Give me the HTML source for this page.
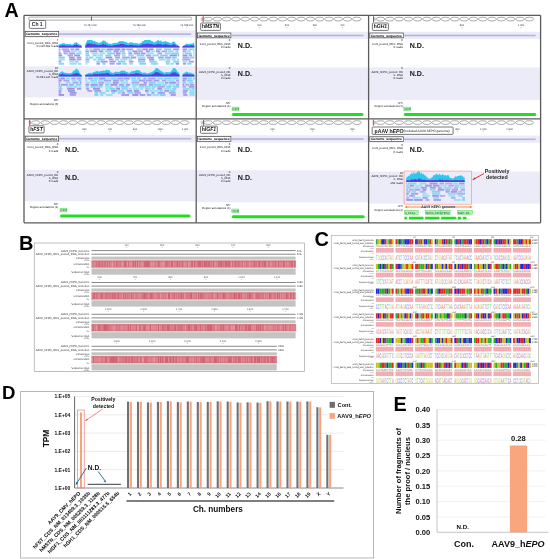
<!DOCTYPE html>
<html><head><meta charset="utf-8"><style>
html,body{margin:0;padding:0;background:#fff;}
body{width:550px;height:559px;overflow:hidden;}
svg{display:block;font-family:"Liberation Sans", Arial, sans-serif;}
.g text{text-rendering:geometricPrecision;}
</style></head><body>
<svg width="550" height="559" viewBox="0 0 550 559">
<rect width="550" height="559" fill="#fff"/>
<rect x="28.50" y="17.10" width="163.20" height="3" rx="1.5" fill="#fff" stroke="#888" stroke-width="0.7"/>
<rect x="91.00" y="16.50" width="1.00" height="4.00" fill="#e8303a" />
<rect x="29.30" y="20.50" width="16.40" height="7.90" fill="#fff" stroke="#555" stroke-width="0.8" rx="0.8"/>
<text x="37.2" y="26.0" font-size="5.0" font-weight="bold" text-anchor="middle" fill="#222">Ch 1</text>
<text x="90.30" y="26.00" font-size="2.6" fill="#333"   text-anchor="middle" text-rendering="geometricPrecision" >76,784,000</text>
<line x1="90.30" y1="27.20" x2="90.30" y2="28.30" stroke="#666" stroke-width="0.4" />
<text x="139.30" y="26.00" font-size="2.6" fill="#333"   text-anchor="middle" text-rendering="geometricPrecision" >76,786,000</text>
<line x1="139.30" y1="27.20" x2="139.30" y2="28.30" stroke="#666" stroke-width="0.4" />
<text x="186.70" y="26.00" font-size="2.6" fill="#333"   text-anchor="middle" text-rendering="geometricPrecision" >76,788,000</text>
<line x1="186.70" y1="27.20" x2="186.70" y2="28.30" stroke="#666" stroke-width="0.4" />
<rect x="24.50" y="30.40" width="171.20" height="7.20" fill="#ececf8" />
<rect x="25.20" y="31.60" width="33.5" height="4.8" fill="#fff" stroke="#444" stroke-width="0.7"/>
<text x="26.30" y="35.20" font-size="3.4" fill="#000" font-weight="bold"  text-anchor="start" text-rendering="geometricPrecision" >Genome_sequence</text>
<rect x="59.00" y="33.30" width="132.20" height="1.60" fill="#b4b4dc" />
<rect x="24.50" y="66.30" width="171.20" height="31.20" fill="#ececf8" />
<text x="58.20" y="40.90" font-size="2.8" fill="#111"   text-anchor="end" text-rendering="geometricPrecision" >4</text>
<text x="58.20" y="44.10" font-size="2.8" fill="#111"   text-anchor="end" text-rendering="geometricPrecision" >Cont_pooled_DBS_DNA</text>
<text x="58.20" y="46.60" font-size="2.8" fill="#111"   text-anchor="end" text-rendering="geometricPrecision" >54,135,082 reads</text>
<text x="58.20" y="68.90" font-size="2.8" fill="#111"   text-anchor="end" text-rendering="geometricPrecision" >10</text>
<text x="58.20" y="71.70" font-size="2.8" fill="#111"   text-anchor="end" text-rendering="geometricPrecision" >AAV9_hEPO_pooled_DB</text>
<text x="58.20" y="74.50" font-size="2.8" fill="#111"   text-anchor="end" text-rendering="geometricPrecision" >S_DNA</text>
<text x="58.20" y="77.70" font-size="2.8" fill="#111"   text-anchor="end" text-rendering="geometricPrecision" >51,691,334 reads</text>
<text x="58.20" y="101.10" font-size="2.8" fill="#111"   text-anchor="end" text-rendering="geometricPrecision" >NT/</text>
<text x="58.20" y="105.10" font-size="2.8" fill="#111"   text-anchor="end" text-rendering="geometricPrecision" >Region annotations (0)</text>
<path d="M58.6,47.6 L58.6,44.4 L59.2,44.4 L59.8,44.3 L60.4,43.8 L61.0,43.8 L61.6,43.9 L62.2,43.1 L62.8,43.4 L63.4,43.0 L64.0,43.5 L64.6,43.1 L65.2,43.7 L65.8,44.1 L66.4,44.1 L67.0,44.1 L67.6,43.9 L68.2,44.1 L68.8,44.2 L69.4,43.9 L70.0,43.9 L70.6,43.8 L71.2,44.6 L71.8,44.4 L72.4,44.6 L73.0,44.2 L73.6,43.9 L74.2,42.9 L74.8,42.4 L75.4,42.5 L76.0,42.5 L76.6,42.0 L77.2,43.0 L77.8,43.1 L78.4,43.9 L79.0,44.4 L79.6,44.3 L80.2,44.6 L80.8,44.9 L81.4,45.4 L82.0,47.6 L82.6,47.6 L83.2,47.6 L83.8,47.6 L84.4,47.6 L85.0,47.6 L85.6,43.4 L86.2,42.2 L86.8,41.6 L87.4,40.1 L88.0,40.1 L88.6,40.1 L89.2,40.1 L89.8,40.1 L90.4,40.1 L91.0,40.1 L91.6,40.1 L92.2,40.1 L92.8,40.8 L93.4,41.0 L94.0,41.3 L94.6,40.7 L95.2,41.5 L95.8,41.9 L96.4,42.3 L97.0,42.0 L97.6,42.3 L98.2,42.8 L98.8,43.3 L99.4,42.7 L100.0,42.6 L100.6,42.6 L101.2,42.0 L101.8,41.8 L102.4,40.8 L103.0,40.9 L103.6,40.1 L104.2,41.2 L104.8,40.5 L105.4,41.1 L106.0,41.9 L106.6,42.6 L107.2,42.6 L107.8,42.7 L108.4,43.7 L109.0,43.6 L109.6,43.8 L110.2,43.8 L110.8,43.8 L111.4,43.8 L112.0,43.9 L112.6,43.2 L113.2,43.3 L113.8,42.8 L114.4,42.9 L115.0,43.0 L115.6,42.6 L116.2,42.6 L116.8,43.2 L117.4,42.5 L118.0,42.4 L118.6,41.6 L119.2,41.1 L119.8,41.2 L120.4,40.9 L121.0,41.0 L121.6,41.5 L122.2,40.7 L122.8,41.2 L123.4,41.6 L124.0,41.1 L124.6,42.1 L125.2,41.8 L125.8,42.1 L126.4,42.1 L127.0,42.4 L127.6,43.1 L128.2,43.4 L128.8,43.1 L129.4,42.7 L130.0,42.3 L130.6,42.1 L131.2,42.6 L131.8,42.5 L132.4,42.4 L133.0,42.5 L133.6,43.3 L134.2,43.1 L134.8,43.6 L135.4,42.9 L136.0,43.1 L136.6,43.2 L137.2,43.3 L137.8,43.3 L138.4,43.8 L139.0,43.7 L139.6,43.4 L140.2,43.2 L140.8,42.4 L141.4,42.6 L142.0,42.3 L142.6,41.0 L143.2,41.0 L143.8,40.9 L144.4,40.1 L145.0,40.1 L145.6,40.1 L146.2,40.1 L146.8,40.1 L147.4,40.1 L148.0,40.1 L148.6,40.1 L149.2,40.1 L149.8,40.1 L150.4,40.1 L151.0,40.9 L151.6,40.9 L152.2,41.1 L152.8,41.6 L153.4,42.0 L154.0,42.0 L154.6,42.5 L155.2,42.3 L155.8,41.2 L156.4,41.5 L157.0,41.0 L157.6,40.1 L158.2,40.1 L158.8,40.5 L159.4,41.2 L160.0,40.6 L160.6,40.5 L161.2,41.3 L161.8,41.4 L162.4,41.8 L163.0,42.0 L163.6,41.4 L164.2,41.3 L164.8,41.7 L165.4,40.9 L166.0,40.8 L166.6,41.9 L167.2,41.7 L167.8,42.1 L168.4,42.2 L169.0,42.5 L169.6,42.7 L170.2,43.3 L170.8,42.9 L171.4,43.2 L172.0,42.6 L172.6,41.8 L173.2,41.6 L173.8,41.6 L174.4,41.8 L175.0,42.0 L175.6,43.4 L176.2,44.0 L176.8,44.6 L177.4,45.0 L178.0,45.4 L178.6,45.8 L179.2,46.2 L179.8,47.6 L180.4,47.6 L181.0,47.6 L181.6,47.6 L182.2,47.6 L182.8,46.3 L183.4,45.8 L184.0,45.5 L184.6,44.9 L185.2,44.6 L185.8,43.9 L186.4,43.5 L187.0,44.1 L187.6,43.6 L188.2,43.9 L188.8,44.0 L189.4,44.1 L190.0,43.5 L190.6,43.8 L191.2,43.7 L191.8,43.6 L192.4,43.8 L193.0,43.0 L193.6,42.5 L194.2,42.5 L194.5,47.6 Z" fill="#2ec8ee"/>
<path d="M58.6,47.6 L58.6,45.8 L59.2,45.8 L59.8,45.8 L60.4,45.6 L61.0,45.4 L61.6,45.8 L62.2,45.0 L62.8,45.6 L63.4,44.9 L64.0,45.2 L64.6,45.2 L65.2,45.8 L65.8,45.5 L66.4,45.7 L67.0,45.6 L67.6,45.8 L68.2,45.7 L68.8,45.8 L69.4,45.4 L70.0,45.8 L70.6,45.8 L71.2,45.8 L71.8,45.8 L72.4,45.8 L73.0,45.8 L73.6,45.5 L74.2,45.0 L74.8,44.8 L75.4,45.3 L76.0,44.6 L76.6,44.2 L77.2,45.1 L77.8,45.1 L78.4,45.4 L79.0,45.8 L79.6,45.7 L80.2,45.8 L80.8,45.8 L81.4,45.8 L82.0,47.6 L82.6,47.6 L83.2,47.6 L83.8,47.6 L84.4,47.6 L85.0,47.6 L85.6,45.4 L86.2,44.7 L86.8,44.3 L87.4,43.2 L88.0,43.8 L88.6,43.6 L89.2,43.3 L89.8,43.4 L90.4,43.5 L91.0,44.0 L91.6,43.7 L92.2,43.2 L92.8,44.5 L93.4,43.9 L94.0,44.6 L94.6,43.8 L95.2,44.0 L95.8,44.5 L96.4,44.9 L97.0,44.3 L97.6,44.9 L98.2,45.2 L98.8,45.3 L99.4,44.7 L100.0,44.6 L100.6,45.2 L101.2,44.9 L101.8,44.6 L102.4,44.1 L103.0,43.8 L103.6,43.7 L104.2,44.7 L104.8,44.4 L105.4,44.1 L106.0,44.4 L106.6,45.2 L107.2,45.3 L107.8,45.2 L108.4,45.8 L109.0,45.5 L109.6,45.5 L110.2,45.4 L110.8,45.8 L111.4,45.8 L112.0,45.7 L112.6,45.5 L113.2,45.4 L113.8,45.1 L114.4,44.9 L115.0,45.0 L115.6,45.3 L116.2,44.8 L116.8,45.3 L117.4,44.6 L118.0,44.8 L118.6,44.2 L119.2,44.2 L119.8,44.5 L120.4,43.8 L121.0,43.9 L121.6,44.0 L122.2,43.5 L122.8,44.0 L123.4,44.1 L124.0,44.3 L124.6,44.7 L125.2,44.3 L125.8,45.1 L126.4,45.1 L127.0,45.1 L127.6,45.0 L128.2,45.6 L128.8,45.1 L129.4,44.9 L130.0,44.8 L130.6,45.0 L131.2,45.0 L131.8,44.8 L132.4,44.8 L133.0,44.9 L133.6,45.4 L134.2,44.9 L134.8,45.3 L135.4,45.1 L136.0,45.5 L136.6,45.3 L137.2,45.7 L137.8,45.3 L138.4,45.5 L139.0,45.6 L139.6,45.7 L140.2,45.4 L140.8,44.6 L141.4,45.0 L142.0,44.8 L142.6,43.8 L143.2,44.3 L143.8,44.0 L144.4,44.1 L145.0,44.2 L145.6,44.0 L146.2,43.9 L146.8,43.5 L147.4,43.4 L148.0,43.7 L148.6,44.0 L149.2,43.7 L149.8,43.8 L150.4,44.0 L151.0,43.9 L151.6,44.0 L152.2,44.1 L152.8,44.7 L153.4,44.4 L154.0,44.8 L154.6,44.6 L155.2,44.4 L155.8,44.6 L156.4,44.2 L157.0,44.6 L157.6,43.8 L158.2,44.1 L158.8,43.7 L159.4,44.5 L160.0,43.5 L160.6,44.3 L161.2,44.0 L161.8,44.2 L162.4,45.0 L163.0,45.0 L163.6,44.3 L164.2,44.6 L164.8,44.8 L165.4,43.6 L166.0,44.5 L166.6,44.2 L167.2,44.3 L167.8,44.7 L168.4,44.8 L169.0,45.3 L169.6,44.8 L170.2,45.4 L170.8,45.2 L171.4,45.5 L172.0,45.3 L172.6,44.3 L173.2,44.1 L173.8,44.5 L174.4,44.6 L175.0,44.4 L175.6,45.1 L176.2,45.5 L176.8,45.8 L177.4,45.8 L178.0,45.8 L178.6,45.8 L179.2,46.2 L179.8,47.6 L180.4,47.6 L181.0,47.6 L181.6,47.6 L182.2,47.6 L182.8,46.3 L183.4,45.8 L184.0,45.8 L184.6,45.8 L185.2,45.8 L185.8,45.6 L186.4,45.2 L187.0,45.7 L187.6,45.6 L188.2,45.8 L188.8,45.8 L189.4,45.8 L190.0,45.4 L190.6,45.3 L191.2,45.2 L191.8,45.3 L192.4,45.6 L193.0,45.5 L193.6,45.2 L194.2,45.2 L194.5,47.6 Z" fill="#5840e0"/>
<rect x="58.6" y="48.4" width="1.8" height="1.9" fill="#aaa4f0"/><rect x="58.6" y="50.4" width="1.9" height="1.9" fill="#82d2ee"/><rect x="58.6" y="52.5" width="2.8" height="1.9" fill="#a29cec"/><rect x="58.6" y="54.5" width="3.6" height="1.9" fill="#9a94e8"/><rect x="58.6" y="56.6" width="6.2" height="1.9" fill="#82d2ee"/><rect x="58.6" y="58.6" width="6.3" height="1.9" fill="#9adef4"/><rect x="58.6" y="60.7" width="2.8" height="1.9" fill="#aaa4f0"/><rect x="58.6" y="62.8" width="5.4" height="1.9" fill="#8cd8f2"/><rect x="61.6" y="48.4" width="7.6" height="1.9" fill="#aaa4f0"/><rect x="63.1" y="50.4" width="7.0" height="1.9" fill="#a29cec"/><rect x="63.6" y="52.5" width="4.2" height="1.9" fill="#aaa4f0"/><rect x="67.5" y="54.5" width="5.5" height="1.9" fill="#aaa4f0"/><rect x="68.8" y="52.5" width="6.3" height="1.9" fill="#a29cec"/><rect x="69.0" y="56.6" width="5.6" height="1.9" fill="#9a94e8"/><rect x="69.3" y="58.6" width="6.4" height="1.9" fill="#9a94e8"/><rect x="69.4" y="60.7" width="4.5" height="1.9" fill="#9adef4"/><rect x="69.6" y="62.8" width="7.3" height="1.9" fill="#9adef4"/><rect x="70.4" y="48.4" width="4.1" height="1.9" fill="#aaa4f0"/><rect x="70.8" y="50.4" width="5.9" height="1.9" fill="#9adef4"/><rect x="74.2" y="54.5" width="5.8" height="1.9" fill="#9a94e8"/><rect x="74.7" y="60.7" width="4.0" height="1.9" fill="#8cd8f2"/><rect x="75.4" y="48.4" width="3.9" height="1.9" fill="#9a94e8"/><rect x="76.1" y="52.5" width="5.5" height="1.9" fill="#8cd8f2"/><rect x="76.6" y="56.6" width="4.7" height="1.9" fill="#a29cec"/><rect x="76.6" y="58.6" width="4.8" height="1.9" fill="#aaa4f0"/><rect x="77.8" y="50.4" width="3.5" height="1.9" fill="#9adef4"/><rect x="78.0" y="62.8" width="3.3" height="1.9" fill="#9adef4"/><rect x="85.5" y="48.4" width="2.3" height="1.9" fill="#8cd8f2"/><rect x="85.5" y="50.4" width="3.6" height="1.9" fill="#a29cec"/><rect x="85.5" y="52.5" width="3.5" height="1.9" fill="#82d2ee"/><rect x="85.5" y="54.5" width="4.0" height="1.9" fill="#82d2ee"/><rect x="85.5" y="56.6" width="2.7" height="1.9" fill="#8cd8f2"/><rect x="85.5" y="58.6" width="3.9" height="1.9" fill="#aaa4f0"/><rect x="85.5" y="60.7" width="3.9" height="1.9" fill="#8cd8f2"/><rect x="85.5" y="62.8" width="1.9" height="1.9" fill="#9adef4"/><rect x="88.8" y="48.4" width="3.9" height="1.9" fill="#9adef4"/><rect x="88.9" y="56.6" width="4.3" height="1.9" fill="#82d2ee"/><rect x="90.1" y="50.4" width="7.1" height="1.9" fill="#9a94e8"/><rect x="91.6" y="52.5" width="6.9" height="1.9" fill="#9adef4"/><rect x="92.7" y="54.5" width="4.1" height="1.9" fill="#8cd8f2"/><rect x="93.2" y="58.6" width="3.2" height="1.9" fill="#8cd8f2"/><rect x="93.3" y="48.4" width="6.6" height="1.9" fill="#a29cec"/><rect x="95.8" y="56.6" width="6.9" height="1.9" fill="#8cd8f2"/><rect x="96.3" y="60.7" width="3.5" height="1.9" fill="#82d2ee"/><rect x="96.5" y="62.8" width="3.5" height="1.9" fill="#a29cec"/><rect x="97.5" y="54.5" width="5.5" height="1.9" fill="#9adef4"/><rect x="97.7" y="58.6" width="7.2" height="1.9" fill="#82d2ee"/><rect x="98.6" y="50.4" width="4.8" height="1.9" fill="#9a94e8"/><rect x="99.6" y="52.5" width="5.7" height="1.9" fill="#9adef4"/><rect x="100.5" y="60.7" width="7.2" height="1.9" fill="#a29cec"/><rect x="100.6" y="48.4" width="5.1" height="1.9" fill="#8cd8f2"/><rect x="102.3" y="62.8" width="3.2" height="1.9" fill="#82d2ee"/><rect x="104.8" y="50.4" width="6.7" height="1.9" fill="#8cd8f2"/><rect x="105.4" y="54.5" width="5.9" height="1.9" fill="#82d2ee"/><rect x="105.5" y="56.6" width="6.8" height="1.9" fill="#9a94e8"/><rect x="106.6" y="48.4" width="7.0" height="1.9" fill="#9a94e8"/><rect x="107.2" y="52.5" width="7.8" height="1.9" fill="#82d2ee"/><rect x="108.8" y="58.6" width="4.8" height="1.9" fill="#aaa4f0"/><rect x="109.4" y="60.7" width="6.3" height="1.9" fill="#a29cec"/><rect x="109.5" y="62.8" width="5.2" height="1.9" fill="#aaa4f0"/><rect x="113.4" y="50.4" width="5.4" height="1.9" fill="#9a94e8"/><rect x="114.0" y="54.5" width="6.1" height="1.9" fill="#aaa4f0"/><rect x="114.3" y="48.4" width="6.1" height="1.9" fill="#9a94e8"/><rect x="115.0" y="56.6" width="5.2" height="1.9" fill="#aaa4f0"/><rect x="115.3" y="58.6" width="3.5" height="1.9" fill="#82d2ee"/><rect x="115.8" y="52.5" width="4.8" height="1.9" fill="#9a94e8"/><rect x="116.3" y="62.8" width="4.9" height="1.9" fill="#aaa4f0"/><rect x="117.7" y="60.7" width="7.6" height="1.9" fill="#82d2ee"/><rect x="119.8" y="50.4" width="5.0" height="1.9" fill="#82d2ee"/><rect x="120.3" y="58.6" width="7.2" height="1.9" fill="#9adef4"/><rect x="121.4" y="48.4" width="4.1" height="1.9" fill="#9a94e8"/><rect x="121.6" y="52.5" width="4.0" height="1.9" fill="#82d2ee"/><rect x="121.7" y="54.5" width="3.9" height="1.9" fill="#9adef4"/><rect x="122.1" y="56.6" width="7.7" height="1.9" fill="#aaa4f0"/><rect x="122.4" y="62.8" width="4.4" height="1.9" fill="#8cd8f2"/><rect x="126.3" y="48.4" width="6.9" height="1.9" fill="#aaa4f0"/><rect x="127.8" y="50.4" width="3.8" height="1.9" fill="#9adef4"/><rect x="128.3" y="52.5" width="3.9" height="1.9" fill="#a29cec"/><rect x="128.4" y="54.5" width="5.3" height="1.9" fill="#8cd8f2"/><rect x="128.5" y="58.6" width="3.6" height="1.9" fill="#9adef4"/><rect x="128.9" y="60.7" width="4.5" height="1.9" fill="#a29cec"/><rect x="129.0" y="62.8" width="4.1" height="1.9" fill="#9adef4"/><rect x="130.7" y="56.6" width="5.6" height="1.9" fill="#a29cec"/><rect x="132.5" y="50.4" width="5.2" height="1.9" fill="#9a94e8"/><rect x="133.8" y="52.5" width="6.2" height="1.9" fill="#a29cec"/><rect x="136.7" y="48.4" width="4.9" height="1.9" fill="#8cd8f2"/><rect x="136.7" y="54.5" width="7.6" height="1.9" fill="#82d2ee"/><rect x="137.7" y="56.6" width="7.9" height="1.9" fill="#9adef4"/><rect x="138.1" y="58.6" width="7.2" height="1.9" fill="#a29cec"/><rect x="138.1" y="60.7" width="7.0" height="1.9" fill="#82d2ee"/><rect x="138.3" y="50.4" width="4.6" height="1.9" fill="#aaa4f0"/><rect x="139.3" y="62.8" width="6.7" height="1.9" fill="#82d2ee"/><rect x="140.7" y="52.5" width="4.8" height="1.9" fill="#a29cec"/><rect x="142.4" y="48.4" width="5.5" height="1.9" fill="#9a94e8"/><rect x="145.8" y="50.4" width="4.1" height="1.9" fill="#9a94e8"/><rect x="145.9" y="54.5" width="5.3" height="1.9" fill="#aaa4f0"/><rect x="146.7" y="52.5" width="7.1" height="1.9" fill="#9adef4"/><rect x="147.1" y="56.6" width="6.8" height="1.9" fill="#a29cec"/><rect x="148.7" y="48.4" width="4.8" height="1.9" fill="#9a94e8"/><rect x="149.1" y="58.6" width="5.1" height="1.9" fill="#9a94e8"/><rect x="149.3" y="60.7" width="7.4" height="1.9" fill="#82d2ee"/><rect x="150.8" y="50.4" width="4.5" height="1.9" fill="#9adef4"/><rect x="150.9" y="62.8" width="7.2" height="1.9" fill="#8cd8f2"/><rect x="152.5" y="54.5" width="6.3" height="1.9" fill="#8cd8f2"/><rect x="155.8" y="48.4" width="6.0" height="1.9" fill="#82d2ee"/><rect x="156.0" y="50.4" width="4.3" height="1.9" fill="#a29cec"/><rect x="157.5" y="52.5" width="4.6" height="1.9" fill="#aaa4f0"/><rect x="158.2" y="56.6" width="5.4" height="1.9" fill="#a29cec"/><rect x="158.8" y="58.6" width="7.1" height="1.9" fill="#9adef4"/><rect x="160.1" y="54.5" width="7.7" height="1.9" fill="#82d2ee"/><rect x="161.6" y="50.4" width="5.7" height="1.9" fill="#aaa4f0"/><rect x="164.1" y="48.4" width="7.2" height="1.9" fill="#82d2ee"/><rect x="164.8" y="52.5" width="5.7" height="1.9" fill="#8cd8f2"/><rect x="164.9" y="56.6" width="6.3" height="1.9" fill="#aaa4f0"/><rect x="165.5" y="60.7" width="4.6" height="1.9" fill="#82d2ee"/><rect x="165.9" y="62.8" width="3.5" height="1.9" fill="#8cd8f2"/><rect x="166.5" y="58.6" width="3.9" height="1.9" fill="#8cd8f2"/><rect x="168.1" y="50.4" width="5.4" height="1.9" fill="#8cd8f2"/><rect x="169.6" y="54.5" width="7.3" height="1.9" fill="#9a94e8"/><rect x="170.1" y="62.8" width="4.1" height="1.9" fill="#9adef4"/><rect x="171.1" y="52.5" width="7.9" height="1.9" fill="#82d2ee"/><rect x="171.6" y="58.6" width="4.2" height="1.9" fill="#9adef4"/><rect x="171.8" y="56.6" width="5.0" height="1.9" fill="#82d2ee"/><rect x="173.1" y="48.4" width="6.0" height="1.9" fill="#a29cec"/><rect x="173.4" y="60.7" width="5.6" height="1.9" fill="#82d2ee"/><rect x="175.3" y="50.4" width="3.0" height="1.9" fill="#8cd8f2"/><rect x="175.7" y="62.8" width="3.4" height="1.9" fill="#9a94e8"/><rect x="177.2" y="58.6" width="1.9" height="1.9" fill="#8cd8f2"/><rect x="177.7" y="54.5" width="1.4" height="1.9" fill="#a29cec"/><rect x="182.6" y="48.4" width="4.6" height="1.9" fill="#a29cec"/><rect x="182.6" y="50.4" width="3.6" height="1.9" fill="#aaa4f0"/><rect x="182.6" y="52.5" width="1.2" height="1.9" fill="#8cd8f2"/><rect x="182.6" y="54.5" width="4.9" height="1.9" fill="#9a94e8"/><rect x="182.6" y="56.6" width="6.2" height="1.9" fill="#aaa4f0"/><rect x="182.4" y="58.6" width="8.0" height="1.9" fill="#aaa4f0"/><rect x="182.6" y="60.7" width="4.6" height="1.9" fill="#9adef4"/><rect x="183.0" y="62.8" width="3.0" height="1.9" fill="#a29cec"/><rect x="184.7" y="52.5" width="7.0" height="1.9" fill="#82d2ee"/><rect x="186.9" y="50.4" width="3.8" height="1.9" fill="#9adef4"/><rect x="187.1" y="62.8" width="4.5" height="1.9" fill="#8cd8f2"/><rect x="188.4" y="48.4" width="6.1" height="1.9" fill="#8cd8f2"/><rect x="188.7" y="54.5" width="3.4" height="1.9" fill="#aaa4f0"/><rect x="188.7" y="60.7" width="5.3" height="1.9" fill="#aaa4f0"/><rect x="189.5" y="56.6" width="5.0" height="1.9" fill="#82d2ee"/><rect x="193.2" y="50.4" width="1.3" height="1.9" fill="#8cd8f2"/><rect x="193.2" y="52.5" width="1.3" height="1.9" fill="#9adef4"/><rect x="193.4" y="54.5" width="1.1" height="1.9" fill="#8cd8f2"/>
<path d="M58.6,76.6 L58.6,73.4 L59.2,73.3 L59.8,73.0 L60.4,72.2 L61.0,72.1 L61.6,71.4 L62.2,71.6 L62.8,71.6 L63.4,71.9 L64.0,72.5 L64.6,72.6 L65.2,73.1 L65.8,72.8 L66.4,72.9 L67.0,72.8 L67.6,73.4 L68.2,73.0 L68.8,73.5 L69.4,73.2 L70.0,73.3 L70.6,73.3 L71.2,73.0 L71.8,72.7 L72.4,72.3 L73.0,71.3 L73.6,70.6 L74.2,70.5 L74.8,70.2 L75.4,69.7 L76.0,68.8 L76.6,68.6 L77.2,69.2 L77.8,69.8 L78.4,70.3 L79.0,70.9 L79.6,72.7 L80.2,73.6 L80.8,74.3 L81.4,74.9 L82.0,76.6 L82.6,76.6 L83.2,76.6 L83.8,76.6 L84.4,76.6 L85.0,76.6 L85.6,74.5 L86.2,74.2 L86.8,73.8 L87.4,73.7 L88.0,73.6 L88.6,73.2 L89.2,72.7 L89.8,73.2 L90.4,72.7 L91.0,73.0 L91.6,72.9 L92.2,73.0 L92.8,72.4 L93.4,72.2 L94.0,71.8 L94.6,72.0 L95.2,71.4 L95.8,71.6 L96.4,71.6 L97.0,70.6 L97.6,71.3 L98.2,71.2 L98.8,71.6 L99.4,71.4 L100.0,71.5 L100.6,70.9 L101.2,70.7 L101.8,71.0 L102.4,70.9 L103.0,70.6 L103.6,70.6 L104.2,70.7 L104.8,70.8 L105.4,70.6 L106.0,70.0 L106.6,69.6 L107.2,70.0 L107.8,70.4 L108.4,70.1 L109.0,70.0 L109.6,70.6 L110.2,71.2 L110.8,72.4 L111.4,72.1 L112.0,72.7 L112.6,72.9 L113.2,73.0 L113.8,72.2 L114.4,72.4 L115.0,71.8 L115.6,71.5 L116.2,72.2 L116.8,71.6 L117.4,71.8 L118.0,71.9 L118.6,71.9 L119.2,72.1 L119.8,71.4 L120.4,71.0 L121.0,70.9 L121.6,70.4 L122.2,70.4 L122.8,70.7 L123.4,70.4 L124.0,70.4 L124.6,70.9 L125.2,71.0 L125.8,71.8 L126.4,71.8 L127.0,71.8 L127.6,72.3 L128.2,72.4 L128.8,72.9 L129.4,72.7 L130.0,72.4 L130.6,72.2 L131.2,71.8 L131.8,70.8 L132.4,71.4 L133.0,71.2 L133.6,70.9 L134.2,71.1 L134.8,71.0 L135.4,70.4 L136.0,70.2 L136.6,70.1 L137.2,69.8 L137.8,70.7 L138.4,70.3 L139.0,70.2 L139.6,70.6 L140.2,71.3 L140.8,71.8 L141.4,72.0 L142.0,72.5 L142.6,72.9 L143.2,72.9 L143.8,72.3 L144.4,72.4 L145.0,72.8 L145.6,72.8 L146.2,72.9 L146.8,73.2 L147.4,73.4 L148.0,73.3 L148.6,72.9 L149.2,73.1 L149.8,72.4 L150.4,72.4 L151.0,72.5 L151.6,72.1 L152.2,71.4 L152.8,71.6 L153.4,70.9 L154.0,70.5 L154.6,69.9 L155.2,68.9 L155.8,68.2 L156.4,68.1 L157.0,68.1 L157.6,68.5 L158.2,68.5 L158.8,69.2 L159.4,69.8 L160.0,70.3 L160.6,70.6 L161.2,71.2 L161.8,71.3 L162.4,71.4 L163.0,71.9 L163.6,72.5 L164.2,72.5 L164.8,73.0 L165.4,72.4 L166.0,72.1 L166.6,71.9 L167.2,72.0 L167.8,72.2 L168.4,72.1 L169.0,72.4 L169.6,72.2 L170.2,71.8 L170.8,71.5 L171.4,71.0 L172.0,70.3 L172.6,68.9 L173.2,68.1 L173.8,68.1 L174.4,68.1 L175.0,68.6 L175.6,68.7 L176.2,69.1 L176.8,71.0 L177.4,71.4 L178.0,71.7 L178.6,72.5 L179.2,72.7 L179.8,76.6 L180.4,76.6 L181.0,76.6 L181.6,76.6 L182.2,76.6 L182.8,73.6 L183.4,73.4 L184.0,73.1 L184.6,72.8 L185.2,72.3 L185.8,72.2 L186.4,71.6 L187.0,71.7 L187.6,71.9 L188.2,72.3 L188.8,72.8 L189.4,72.8 L190.0,72.4 L190.6,72.7 L191.2,72.7 L191.8,73.2 L192.4,73.4 L193.0,73.6 L193.6,74.0 L194.2,74.1 L194.5,76.6 Z" fill="#2ec8ee"/>
<path d="M58.6,76.6 L58.6,74.8 L59.2,74.8 L59.8,74.6 L60.4,74.2 L61.0,74.3 L61.6,74.2 L62.2,73.6 L62.8,74.1 L63.4,74.0 L64.0,74.5 L64.6,74.3 L65.2,74.8 L65.8,74.4 L66.4,74.6 L67.0,74.7 L67.6,74.8 L68.2,74.6 L68.8,74.8 L69.4,74.8 L70.0,74.8 L70.6,74.8 L71.2,74.8 L71.8,74.6 L72.4,74.2 L73.0,74.2 L73.6,73.7 L74.2,73.3 L74.8,73.5 L75.4,73.4 L76.0,73.0 L76.6,72.7 L77.2,72.9 L77.8,73.4 L78.4,73.4 L79.0,73.2 L79.6,74.5 L80.2,74.8 L80.8,74.8 L81.4,74.9 L82.0,76.6 L82.6,76.6 L83.2,76.6 L83.8,76.6 L84.4,76.6 L85.0,76.6 L85.6,74.8 L86.2,74.8 L86.8,74.8 L87.4,74.8 L88.0,74.8 L88.6,74.6 L89.2,74.8 L89.8,74.8 L90.4,74.5 L91.0,74.4 L91.6,74.8 L92.2,74.8 L92.8,74.6 L93.4,74.1 L94.0,73.8 L94.6,74.1 L95.2,73.7 L95.8,73.8 L96.4,74.1 L97.0,73.5 L97.6,73.6 L98.2,74.2 L98.8,74.2 L99.4,73.5 L100.0,73.7 L100.6,73.7 L101.2,73.3 L101.8,73.9 L102.4,73.3 L103.0,73.7 L103.6,73.5 L104.2,73.5 L104.8,73.3 L105.4,73.8 L106.0,73.3 L106.6,72.9 L107.2,72.8 L107.8,73.1 L108.4,73.2 L109.0,73.6 L109.6,73.8 L110.2,74.0 L110.8,74.4 L111.4,74.4 L112.0,74.5 L112.6,74.6 L113.2,74.7 L113.8,74.4 L114.4,74.7 L115.0,74.1 L115.6,73.7 L116.2,74.0 L116.8,73.8 L117.4,74.0 L118.0,74.0 L118.6,74.3 L119.2,74.1 L119.8,74.2 L120.4,73.6 L121.0,73.4 L121.6,73.5 L122.2,73.4 L122.8,73.6 L123.4,73.4 L124.0,73.5 L124.6,73.2 L125.2,73.8 L125.8,74.1 L126.4,73.8 L127.0,73.7 L127.6,74.4 L128.2,74.2 L128.8,74.8 L129.4,74.7 L130.0,74.1 L130.6,74.0 L131.2,74.3 L131.8,73.9 L132.4,74.1 L133.0,73.9 L133.6,73.9 L134.2,73.5 L134.8,73.9 L135.4,73.0 L136.0,73.0 L136.6,72.9 L137.2,73.4 L137.8,73.4 L138.4,73.3 L139.0,73.6 L139.6,73.5 L140.2,74.0 L140.8,74.0 L141.4,73.9 L142.0,74.3 L142.6,74.6 L143.2,74.5 L143.8,74.5 L144.4,74.6 L145.0,74.8 L145.6,74.8 L146.2,74.6 L146.8,74.7 L147.4,74.8 L148.0,74.8 L148.6,74.8 L149.2,74.6 L149.8,74.4 L150.4,74.6 L151.0,74.4 L151.6,74.5 L152.2,74.2 L152.8,73.8 L153.4,74.0 L154.0,73.3 L154.6,72.7 L155.2,72.5 L155.8,72.2 L156.4,71.7 L157.0,72.3 L157.6,72.0 L158.2,72.4 L158.8,72.7 L159.4,72.7 L160.0,73.2 L160.6,73.5 L161.2,73.6 L161.8,73.6 L162.4,73.8 L163.0,74.4 L163.6,74.5 L164.2,74.2 L164.8,74.8 L165.4,74.4 L166.0,74.5 L166.6,74.2 L167.2,74.5 L167.8,74.1 L168.4,74.2 L169.0,74.7 L169.6,74.3 L170.2,74.0 L170.8,73.6 L171.4,73.3 L172.0,72.9 L172.6,72.6 L173.2,72.1 L173.8,72.7 L174.4,72.0 L175.0,72.9 L175.6,71.9 L176.2,72.7 L176.8,73.4 L177.4,73.7 L178.0,73.7 L178.6,74.3 L179.2,74.8 L179.8,76.6 L180.4,76.6 L181.0,76.6 L181.6,76.6 L182.2,76.6 L182.8,74.8 L183.4,74.8 L184.0,74.6 L184.6,74.6 L185.2,74.3 L185.8,74.6 L186.4,73.8 L187.0,73.9 L187.6,74.4 L188.2,74.3 L188.8,74.8 L189.4,74.6 L190.0,74.3 L190.6,74.8 L191.2,74.5 L191.8,74.8 L192.4,74.8 L193.0,74.8 L193.6,74.8 L194.2,74.8 L194.5,76.6 Z" fill="#5840e0"/>
<rect x="58.6" y="77.6" width="1.1" height="1.9" fill="#9a94e8"/><rect x="58.6" y="79.6" width="3.1" height="1.9" fill="#9a94e8"/><rect x="58.6" y="81.7" width="1.8" height="1.9" fill="#aaa4f0"/><rect x="58.6" y="83.8" width="1.4" height="1.9" fill="#a29cec"/><rect x="58.6" y="85.8" width="3.2" height="1.9" fill="#82d2ee"/><rect x="58.6" y="87.8" width="3.6" height="1.9" fill="#82d2ee"/><rect x="58.6" y="89.9" width="3.0" height="1.9" fill="#aaa4f0"/><rect x="58.6" y="91.9" width="2.5" height="1.9" fill="#a29cec"/><rect x="58.6" y="94.0" width="5.5" height="1.9" fill="#9a94e8"/><rect x="60.4" y="77.6" width="4.5" height="1.9" fill="#9a94e8"/><rect x="60.9" y="83.8" width="7.0" height="1.9" fill="#a29cec"/><rect x="63.4" y="79.6" width="5.9" height="1.9" fill="#aaa4f0"/><rect x="66.2" y="77.6" width="3.6" height="1.9" fill="#8cd8f2"/><rect x="66.2" y="81.7" width="4.3" height="1.9" fill="#8cd8f2"/><rect x="66.4" y="85.8" width="6.0" height="1.9" fill="#9adef4"/><rect x="67.1" y="87.8" width="7.5" height="1.9" fill="#9a94e8"/><rect x="68.0" y="89.9" width="6.9" height="1.9" fill="#9a94e8"/><rect x="69.1" y="83.8" width="4.8" height="1.9" fill="#aaa4f0"/><rect x="69.6" y="91.9" width="6.9" height="1.9" fill="#9a94e8"/><rect x="69.6" y="94.0" width="6.2" height="1.9" fill="#aaa4f0"/><rect x="71.3" y="77.6" width="4.1" height="1.9" fill="#a29cec"/><rect x="71.8" y="79.6" width="4.9" height="1.9" fill="#9adef4"/><rect x="72.6" y="81.7" width="5.7" height="1.9" fill="#aaa4f0"/><rect x="73.5" y="85.8" width="3.7" height="1.9" fill="#8cd8f2"/><rect x="76.0" y="83.8" width="5.3" height="1.9" fill="#82d2ee"/><rect x="76.6" y="77.6" width="4.7" height="1.9" fill="#aaa4f0"/><rect x="77.0" y="87.8" width="4.3" height="1.9" fill="#a29cec"/><rect x="78.2" y="79.6" width="3.3" height="1.9" fill="#82d2ee"/><rect x="78.7" y="85.8" width="2.6" height="1.9" fill="#9adef4"/><rect x="79.8" y="81.7" width="1.5" height="1.9" fill="#9a94e8"/><rect x="85.5" y="77.6" width="1.4" height="1.9" fill="#aaa4f0"/><rect x="85.5" y="79.6" width="2.0" height="1.9" fill="#9adef4"/><rect x="85.5" y="81.7" width="4.6" height="1.9" fill="#9adef4"/><rect x="85.5" y="83.8" width="3.6" height="1.9" fill="#9a94e8"/><rect x="85.4" y="85.8" width="3.0" height="1.9" fill="#8cd8f2"/><rect x="86.1" y="87.8" width="3.0" height="1.9" fill="#a29cec"/><rect x="87.3" y="89.9" width="5.0" height="1.9" fill="#aaa4f0"/><rect x="88.1" y="77.6" width="4.7" height="1.9" fill="#aaa4f0"/><rect x="90.0" y="79.6" width="7.0" height="1.9" fill="#8cd8f2"/><rect x="90.5" y="83.8" width="7.2" height="1.9" fill="#9a94e8"/><rect x="90.5" y="85.8" width="5.2" height="1.9" fill="#82d2ee"/><rect x="90.9" y="81.7" width="6.4" height="1.9" fill="#9adef4"/><rect x="93.0" y="87.8" width="6.9" height="1.9" fill="#9a94e8"/><rect x="93.4" y="77.6" width="4.9" height="1.9" fill="#8cd8f2"/><rect x="94.3" y="89.9" width="7.1" height="1.9" fill="#a29cec"/><rect x="94.5" y="91.9" width="3.5" height="1.9" fill="#82d2ee"/><rect x="94.5" y="94.0" width="3.9" height="1.9" fill="#82d2ee"/><rect x="96.3" y="85.8" width="6.1" height="1.9" fill="#8cd8f2"/><rect x="98.2" y="79.6" width="4.7" height="1.9" fill="#9adef4"/><rect x="98.2" y="81.7" width="6.0" height="1.9" fill="#aaa4f0"/><rect x="98.6" y="83.8" width="4.5" height="1.9" fill="#a29cec"/><rect x="99.1" y="77.6" width="6.4" height="1.9" fill="#9a94e8"/><rect x="99.3" y="91.9" width="6.4" height="1.9" fill="#8cd8f2"/><rect x="100.3" y="94.0" width="3.1" height="1.9" fill="#8cd8f2"/><rect x="103.8" y="79.6" width="7.4" height="1.9" fill="#aaa4f0"/><rect x="105.0" y="81.7" width="6.0" height="1.9" fill="#9adef4"/><rect x="105.1" y="83.8" width="4.2" height="1.9" fill="#82d2ee"/><rect x="105.4" y="85.8" width="7.1" height="1.9" fill="#9adef4"/><rect x="105.4" y="87.8" width="3.2" height="1.9" fill="#9adef4"/><rect x="105.6" y="89.9" width="4.0" height="1.9" fill="#8cd8f2"/><rect x="106.0" y="94.0" width="6.7" height="1.9" fill="#9adef4"/><rect x="106.6" y="77.6" width="3.6" height="1.9" fill="#9adef4"/><rect x="109.3" y="87.8" width="6.0" height="1.9" fill="#82d2ee"/><rect x="110.4" y="83.8" width="7.1" height="1.9" fill="#9a94e8"/><rect x="110.8" y="77.6" width="5.7" height="1.9" fill="#82d2ee"/><rect x="111.1" y="89.9" width="5.7" height="1.9" fill="#9a94e8"/><rect x="111.5" y="91.9" width="3.6" height="1.9" fill="#8cd8f2"/><rect x="112.8" y="79.6" width="5.9" height="1.9" fill="#a29cec"/><rect x="112.9" y="81.7" width="5.8" height="1.9" fill="#9a94e8"/><rect x="115.1" y="85.8" width="4.8" height="1.9" fill="#9adef4"/><rect x="116.2" y="87.8" width="3.8" height="1.9" fill="#9a94e8"/><rect x="117.2" y="77.6" width="6.2" height="1.9" fill="#aaa4f0"/><rect x="117.4" y="89.9" width="6.8" height="1.9" fill="#8cd8f2"/><rect x="117.6" y="91.9" width="3.5" height="1.9" fill="#8cd8f2"/><rect x="119.1" y="83.8" width="5.1" height="1.9" fill="#a29cec"/><rect x="119.4" y="79.6" width="4.7" height="1.9" fill="#82d2ee"/><rect x="120.7" y="81.7" width="7.4" height="1.9" fill="#9adef4"/><rect x="120.8" y="85.8" width="7.7" height="1.9" fill="#82d2ee"/><rect x="121.2" y="87.8" width="6.6" height="1.9" fill="#8cd8f2"/><rect x="121.3" y="94.0" width="7.8" height="1.9" fill="#a29cec"/><rect x="121.7" y="91.9" width="3.3" height="1.9" fill="#aaa4f0"/><rect x="123.9" y="77.6" width="5.8" height="1.9" fill="#a29cec"/><rect x="125.1" y="79.6" width="3.0" height="1.9" fill="#9adef4"/><rect x="125.8" y="83.8" width="4.4" height="1.9" fill="#a29cec"/><rect x="126.6" y="89.9" width="5.5" height="1.9" fill="#a29cec"/><rect x="127.4" y="91.9" width="6.2" height="1.9" fill="#8cd8f2"/><rect x="128.6" y="87.8" width="3.1" height="1.9" fill="#9adef4"/><rect x="131.3" y="77.6" width="4.6" height="1.9" fill="#82d2ee"/><rect x="131.4" y="79.6" width="6.3" height="1.9" fill="#8cd8f2"/><rect x="131.5" y="81.7" width="7.8" height="1.9" fill="#aaa4f0"/><rect x="132.0" y="83.8" width="6.6" height="1.9" fill="#8cd8f2"/><rect x="132.3" y="85.8" width="4.2" height="1.9" fill="#9adef4"/><rect x="132.3" y="94.0" width="6.0" height="1.9" fill="#9a94e8"/><rect x="133.2" y="87.8" width="5.4" height="1.9" fill="#9adef4"/><rect x="133.9" y="89.9" width="5.3" height="1.9" fill="#9a94e8"/><rect x="134.3" y="91.9" width="6.7" height="1.9" fill="#aaa4f0"/><rect x="137.0" y="77.6" width="3.6" height="1.9" fill="#82d2ee"/><rect x="138.7" y="79.6" width="6.3" height="1.9" fill="#a29cec"/><rect x="138.8" y="85.8" width="5.1" height="1.9" fill="#8cd8f2"/><rect x="139.3" y="83.8" width="7.3" height="1.9" fill="#a29cec"/><rect x="139.5" y="87.8" width="3.6" height="1.9" fill="#9adef4"/><rect x="139.7" y="94.0" width="5.5" height="1.9" fill="#a29cec"/><rect x="143.4" y="77.6" width="3.1" height="1.9" fill="#aaa4f0"/><rect x="143.5" y="81.7" width="3.3" height="1.9" fill="#9a94e8"/><rect x="144.5" y="85.8" width="6.1" height="1.9" fill="#8cd8f2"/><rect x="145.1" y="87.8" width="5.4" height="1.9" fill="#8cd8f2"/><rect x="145.1" y="89.9" width="3.5" height="1.9" fill="#9a94e8"/><rect x="145.7" y="79.6" width="7.0" height="1.9" fill="#aaa4f0"/><rect x="145.9" y="91.9" width="3.2" height="1.9" fill="#9adef4"/><rect x="146.8" y="94.0" width="4.6" height="1.9" fill="#aaa4f0"/><rect x="147.9" y="77.6" width="7.8" height="1.9" fill="#aaa4f0"/><rect x="148.6" y="81.7" width="6.9" height="1.9" fill="#82d2ee"/><rect x="149.0" y="83.8" width="4.4" height="1.9" fill="#a29cec"/><rect x="149.5" y="89.9" width="3.9" height="1.9" fill="#9adef4"/><rect x="151.4" y="85.8" width="5.1" height="1.9" fill="#8cd8f2"/><rect x="151.4" y="87.8" width="3.2" height="1.9" fill="#8cd8f2"/><rect x="151.4" y="91.9" width="3.1" height="1.9" fill="#a29cec"/><rect x="152.4" y="94.0" width="6.7" height="1.9" fill="#9adef4"/><rect x="153.7" y="79.6" width="5.7" height="1.9" fill="#a29cec"/><rect x="154.0" y="83.8" width="7.4" height="1.9" fill="#82d2ee"/><rect x="154.0" y="89.9" width="4.5" height="1.9" fill="#9adef4"/><rect x="157.3" y="77.6" width="5.8" height="1.9" fill="#8cd8f2"/><rect x="157.3" y="81.7" width="6.7" height="1.9" fill="#9adef4"/><rect x="157.4" y="85.8" width="7.4" height="1.9" fill="#aaa4f0"/><rect x="157.5" y="87.8" width="4.7" height="1.9" fill="#9a94e8"/><rect x="157.6" y="91.9" width="7.3" height="1.9" fill="#a29cec"/><rect x="159.4" y="89.9" width="3.3" height="1.9" fill="#82d2ee"/><rect x="159.7" y="94.0" width="5.8" height="1.9" fill="#82d2ee"/><rect x="162.0" y="79.6" width="4.4" height="1.9" fill="#aaa4f0"/><rect x="162.2" y="83.8" width="4.6" height="1.9" fill="#8cd8f2"/><rect x="163.6" y="87.8" width="7.4" height="1.9" fill="#9adef4"/><rect x="164.1" y="77.6" width="7.7" height="1.9" fill="#82d2ee"/><rect x="164.4" y="89.9" width="4.9" height="1.9" fill="#a29cec"/><rect x="164.9" y="81.7" width="3.6" height="1.9" fill="#a29cec"/><rect x="166.3" y="85.8" width="5.2" height="1.9" fill="#82d2ee"/><rect x="167.3" y="79.6" width="7.4" height="1.9" fill="#9adef4"/><rect x="168.5" y="83.8" width="6.8" height="1.9" fill="#9adef4"/><rect x="168.9" y="91.9" width="6.7" height="1.9" fill="#aaa4f0"/><rect x="169.3" y="81.7" width="7.0" height="1.9" fill="#9a94e8"/><rect x="170.1" y="89.9" width="5.3" height="1.9" fill="#82d2ee"/><rect x="170.6" y="94.0" width="5.2" height="1.9" fill="#a29cec"/><rect x="171.9" y="87.8" width="4.4" height="1.9" fill="#82d2ee"/><rect x="172.6" y="77.6" width="6.5" height="1.9" fill="#8cd8f2"/><rect x="173.2" y="85.8" width="5.9" height="1.9" fill="#82d2ee"/><rect x="176.0" y="79.6" width="3.1" height="1.9" fill="#aaa4f0"/><rect x="176.1" y="83.8" width="3.0" height="1.9" fill="#aaa4f0"/><rect x="177.6" y="81.7" width="1.5" height="1.9" fill="#aaa4f0"/><rect x="182.6" y="77.6" width="4.4" height="1.9" fill="#9a94e8"/><rect x="182.6" y="79.6" width="2.9" height="1.9" fill="#9a94e8"/><rect x="182.6" y="81.7" width="3.6" height="1.9" fill="#82d2ee"/><rect x="182.6" y="83.8" width="1.7" height="1.9" fill="#9a94e8"/><rect x="182.6" y="85.8" width="3.1" height="1.9" fill="#aaa4f0"/><rect x="182.8" y="87.8" width="7.7" height="1.9" fill="#8cd8f2"/><rect x="182.8" y="89.9" width="5.0" height="1.9" fill="#a29cec"/><rect x="182.8" y="91.9" width="3.7" height="1.9" fill="#aaa4f0"/><rect x="183.2" y="94.0" width="4.3" height="1.9" fill="#aaa4f0"/><rect x="185.4" y="83.8" width="3.8" height="1.9" fill="#aaa4f0"/><rect x="186.6" y="79.6" width="6.3" height="1.9" fill="#82d2ee"/><rect x="187.6" y="77.6" width="4.4" height="1.9" fill="#8cd8f2"/><rect x="188.6" y="81.7" width="4.7" height="1.9" fill="#8cd8f2"/><rect x="188.9" y="85.8" width="5.6" height="1.9" fill="#a29cec"/><rect x="189.4" y="89.9" width="5.1" height="1.9" fill="#9adef4"/><rect x="189.5" y="91.9" width="5.0" height="1.9" fill="#8cd8f2"/><rect x="189.5" y="94.0" width="5.0" height="1.9" fill="#9adef4"/><rect x="190.0" y="83.8" width="4.2" height="1.9" fill="#a29cec"/><rect x="191.4" y="87.8" width="3.1" height="1.9" fill="#82d2ee"/><rect x="193.3" y="77.6" width="1.2" height="1.9" fill="#a29cec"/>
<rect x="200.80" y="17.40" width="2.60" height="3.50" fill="#c8c8c8" />
<ellipse cx="208.05" cy="19.10" rx="4.35" ry="1.90" fill="#fff" stroke="#888" stroke-width="0.7"/><ellipse cx="217.35" cy="19.10" rx="4.35" ry="1.90" fill="#fff" stroke="#888" stroke-width="0.7"/><ellipse cx="226.65" cy="19.10" rx="4.35" ry="1.90" fill="#fff" stroke="#888" stroke-width="0.7"/><ellipse cx="235.95" cy="19.10" rx="4.35" ry="1.90" fill="#fff" stroke="#888" stroke-width="0.7"/><ellipse cx="245.25" cy="19.10" rx="4.35" ry="1.90" fill="#fff" stroke="#888" stroke-width="0.7"/><ellipse cx="254.55" cy="19.10" rx="4.35" ry="1.90" fill="#fff" stroke="#888" stroke-width="0.7"/><ellipse cx="263.85" cy="19.10" rx="4.35" ry="1.90" fill="#fff" stroke="#888" stroke-width="0.7"/><ellipse cx="273.15" cy="19.10" rx="4.35" ry="1.90" fill="#fff" stroke="#888" stroke-width="0.7"/><ellipse cx="282.45" cy="19.10" rx="4.35" ry="1.90" fill="#fff" stroke="#888" stroke-width="0.7"/><ellipse cx="291.75" cy="19.10" rx="4.35" ry="1.90" fill="#fff" stroke="#888" stroke-width="0.7"/><ellipse cx="301.05" cy="19.10" rx="4.35" ry="1.90" fill="#fff" stroke="#888" stroke-width="0.7"/><ellipse cx="310.35" cy="19.10" rx="4.35" ry="1.90" fill="#fff" stroke="#888" stroke-width="0.7"/><ellipse cx="319.65" cy="19.10" rx="4.35" ry="1.90" fill="#fff" stroke="#888" stroke-width="0.7"/><ellipse cx="328.95" cy="19.10" rx="4.35" ry="1.90" fill="#fff" stroke="#888" stroke-width="0.7"/><ellipse cx="338.25" cy="19.10" rx="4.35" ry="1.90" fill="#fff" stroke="#888" stroke-width="0.7"/><ellipse cx="347.55" cy="19.10" rx="4.35" ry="1.90" fill="#fff" stroke="#888" stroke-width="0.7"/><ellipse cx="356.85" cy="19.10" rx="4.35" ry="1.90" fill="#fff" stroke="#888" stroke-width="0.7"/>
<rect x="202.70" y="16.20" width="1.00" height="6.00" fill="#e8303a" />
<rect x="200.70" y="23.00" width="19.70" height="7.40" fill="#fff" stroke="#555" stroke-width="0.8" rx="0.8"/>
<text x="210.5" y="28.0" font-size="5.0" font-weight="bold" text-anchor="middle" fill="#111">h<tspan font-style="italic">MSTN</tspan></text>
<text x="259.30" y="26.00" font-size="2.6" fill="#333"   text-anchor="middle" text-rendering="geometricPrecision" >100</text>
<line x1="259.30" y1="27.20" x2="259.30" y2="28.30" stroke="#666" stroke-width="0.4" />
<text x="287.00" y="26.00" font-size="2.6" fill="#333"   text-anchor="middle" text-rendering="geometricPrecision" >200</text>
<line x1="287.00" y1="27.20" x2="287.00" y2="28.30" stroke="#666" stroke-width="0.4" />
<text x="314.80" y="26.00" font-size="2.6" fill="#333"   text-anchor="middle" text-rendering="geometricPrecision" >300</text>
<line x1="314.80" y1="27.20" x2="314.80" y2="28.30" stroke="#666" stroke-width="0.4" />
<text x="342.30" y="26.00" font-size="2.6" fill="#333"   text-anchor="middle" text-rendering="geometricPrecision" >400</text>
<line x1="342.30" y1="27.20" x2="342.30" y2="28.30" stroke="#666" stroke-width="0.4" />
<rect x="196.70" y="31.80" width="171.40" height="7.20" fill="#ececf8" />
<rect x="197.40" y="33.00" width="33.5" height="4.8" fill="#fff" stroke="#444" stroke-width="0.7"/>
<text x="198.50" y="36.60" font-size="3.4" fill="#000" font-weight="bold"  text-anchor="start" text-rendering="geometricPrecision" >Genome_sequence</text>
<rect x="231.20" y="34.70" width="132.40" height="1.60" fill="#b4b4dc" />
<rect x="196.70" y="67.40" width="171.40" height="32.60" fill="#ececf8" />
<text x="230.40" y="41.20" font-size="2.8" fill="#111"   text-anchor="end" text-rendering="geometricPrecision" >0</text>
<text x="230.40" y="44.60" font-size="2.8" fill="#111"   text-anchor="end" text-rendering="geometricPrecision" >Cont_pooled_DBS_DNA</text>
<text x="230.40" y="48.00" font-size="2.8" fill="#111"   text-anchor="end" text-rendering="geometricPrecision" >0 reads</text>
<text x="230.40" y="69.30" font-size="2.8" fill="#111"   text-anchor="end" text-rendering="geometricPrecision" >0</text>
<text x="230.40" y="72.60" font-size="2.8" fill="#111"   text-anchor="end" text-rendering="geometricPrecision" >AAV9_hEPO_pooled_DB</text>
<text x="230.40" y="75.60" font-size="2.8" fill="#111"   text-anchor="end" text-rendering="geometricPrecision" >S_DNA</text>
<text x="230.40" y="78.60" font-size="2.8" fill="#111"   text-anchor="end" text-rendering="geometricPrecision" >0 reads</text>
<text x="230.40" y="103.50" font-size="2.8" fill="#111"   text-anchor="end" text-rendering="geometricPrecision" >NT/</text>
<text x="230.40" y="106.80" font-size="2.8" fill="#111"   text-anchor="end" text-rendering="geometricPrecision" >Region annotations (1)</text>
<rect x="373.20" y="17.40" width="2.60" height="3.50" fill="#c8c8c8" />
<ellipse cx="380.45" cy="19.10" rx="4.35" ry="1.90" fill="#fff" stroke="#888" stroke-width="0.7"/><ellipse cx="389.75" cy="19.10" rx="4.35" ry="1.90" fill="#fff" stroke="#888" stroke-width="0.7"/><ellipse cx="399.05" cy="19.10" rx="4.35" ry="1.90" fill="#fff" stroke="#888" stroke-width="0.7"/><ellipse cx="408.35" cy="19.10" rx="4.35" ry="1.90" fill="#fff" stroke="#888" stroke-width="0.7"/><ellipse cx="417.65" cy="19.10" rx="4.35" ry="1.90" fill="#fff" stroke="#888" stroke-width="0.7"/><ellipse cx="426.95" cy="19.10" rx="4.35" ry="1.90" fill="#fff" stroke="#888" stroke-width="0.7"/><ellipse cx="436.25" cy="19.10" rx="4.35" ry="1.90" fill="#fff" stroke="#888" stroke-width="0.7"/><ellipse cx="445.55" cy="19.10" rx="4.35" ry="1.90" fill="#fff" stroke="#888" stroke-width="0.7"/><ellipse cx="454.85" cy="19.10" rx="4.35" ry="1.90" fill="#fff" stroke="#888" stroke-width="0.7"/><ellipse cx="464.15" cy="19.10" rx="4.35" ry="1.90" fill="#fff" stroke="#888" stroke-width="0.7"/><ellipse cx="473.45" cy="19.10" rx="4.35" ry="1.90" fill="#fff" stroke="#888" stroke-width="0.7"/><ellipse cx="482.75" cy="19.10" rx="4.35" ry="1.90" fill="#fff" stroke="#888" stroke-width="0.7"/><ellipse cx="492.05" cy="19.10" rx="4.35" ry="1.90" fill="#fff" stroke="#888" stroke-width="0.7"/><ellipse cx="501.35" cy="19.10" rx="4.35" ry="1.90" fill="#fff" stroke="#888" stroke-width="0.7"/><ellipse cx="510.65" cy="19.10" rx="4.35" ry="1.90" fill="#fff" stroke="#888" stroke-width="0.7"/><ellipse cx="519.95" cy="19.10" rx="4.35" ry="1.90" fill="#fff" stroke="#888" stroke-width="0.7"/><ellipse cx="529.25" cy="19.10" rx="4.35" ry="1.90" fill="#fff" stroke="#888" stroke-width="0.7"/>
<rect x="373.00" y="16.20" width="1.00" height="6.00" fill="#e8303a" />
<rect x="372.40" y="23.00" width="16.00" height="7.40" fill="#fff" stroke="#555" stroke-width="0.8" rx="0.8"/>
<text x="380.4" y="28.0" font-size="5.0" font-weight="bold" text-anchor="middle" fill="#111">h<tspan font-style="italic">GH1</tspan></text>
<text x="462.00" y="26.00" font-size="2.6" fill="#333"   text-anchor="middle" text-rendering="geometricPrecision" >500</text>
<line x1="462.00" y1="27.20" x2="462.00" y2="28.30" stroke="#666" stroke-width="0.4" />
<text x="521.00" y="26.00" font-size="2.6" fill="#333"   text-anchor="middle" text-rendering="geometricPrecision" >1,000</text>
<line x1="521.00" y1="27.20" x2="521.00" y2="28.30" stroke="#666" stroke-width="0.4" />
<rect x="369.10" y="31.80" width="171.00" height="7.20" fill="#ececf8" />
<rect x="369.80" y="33.00" width="33.5" height="4.8" fill="#fff" stroke="#444" stroke-width="0.7"/>
<text x="370.90" y="36.60" font-size="3.4" fill="#000" font-weight="bold"  text-anchor="start" text-rendering="geometricPrecision" >Genome_sequence</text>
<rect x="403.60" y="34.70" width="132.00" height="1.60" fill="#b4b4dc" />
<rect x="369.10" y="67.40" width="171.00" height="32.60" fill="#ececf8" />
<text x="402.80" y="41.20" font-size="2.8" fill="#111"   text-anchor="end" text-rendering="geometricPrecision" >0</text>
<text x="402.80" y="44.60" font-size="2.8" fill="#111"   text-anchor="end" text-rendering="geometricPrecision" >Cont_pooled_DBS_DNA</text>
<text x="402.80" y="48.00" font-size="2.8" fill="#111"   text-anchor="end" text-rendering="geometricPrecision" >0 reads</text>
<text x="402.80" y="69.30" font-size="2.8" fill="#111"   text-anchor="end" text-rendering="geometricPrecision" >0</text>
<text x="402.80" y="72.60" font-size="2.8" fill="#111"   text-anchor="end" text-rendering="geometricPrecision" >AAV9_hEPO_pooled_DB</text>
<text x="402.80" y="75.60" font-size="2.8" fill="#111"   text-anchor="end" text-rendering="geometricPrecision" >S_DNA</text>
<text x="402.80" y="78.60" font-size="2.8" fill="#111"   text-anchor="end" text-rendering="geometricPrecision" >0 reads</text>
<text x="402.80" y="103.50" font-size="2.8" fill="#111"   text-anchor="end" text-rendering="geometricPrecision" >NT/</text>
<text x="402.80" y="106.80" font-size="2.8" fill="#111"   text-anchor="end" text-rendering="geometricPrecision" >Region annotations (1)</text>
<rect x="28.60" y="120.90" width="2.60" height="3.50" fill="#c8c8c8" />
<ellipse cx="35.85" cy="122.60" rx="4.35" ry="1.90" fill="#fff" stroke="#888" stroke-width="0.7"/><ellipse cx="45.15" cy="122.60" rx="4.35" ry="1.90" fill="#fff" stroke="#888" stroke-width="0.7"/><ellipse cx="54.45" cy="122.60" rx="4.35" ry="1.90" fill="#fff" stroke="#888" stroke-width="0.7"/><ellipse cx="63.75" cy="122.60" rx="4.35" ry="1.90" fill="#fff" stroke="#888" stroke-width="0.7"/><ellipse cx="73.05" cy="122.60" rx="4.35" ry="1.90" fill="#fff" stroke="#888" stroke-width="0.7"/><ellipse cx="82.35" cy="122.60" rx="4.35" ry="1.90" fill="#fff" stroke="#888" stroke-width="0.7"/><ellipse cx="91.65" cy="122.60" rx="4.35" ry="1.90" fill="#fff" stroke="#888" stroke-width="0.7"/><ellipse cx="100.95" cy="122.60" rx="4.35" ry="1.90" fill="#fff" stroke="#888" stroke-width="0.7"/><ellipse cx="110.25" cy="122.60" rx="4.35" ry="1.90" fill="#fff" stroke="#888" stroke-width="0.7"/><ellipse cx="119.55" cy="122.60" rx="4.35" ry="1.90" fill="#fff" stroke="#888" stroke-width="0.7"/><ellipse cx="128.85" cy="122.60" rx="4.35" ry="1.90" fill="#fff" stroke="#888" stroke-width="0.7"/><ellipse cx="138.15" cy="122.60" rx="4.35" ry="1.90" fill="#fff" stroke="#888" stroke-width="0.7"/><ellipse cx="147.45" cy="122.60" rx="4.35" ry="1.90" fill="#fff" stroke="#888" stroke-width="0.7"/><ellipse cx="156.75" cy="122.60" rx="4.35" ry="1.90" fill="#fff" stroke="#888" stroke-width="0.7"/><ellipse cx="166.05" cy="122.60" rx="4.35" ry="1.90" fill="#fff" stroke="#888" stroke-width="0.7"/><ellipse cx="175.35" cy="122.60" rx="4.35" ry="1.90" fill="#fff" stroke="#888" stroke-width="0.7"/><ellipse cx="184.65" cy="122.60" rx="4.35" ry="1.90" fill="#fff" stroke="#888" stroke-width="0.7"/>
<rect x="29.20" y="119.70" width="1.00" height="6.00" fill="#e8303a" />
<rect x="28.90" y="125.80" width="15.20" height="7.10" fill="#fff" stroke="#555" stroke-width="0.8" rx="0.8"/>
<text x="36.5" y="130.6" font-size="5.0" font-weight="bold" text-anchor="middle" fill="#111">h<tspan font-style="italic">FST</tspan></text>
<text x="84.40" y="129.50" font-size="2.6" fill="#333"   text-anchor="middle" text-rendering="geometricPrecision" >200</text>
<line x1="84.40" y1="130.70" x2="84.40" y2="131.80" stroke="#666" stroke-width="0.4" />
<text x="109.90" y="129.50" font-size="2.6" fill="#333"   text-anchor="middle" text-rendering="geometricPrecision" >400</text>
<line x1="109.90" y1="130.70" x2="109.90" y2="131.80" stroke="#666" stroke-width="0.4" />
<text x="135.00" y="129.50" font-size="2.6" fill="#333"   text-anchor="middle" text-rendering="geometricPrecision" >600</text>
<line x1="135.00" y1="130.70" x2="135.00" y2="131.80" stroke="#666" stroke-width="0.4" />
<text x="160.50" y="129.50" font-size="2.6" fill="#333"   text-anchor="middle" text-rendering="geometricPrecision" >800</text>
<line x1="160.50" y1="130.70" x2="160.50" y2="131.80" stroke="#666" stroke-width="0.4" />
<text x="185.00" y="129.50" font-size="2.6" fill="#333"   text-anchor="middle" text-rendering="geometricPrecision" >1,000</text>
<line x1="185.00" y1="130.70" x2="185.00" y2="131.80" stroke="#666" stroke-width="0.4" />
<rect x="24.50" y="135.00" width="171.20" height="7.20" fill="#ececf8" />
<rect x="25.20" y="136.20" width="33.5" height="4.8" fill="#fff" stroke="#444" stroke-width="0.7"/>
<text x="26.30" y="139.80" font-size="3.4" fill="#000" font-weight="bold"  text-anchor="start" text-rendering="geometricPrecision" >Genome_sequence</text>
<rect x="59.00" y="137.90" width="132.20" height="1.60" fill="#b4b4dc" />
<rect x="24.50" y="169.80" width="171.20" height="31.40" fill="#ececf8" />
<text x="58.20" y="144.70" font-size="2.8" fill="#111"   text-anchor="end" text-rendering="geometricPrecision" >0</text>
<text x="58.20" y="148.10" font-size="2.8" fill="#111"   text-anchor="end" text-rendering="geometricPrecision" >Cont_pooled_DBS_DNA</text>
<text x="58.20" y="151.50" font-size="2.8" fill="#111"   text-anchor="end" text-rendering="geometricPrecision" >0 reads</text>
<text x="58.20" y="172.80" font-size="2.8" fill="#111"   text-anchor="end" text-rendering="geometricPrecision" >0</text>
<text x="58.20" y="176.10" font-size="2.8" fill="#111"   text-anchor="end" text-rendering="geometricPrecision" >AAV9_hEPO_pooled_DB</text>
<text x="58.20" y="179.10" font-size="2.8" fill="#111"   text-anchor="end" text-rendering="geometricPrecision" >S_DNA</text>
<text x="58.20" y="182.10" font-size="2.8" fill="#111"   text-anchor="end" text-rendering="geometricPrecision" >0 reads</text>
<text x="58.20" y="205.00" font-size="2.8" fill="#111"   text-anchor="end" text-rendering="geometricPrecision" >NT/</text>
<text x="58.20" y="208.30" font-size="2.8" fill="#111"   text-anchor="end" text-rendering="geometricPrecision" >Region annotations (1)</text>
<rect x="200.80" y="120.90" width="2.60" height="3.50" fill="#c8c8c8" />
<ellipse cx="208.05" cy="122.60" rx="4.35" ry="1.90" fill="#fff" stroke="#888" stroke-width="0.7"/><ellipse cx="217.35" cy="122.60" rx="4.35" ry="1.90" fill="#fff" stroke="#888" stroke-width="0.7"/><ellipse cx="226.65" cy="122.60" rx="4.35" ry="1.90" fill="#fff" stroke="#888" stroke-width="0.7"/><ellipse cx="235.95" cy="122.60" rx="4.35" ry="1.90" fill="#fff" stroke="#888" stroke-width="0.7"/><ellipse cx="245.25" cy="122.60" rx="4.35" ry="1.90" fill="#fff" stroke="#888" stroke-width="0.7"/><ellipse cx="254.55" cy="122.60" rx="4.35" ry="1.90" fill="#fff" stroke="#888" stroke-width="0.7"/><ellipse cx="263.85" cy="122.60" rx="4.35" ry="1.90" fill="#fff" stroke="#888" stroke-width="0.7"/><ellipse cx="273.15" cy="122.60" rx="4.35" ry="1.90" fill="#fff" stroke="#888" stroke-width="0.7"/><ellipse cx="282.45" cy="122.60" rx="4.35" ry="1.90" fill="#fff" stroke="#888" stroke-width="0.7"/><ellipse cx="291.75" cy="122.60" rx="4.35" ry="1.90" fill="#fff" stroke="#888" stroke-width="0.7"/><ellipse cx="301.05" cy="122.60" rx="4.35" ry="1.90" fill="#fff" stroke="#888" stroke-width="0.7"/><ellipse cx="310.35" cy="122.60" rx="4.35" ry="1.90" fill="#fff" stroke="#888" stroke-width="0.7"/><ellipse cx="319.65" cy="122.60" rx="4.35" ry="1.90" fill="#fff" stroke="#888" stroke-width="0.7"/><ellipse cx="328.95" cy="122.60" rx="4.35" ry="1.90" fill="#fff" stroke="#888" stroke-width="0.7"/><ellipse cx="338.25" cy="122.60" rx="4.35" ry="1.90" fill="#fff" stroke="#888" stroke-width="0.7"/><ellipse cx="347.55" cy="122.60" rx="4.35" ry="1.90" fill="#fff" stroke="#888" stroke-width="0.7"/><ellipse cx="356.85" cy="122.60" rx="4.35" ry="1.90" fill="#fff" stroke="#888" stroke-width="0.7"/>
<rect x="203.10" y="119.70" width="1.00" height="6.00" fill="#e8303a" />
<rect x="200.50" y="126.20" width="16.80" height="7.10" fill="#fff" stroke="#555" stroke-width="0.8" rx="0.8"/>
<text x="208.9" y="131.0" font-size="5.0" font-weight="bold" text-anchor="middle" fill="#111">h<tspan font-style="italic">IGF1</tspan></text>
<text x="272.40" y="129.50" font-size="2.6" fill="#333"   text-anchor="middle" text-rendering="geometricPrecision" >100</text>
<line x1="272.40" y1="130.70" x2="272.40" y2="131.80" stroke="#666" stroke-width="0.4" />
<text x="312.50" y="129.50" font-size="2.6" fill="#333"   text-anchor="middle" text-rendering="geometricPrecision" >200</text>
<line x1="312.50" y1="130.70" x2="312.50" y2="131.80" stroke="#666" stroke-width="0.4" />
<text x="352.40" y="129.50" font-size="2.6" fill="#333"   text-anchor="middle" text-rendering="geometricPrecision" >300</text>
<line x1="352.40" y1="130.70" x2="352.40" y2="131.80" stroke="#666" stroke-width="0.4" />
<rect x="196.70" y="135.30" width="171.40" height="7.20" fill="#ececf8" />
<rect x="197.40" y="136.50" width="33.5" height="4.8" fill="#fff" stroke="#444" stroke-width="0.7"/>
<text x="198.50" y="140.10" font-size="3.4" fill="#000" font-weight="bold"  text-anchor="start" text-rendering="geometricPrecision" >Genome_sequence</text>
<rect x="231.20" y="138.20" width="132.40" height="1.60" fill="#b4b4dc" />
<rect x="196.70" y="170.30" width="171.40" height="31.90" fill="#ececf8" />
<text x="230.40" y="144.70" font-size="2.8" fill="#111"   text-anchor="end" text-rendering="geometricPrecision" >0</text>
<text x="230.40" y="148.10" font-size="2.8" fill="#111"   text-anchor="end" text-rendering="geometricPrecision" >Cont_pooled_DBS_DNA</text>
<text x="230.40" y="151.50" font-size="2.8" fill="#111"   text-anchor="end" text-rendering="geometricPrecision" >0 reads</text>
<text x="230.40" y="172.80" font-size="2.8" fill="#111"   text-anchor="end" text-rendering="geometricPrecision" >0</text>
<text x="230.40" y="176.10" font-size="2.8" fill="#111"   text-anchor="end" text-rendering="geometricPrecision" >AAV9_hEPO_pooled_DB</text>
<text x="230.40" y="179.10" font-size="2.8" fill="#111"   text-anchor="end" text-rendering="geometricPrecision" >S_DNA</text>
<text x="230.40" y="182.10" font-size="2.8" fill="#111"   text-anchor="end" text-rendering="geometricPrecision" >0 reads</text>
<text x="230.40" y="206.00" font-size="2.8" fill="#111"   text-anchor="end" text-rendering="geometricPrecision" >NT/</text>
<text x="230.40" y="209.30" font-size="2.8" fill="#111"   text-anchor="end" text-rendering="geometricPrecision" >Region annotations (1)</text>
<rect x="373.20" y="120.90" width="2.60" height="3.50" fill="#c8c8c8" />
<ellipse cx="380.45" cy="122.60" rx="4.35" ry="1.90" fill="#fff" stroke="#888" stroke-width="0.7"/><ellipse cx="389.75" cy="122.60" rx="4.35" ry="1.90" fill="#fff" stroke="#888" stroke-width="0.7"/><ellipse cx="399.05" cy="122.60" rx="4.35" ry="1.90" fill="#fff" stroke="#888" stroke-width="0.7"/><ellipse cx="408.35" cy="122.60" rx="4.35" ry="1.90" fill="#fff" stroke="#888" stroke-width="0.7"/><ellipse cx="417.65" cy="122.60" rx="4.35" ry="1.90" fill="#fff" stroke="#888" stroke-width="0.7"/><ellipse cx="426.95" cy="122.60" rx="4.35" ry="1.90" fill="#fff" stroke="#888" stroke-width="0.7"/><ellipse cx="436.25" cy="122.60" rx="4.35" ry="1.90" fill="#fff" stroke="#888" stroke-width="0.7"/><ellipse cx="445.55" cy="122.60" rx="4.35" ry="1.90" fill="#fff" stroke="#888" stroke-width="0.7"/><ellipse cx="454.85" cy="122.60" rx="4.35" ry="1.90" fill="#fff" stroke="#888" stroke-width="0.7"/><ellipse cx="464.15" cy="122.60" rx="4.35" ry="1.90" fill="#fff" stroke="#888" stroke-width="0.7"/><ellipse cx="473.45" cy="122.60" rx="4.35" ry="1.90" fill="#fff" stroke="#888" stroke-width="0.7"/><ellipse cx="482.75" cy="122.60" rx="4.35" ry="1.90" fill="#fff" stroke="#888" stroke-width="0.7"/><ellipse cx="492.05" cy="122.60" rx="4.35" ry="1.90" fill="#fff" stroke="#888" stroke-width="0.7"/><ellipse cx="501.35" cy="122.60" rx="4.35" ry="1.90" fill="#fff" stroke="#888" stroke-width="0.7"/><ellipse cx="510.65" cy="122.60" rx="4.35" ry="1.90" fill="#fff" stroke="#888" stroke-width="0.7"/><ellipse cx="519.95" cy="122.60" rx="4.35" ry="1.90" fill="#fff" stroke="#888" stroke-width="0.7"/><ellipse cx="529.25" cy="122.60" rx="4.35" ry="1.90" fill="#fff" stroke="#888" stroke-width="0.7"/>
<rect x="372.80" y="119.70" width="1.00" height="6.00" fill="#e8303a" />
<rect x="372.20" y="127.00" width="80.90" height="7.40" fill="#fff" stroke="#555" stroke-width="0.8" rx="0.8"/>
<text x="374.6" y="132.6" font-size="5.1" font-weight="bold" fill="#111">pAAV h<tspan font-style="italic">EPO</tspan></text>
<text x="403.4" y="132.4" font-size="3.3" fill="#222" text-rendering="geometricPrecision" textLength="46.3" lengthAdjust="spacingAndGlyphs">(included AAV9 hEPO genome)</text>
<text x="457.60" y="129.50" font-size="2.6" fill="#333"   text-anchor="middle" text-rendering="geometricPrecision" >500</text>
<line x1="457.60" y1="130.70" x2="457.60" y2="131.80" stroke="#666" stroke-width="0.4" />
<text x="483.30" y="129.50" font-size="2.6" fill="#333"   text-anchor="middle" text-rendering="geometricPrecision" >1,000</text>
<line x1="483.30" y1="130.70" x2="483.30" y2="131.80" stroke="#666" stroke-width="0.4" />
<text x="509.60" y="129.50" font-size="2.6" fill="#333"   text-anchor="middle" text-rendering="geometricPrecision" >1,500</text>
<line x1="509.60" y1="130.70" x2="509.60" y2="131.80" stroke="#666" stroke-width="0.4" />
<rect x="369.10" y="135.60" width="171.00" height="7.20" fill="#ececf8" />
<rect x="369.80" y="136.80" width="33.5" height="4.8" fill="#fff" stroke="#444" stroke-width="0.7"/>
<text x="370.90" y="140.40" font-size="3.4" fill="#000" font-weight="bold"  text-anchor="start" text-rendering="geometricPrecision" >Genome_sequence</text>
<rect x="403.60" y="138.50" width="132.00" height="1.60" fill="#b4b4dc" />
<rect x="369.10" y="171.50" width="171.00" height="32.10" fill="#ececf8" />
<text x="402.80" y="145.70" font-size="2.8" fill="#111"   text-anchor="end" text-rendering="geometricPrecision" >0</text>
<text x="402.80" y="149.10" font-size="2.8" fill="#111"   text-anchor="end" text-rendering="geometricPrecision" >Cont_pooled_DBS_DNA</text>
<text x="402.80" y="152.50" font-size="2.8" fill="#111"   text-anchor="end" text-rendering="geometricPrecision" >0 reads</text>
<text x="402.80" y="173.80" font-size="2.8" fill="#111"   text-anchor="end" text-rendering="geometricPrecision" >20</text>
<text x="402.80" y="177.10" font-size="2.8" fill="#111"   text-anchor="end" text-rendering="geometricPrecision" >AAV9_hEPO_pooled_DB</text>
<text x="402.80" y="180.10" font-size="2.8" fill="#111"   text-anchor="end" text-rendering="geometricPrecision" >S_DNA</text>
<text x="402.80" y="183.60" font-size="2.8" fill="#111"   text-anchor="end" text-rendering="geometricPrecision" >358 reads</text>
<text x="402.80" y="207.30" font-size="2.8" fill="#111"   text-anchor="end" text-rendering="geometricPrecision" >NT/</text>
<text x="402.80" y="210.60" font-size="2.8" fill="#111"   text-anchor="end" text-rendering="geometricPrecision" >Region annotations (3)</text>
<path d="M406.2,182.0 L406.2,178.2 L406.8,177.1 L407.4,177.3 L408.0,175.7 L408.6,175.8 L409.2,176.4 L409.8,174.7 L410.4,173.8 L411.0,174.9 L411.6,172.5 L412.2,172.5 L412.8,174.7 L413.4,173.1 L414.0,171.4 L414.6,173.7 L415.2,173.7 L415.8,172.5 L416.4,172.8 L417.0,173.2 L417.6,171.0 L418.2,171.3 L418.8,170.8 L419.4,171.6 L420.0,172.4 L420.6,174.1 L421.2,172.3 L421.8,172.4 L422.4,174.2 L423.0,174.3 L423.6,173.2 L424.2,175.8 L424.8,174.5 L425.4,175.4 L426.0,175.9 L426.6,177.1 L427.2,177.1 L427.8,178.2 L428.4,178.3 L429.0,178.6 L429.6,178.7 L430.2,179.0 L430.8,177.9 L431.4,177.7 L432.0,176.9 L432.6,177.2 L433.2,175.6 L433.8,175.1 L434.4,175.6 L435.0,174.0 L435.6,175.6 L436.2,173.6 L436.8,173.4 L437.4,174.9 L438.0,174.5 L438.6,175.5 L439.2,173.5 L439.8,173.9 L440.4,175.2 L441.0,174.5 L441.6,175.8 L442.2,174.0 L442.8,174.1 L443.4,175.4 L444.0,174.7 L444.6,175.6 L445.2,175.1 L445.8,175.2 L446.4,176.5 L447.0,175.0 L447.6,175.1 L448.2,175.6 L448.8,174.9 L449.4,177.1 L450.0,177.7 L450.6,178.0 L451.2,177.7 L451.8,178.2 L452.4,178.4 L453.0,178.7 L453.6,178.2 L454.2,177.6 L454.8,176.8 L455.4,176.1 L456.0,177.0 L456.6,176.6 L457.2,176.2 L457.8,176.1 L458.4,176.1 L459.0,176.1 L459.6,175.2 L460.2,176.0 L460.8,175.1 L461.4,175.8 L462.0,175.6 L462.6,176.6 L463.2,176.6 L463.8,177.8 L464.4,176.9 L465.0,182.0 Z" fill="#2ec8ee"/>
<path d="M406.2,182.0 L406.2,180.2 L406.8,180.2 L407.4,180.2 L408.0,180.2 L408.6,180.2 L409.2,180.2 L409.8,180.2 L410.4,180.0 L411.0,180.2 L411.6,178.8 L412.2,179.1 L412.8,180.1 L413.4,180.0 L414.0,179.2 L414.6,179.1 L415.2,178.9 L415.8,179.2 L416.4,179.3 L417.0,180.2 L417.6,179.3 L418.2,179.5 L418.8,177.9 L419.4,178.5 L420.0,178.8 L420.6,179.7 L421.2,179.7 L421.8,178.6 L422.4,179.9 L423.0,179.9 L423.6,179.6 L424.2,180.2 L424.8,179.2 L425.4,180.1 L426.0,179.9 L426.6,180.2 L427.2,180.2 L427.8,180.2 L428.4,180.2 L429.0,180.2 L429.6,180.2 L430.2,180.2 L430.8,180.2 L431.4,180.2 L432.0,180.1 L432.6,180.2 L433.2,180.0 L433.8,180.0 L434.4,180.2 L435.0,180.2 L435.6,179.8 L436.2,179.6 L436.8,180.2 L437.4,180.2 L438.0,180.2 L438.6,180.2 L439.2,178.8 L439.8,179.7 L440.4,179.5 L441.0,179.5 L441.6,180.2 L442.2,179.3 L442.8,179.6 L443.4,180.0 L444.0,180.1 L444.6,180.2 L445.2,180.2 L445.8,179.5 L446.4,180.2 L447.0,179.5 L447.6,180.2 L448.2,179.6 L448.8,180.2 L449.4,180.2 L450.0,180.2 L450.6,180.2 L451.2,180.2 L451.8,180.2 L452.4,180.2 L453.0,180.2 L453.6,180.2 L454.2,180.2 L454.8,180.1 L455.4,180.0 L456.0,180.2 L456.6,180.2 L457.2,180.1 L457.8,180.1 L458.4,180.2 L459.0,180.2 L459.6,180.2 L460.2,180.2 L460.8,180.2 L461.4,180.2 L462.0,179.6 L462.6,180.2 L463.2,180.2 L463.8,180.2 L464.4,180.2 L465.0,182.0 Z" fill="#5840e0"/>
<rect x="406.2" y="182.6" width="1.0" height="1.9" fill="#a8a2ee"/><rect x="406.2" y="184.7" width="2.7" height="1.9" fill="#88d4ee"/><rect x="406.2" y="186.7" width="4.6" height="1.9" fill="#88d4ee"/><rect x="406.2" y="188.8" width="1.8" height="1.9" fill="#b2acf2"/><rect x="406.2" y="190.8" width="4.4" height="1.9" fill="#88d4ee"/><rect x="406.2" y="192.8" width="2.6" height="1.9" fill="#9e98ea"/><rect x="406.2" y="194.9" width="1.6" height="1.9" fill="#92daf2"/><rect x="406.2" y="196.9" width="3.1" height="1.9" fill="#b2acf2"/><rect x="406.2" y="199.0" width="6.9" height="1.9" fill="#9e98ea"/><rect x="408.0" y="182.6" width="8.6" height="1.9" fill="#88d4ee"/><rect x="408.8" y="188.8" width="5.0" height="1.9" fill="#b2acf2"/><rect x="409.2" y="194.9" width="5.6" height="1.9" fill="#a8a2ee"/><rect x="409.7" y="184.7" width="4.3" height="1.9" fill="#9e98ea"/><rect x="410.9" y="192.8" width="7.3" height="1.9" fill="#a8a2ee"/><rect x="411.4" y="186.7" width="8.1" height="1.9" fill="#a0e0f4"/><rect x="411.5" y="190.8" width="4.6" height="1.9" fill="#92daf2"/><rect x="412.3" y="196.9" width="9.0" height="1.9" fill="#a0e0f4"/><rect x="414.0" y="199.0" width="8.8" height="1.9" fill="#9e98ea"/><rect x="414.5" y="188.8" width="5.8" height="1.9" fill="#a8a2ee"/><rect x="414.7" y="184.7" width="7.5" height="1.9" fill="#a0e0f4"/><rect x="419.6" y="182.6" width="6.7" height="1.9" fill="#92daf2"/><rect x="419.8" y="190.8" width="5.4" height="1.9" fill="#b2acf2"/><rect x="420.7" y="186.7" width="6.0" height="1.9" fill="#9e98ea"/><rect x="422.3" y="188.8" width="4.2" height="1.9" fill="#9e98ea"/><rect x="422.3" y="192.8" width="5.0" height="1.9" fill="#a0e0f4"/><rect x="422.4" y="194.9" width="7.4" height="1.9" fill="#a0e0f4"/><rect x="422.6" y="196.9" width="5.2" height="1.9" fill="#a8a2ee"/><rect x="425.1" y="184.7" width="6.8" height="1.9" fill="#9e98ea"/><rect x="425.4" y="199.0" width="4.1" height="1.9" fill="#b2acf2"/><rect x="429.4" y="182.6" width="8.2" height="1.9" fill="#9e98ea"/><rect x="429.9" y="186.7" width="5.8" height="1.9" fill="#9e98ea"/><rect x="429.9" y="188.8" width="5.9" height="1.9" fill="#92daf2"/><rect x="431.6" y="190.8" width="8.8" height="1.9" fill="#88d4ee"/><rect x="432.0" y="192.8" width="8.2" height="1.9" fill="#92daf2"/><rect x="432.3" y="194.9" width="6.6" height="1.9" fill="#9e98ea"/><rect x="433.0" y="184.7" width="6.5" height="1.9" fill="#9e98ea"/><rect x="433.1" y="196.9" width="6.0" height="1.9" fill="#92daf2"/><rect x="433.6" y="199.0" width="7.3" height="1.9" fill="#a8a2ee"/><rect x="437.7" y="186.7" width="4.0" height="1.9" fill="#a8a2ee"/><rect x="437.8" y="188.8" width="6.5" height="1.9" fill="#9e98ea"/><rect x="439.4" y="182.6" width="4.5" height="1.9" fill="#a8a2ee"/><rect x="439.7" y="194.9" width="5.5" height="1.9" fill="#b2acf2"/><rect x="440.5" y="184.7" width="6.6" height="1.9" fill="#a0e0f4"/><rect x="443.7" y="186.7" width="8.7" height="1.9" fill="#92daf2"/><rect x="445.2" y="182.6" width="7.3" height="1.9" fill="#b2acf2"/><rect x="445.2" y="188.8" width="5.2" height="1.9" fill="#b2acf2"/><rect x="445.5" y="190.8" width="4.1" height="1.9" fill="#a8a2ee"/><rect x="447.7" y="192.8" width="8.1" height="1.9" fill="#92daf2"/><rect x="448.3" y="184.7" width="6.1" height="1.9" fill="#b2acf2"/><rect x="448.6" y="194.9" width="6.7" height="1.9" fill="#a0e0f4"/><rect x="450.8" y="190.8" width="6.3" height="1.9" fill="#9e98ea"/><rect x="451.0" y="196.9" width="4.6" height="1.9" fill="#b2acf2"/><rect x="451.8" y="188.8" width="6.2" height="1.9" fill="#a8a2ee"/><rect x="453.3" y="182.6" width="4.6" height="1.9" fill="#92daf2"/><rect x="454.0" y="186.7" width="4.3" height="1.9" fill="#b2acf2"/><rect x="454.1" y="199.0" width="7.3" height="1.9" fill="#a0e0f4"/><rect x="455.0" y="184.7" width="4.2" height="1.9" fill="#88d4ee"/><rect x="456.6" y="192.8" width="8.4" height="1.9" fill="#b2acf2"/><rect x="457.9" y="190.8" width="4.4" height="1.9" fill="#88d4ee"/><rect x="458.2" y="194.9" width="4.6" height="1.9" fill="#92daf2"/><rect x="459.0" y="182.6" width="5.5" height="1.9" fill="#9e98ea"/><rect x="459.2" y="186.7" width="5.8" height="1.9" fill="#a0e0f4"/><rect x="459.9" y="184.7" width="4.9" height="1.9" fill="#a0e0f4"/><rect x="460.7" y="188.8" width="4.3" height="1.9" fill="#a8a2ee"/><rect x="462.1" y="196.9" width="2.9" height="1.9" fill="#88d4ee"/><rect x="462.4" y="199.0" width="2.6" height="1.9" fill="#88d4ee"/><rect x="463.1" y="190.8" width="1.9" height="1.9" fill="#a0e0f4"/>
<rect x="404.1" y="171.1" width="67.4" height="33.1" fill="none" stroke="#f4a09a" stroke-width="0.8"/>
<text x="237.80" y="48.40" font-size="7.1" fill="#111" font-weight="bold"  text-anchor="start"  >N.D.</text>
<text x="237.80" y="76.40" font-size="7.1" fill="#111" font-weight="bold"  text-anchor="start"  >N.D.</text>
<text x="409.70" y="48.40" font-size="7.1" fill="#111" font-weight="bold"  text-anchor="start"  >N.D.</text>
<text x="409.70" y="76.20" font-size="7.1" fill="#111" font-weight="bold"  text-anchor="start"  >N.D.</text>
<text x="64.90" y="152.00" font-size="7.1" fill="#111" font-weight="bold"  text-anchor="start"  >N.D.</text>
<text x="64.90" y="179.60" font-size="7.1" fill="#111" font-weight="bold"  text-anchor="start"  >N.D.</text>
<text x="237.80" y="151.80" font-size="7.1" fill="#111" font-weight="bold"  text-anchor="start"  >N.D.</text>
<text x="237.80" y="179.70" font-size="7.1" fill="#111" font-weight="bold"  text-anchor="start"  >N.D.</text>
<text x="409.70" y="152.40" font-size="7.1" fill="#111" font-weight="bold"  text-anchor="start"  >N.D.</text>
<rect x="232.0" y="107.1" width="7" height="3.6" fill="#b8f0b8" stroke="#4c4" stroke-width="0.4"/>
<text x="232.60" y="110.10" font-size="3.0" fill="#064"   text-anchor="start" text-rendering="geometricPrecision" >CDS</text>
<rect x="232.0" y="112.9" width="131.5" height="3.1" rx="1.5" fill="#1ee01e"/>
<rect x="403.8" y="107.1" width="7" height="3.6" fill="#b8f0b8" stroke="#4c4" stroke-width="0.4"/>
<text x="404.40" y="110.10" font-size="3.0" fill="#064"   text-anchor="start" text-rendering="geometricPrecision" >CDS</text>
<rect x="403.8" y="112.9" width="132.4" height="3.1" rx="1.5" fill="#1ee01e"/>
<rect x="60.0" y="208.3" width="7" height="3.6" fill="#b8f0b8" stroke="#4c4" stroke-width="0.4"/>
<text x="60.60" y="211.30" font-size="3.0" fill="#064"   text-anchor="start" text-rendering="geometricPrecision" >CDS</text>
<rect x="60.0" y="214.5" width="130.5" height="3.1" rx="1.5" fill="#1ee01e"/>
<rect x="231.8" y="209.0" width="7" height="3.6" fill="#b8f0b8" stroke="#4c4" stroke-width="0.4"/>
<text x="232.40" y="212.00" font-size="3.0" fill="#064"   text-anchor="start" text-rendering="geometricPrecision" >CDS</text>
<rect x="231.8" y="215.2" width="133.0" height="3.1" rx="1.5" fill="#1ee01e"/>
<line x1="406.0" y1="207.0" x2="471.0" y2="207.0" stroke="#f07a28" stroke-width="0.9"/>
<path d="M404.6,207.0 l2.4,-1.3 v2.6 z M472.4,207.0 l-2.4,-1.3 v2.6 z" fill="#f07a28"/>
<rect x="421.5" y="205.4" width="33.5" height="3.4" fill="#fff"/>
<text x="438.20" y="208.30" font-size="3.5" fill="#111" font-weight="bold"  text-anchor="middle" text-rendering="geometricPrecision" >AAV9 hEPO genome</text>
<rect x="404.4" y="210.3" width="13.8" height="4.2" fill="#b4eeb4" stroke="#5c5" stroke-width="0.4"/>
<text x="404.90" y="213.60" font-size="2.9" fill="#153"   text-anchor="start" text-rendering="geometricPrecision" >h_EF1a</text>
<rect x="425.2" y="210.3" width="15.8" height="4.2" fill="#b4eeb4" stroke="#5c5" stroke-width="0.4"/>
<text x="425.70" y="213.60" font-size="2.9" fill="#153"   text-anchor="start" text-rendering="geometricPrecision" >hEPO_CDS</text>
<rect x="441.0" y="210.3" width="9.2" height="4.2" fill="#b4eeb4" stroke="#5c5" stroke-width="0.4"/>
<text x="441.50" y="213.60" font-size="2.9" fill="#153"   text-anchor="start" text-rendering="geometricPrecision" >(HPR)</text>
<rect x="457.5" y="210.3" width="15.2" height="4.2" fill="#b4eeb4" stroke="#5c5" stroke-width="0.4"/>
<text x="458.00" y="213.60" font-size="2.9" fill="#153"   text-anchor="start" text-rendering="geometricPrecision" >BGH_PA</text>
<path d="M404.4,216.7 H406.3 L407.6,218.15 L406.3,219.6 H404.4 Z" fill="#1ee01e"/>
<path d="M409.0,216.7 H422.7 L424.0,218.15 L422.7,219.6 H409.0 Z" fill="#1ee01e"/>
<path d="M425.2,216.7 H438.7 L440.0,218.15 L438.7,219.6 H425.2 Z" fill="#1ee01e"/>
<path d="M441.2,216.7 H455.4 L456.7,218.15 L455.4,219.6 H441.2 Z" fill="#1ee01e"/>
<path d="M457.9,216.7 H460.5 L461.8,218.15 L460.5,219.6 H457.9 Z" fill="#1ee01e"/>
<path d="M462.8,216.7 H465.6 L466.9,218.15 L465.6,219.6 H462.8 Z" fill="#1ee01e"/>
<text x="497.00" y="172.80" font-size="5.3" fill="#222" font-weight="bold"  text-anchor="middle"  >Positively</text>
<text x="496.90" y="178.70" font-size="5.3" fill="#222" font-weight="bold"  text-anchor="middle"  >detected</text>
<line x1="484" y1="173.5" x2="474" y2="179" stroke="#e82020" stroke-width="0.9"/>
<path d="M471.8,180.2 l3.0,-2.9 l0.9,1.8 z" fill="#e82020"/>
<line x1="24.00" y1="15.30" x2="540.60" y2="15.30" stroke="#5a5a5a" stroke-width="1.3" />
<line x1="24.00" y1="118.80" x2="540.60" y2="118.80" stroke="#5a5a5a" stroke-width="1.3" />
<line x1="24.00" y1="222.80" x2="540.60" y2="222.80" stroke="#5a5a5a" stroke-width="1.3" />
<line x1="24.00" y1="15.30" x2="24.00" y2="222.80" stroke="#5a5a5a" stroke-width="1.3" />
<line x1="196.20" y1="15.30" x2="196.20" y2="222.80" stroke="#5a5a5a" stroke-width="1.3" />
<line x1="368.60" y1="15.30" x2="368.60" y2="222.80" stroke="#5a5a5a" stroke-width="1.3" />
<line x1="540.60" y1="15.30" x2="540.60" y2="222.80" stroke="#5a5a5a" stroke-width="1.3" />
<rect x="34.3" y="243.0" width="270.3" height="128.5" fill="#fff" stroke="#b0b0b0" stroke-width="0.8"/>
<text x="126.60" y="246.00" font-size="2.6" fill="#555"   text-anchor="middle" text-rendering="geometricPrecision" >100</text>
<line x1="126.60" y1="247.00" x2="126.60" y2="248.20" stroke="#777" stroke-width="0.4" />
<text x="162.05" y="246.00" font-size="2.6" fill="#555"   text-anchor="middle" text-rendering="geometricPrecision" >200</text>
<line x1="162.05" y1="247.00" x2="162.05" y2="248.20" stroke="#777" stroke-width="0.4" />
<text x="197.50" y="246.00" font-size="2.6" fill="#555"   text-anchor="middle" text-rendering="geometricPrecision" >300</text>
<line x1="197.50" y1="247.00" x2="197.50" y2="248.20" stroke="#777" stroke-width="0.4" />
<text x="232.95" y="246.00" font-size="2.6" fill="#555"   text-anchor="middle" text-rendering="geometricPrecision" >400</text>
<line x1="232.95" y1="247.00" x2="232.95" y2="248.20" stroke="#777" stroke-width="0.4" />
<text x="268.40" y="246.00" font-size="2.6" fill="#555"   text-anchor="middle" text-rendering="geometricPrecision" >500</text>
<line x1="268.40" y1="247.00" x2="268.40" y2="248.20" stroke="#777" stroke-width="0.4" />
<text x="89.30" y="251.50" font-size="2.8" fill="#333"   text-anchor="end" text-rendering="geometricPrecision" textLength="28.2" lengthAdjust="spacingAndGlyphs">AAV9_hEPO_Genome</text>
<text x="89.30" y="255.00" font-size="2.8" fill="#333"   text-anchor="end" text-rendering="geometricPrecision" textLength="53.6" lengthAdjust="spacingAndGlyphs">AAV9_hEPO_DBS_pooled_DNA_selection</text>
<text x="89.30" y="259.30" font-size="2.7" fill="#333"   text-anchor="end" text-rendering="geometricPrecision" >Consensus</text>
<text x="89.30" y="261.40" font-size="2.0" fill="#555"   text-anchor="end" text-rendering="geometricPrecision" >100%</text>
<text x="89.30" y="264.60" font-size="2.7" fill="#333"   text-anchor="end" text-rendering="geometricPrecision" >Conservation</text>
<text x="89.30" y="268.20" font-size="2.0" fill="#555"   text-anchor="end" text-rendering="geometricPrecision" >0%</text>
<text x="89.30" y="272.80" font-size="2.7" fill="#333"   text-anchor="end" text-rendering="geometricPrecision" >Sequence logo</text>
<text x="89.30" y="275.00" font-size="2.0" fill="#555"   text-anchor="end" text-rendering="geometricPrecision" >2.0bits</text>
<line x1="91.50" y1="250.60" x2="295.60" y2="250.60" stroke="#7a7a7a" stroke-width="0.9" />
<line x1="91.50" y1="254.20" x2="295.60" y2="254.20" stroke="#7a7a7a" stroke-width="0.9" />
<text x="297.10" y="251.50" font-size="2.6" fill="#333"   text-anchor="start" text-rendering="geometricPrecision" >576</text>
<text x="297.10" y="255.10" font-size="2.6" fill="#333"   text-anchor="start" text-rendering="geometricPrecision" >576</text>
<rect x="91.50" y="256.60" width="204.10" height="3.10" fill="#c4c4c0" />
<rect x="91.50" y="259.70" width="204.10" height="1.00" fill="#e6e6ee" />
<rect x="91.50" y="260.70" width="204.10" height="6.90" fill="#d46c78" />
<rect x="92.69" y="260.70" width="0.6" height="6.9" fill="#eab0b6"/><rect x="94.06" y="260.70" width="0.6" height="6.9" fill="#e6a0a8"/><rect x="95.48" y="260.70" width="0.4" height="6.9" fill="#e6a0a8"/><rect x="96.98" y="260.70" width="0.4" height="6.9" fill="#eab0b6"/><rect x="97.99" y="260.70" width="0.4" height="6.9" fill="#cc5e6c"/><rect x="99.09" y="260.70" width="0.6" height="6.9" fill="#e0909a"/><rect x="99.60" y="260.70" width="0.4" height="6.9" fill="#cc5e6c"/><rect x="100.41" y="260.70" width="0.5" height="6.9" fill="#e0909a"/><rect x="101.75" y="260.70" width="0.4" height="6.9" fill="#e0909a"/><rect x="102.93" y="260.70" width="0.5" height="6.9" fill="#e0909a"/><rect x="103.57" y="260.70" width="0.4" height="6.9" fill="#e0909a"/><rect x="104.93" y="260.70" width="0.4" height="6.9" fill="#e0909a"/><rect x="105.74" y="260.70" width="0.4" height="6.9" fill="#e0909a"/><rect x="106.44" y="260.70" width="0.6" height="6.9" fill="#e0909a"/><rect x="108.01" y="260.70" width="0.5" height="6.9" fill="#eab0b6"/><rect x="108.53" y="260.70" width="0.5" height="6.9" fill="#e0909a"/><rect x="110.06" y="260.70" width="0.5" height="6.9" fill="#e6a0a8"/><rect x="110.92" y="260.70" width="0.6" height="6.9" fill="#e6a0a8"/><rect x="112.08" y="260.70" width="0.6" height="6.9" fill="#eab0b6"/><rect x="112.65" y="260.70" width="0.5" height="6.9" fill="#eab0b6"/><rect x="113.68" y="260.70" width="0.5" height="6.9" fill="#e0909a"/><rect x="114.71" y="260.70" width="0.6" height="6.9" fill="#e0909a"/><rect x="115.27" y="260.70" width="0.4" height="6.9" fill="#eab0b6"/><rect x="116.70" y="260.70" width="0.4" height="6.9" fill="#cc5e6c"/><rect x="117.61" y="260.70" width="0.6" height="6.9" fill="#e6a0a8"/><rect x="118.60" y="260.70" width="0.6" height="6.9" fill="#e0909a"/><rect x="119.79" y="260.70" width="0.4" height="6.9" fill="#e6a0a8"/><rect x="121.12" y="260.70" width="0.5" height="6.9" fill="#eab0b6"/><rect x="122.19" y="260.70" width="0.6" height="6.9" fill="#eab0b6"/><rect x="123.54" y="260.70" width="0.4" height="6.9" fill="#eab0b6"/><rect x="124.98" y="260.70" width="0.4" height="6.9" fill="#cc5e6c"/><rect x="126.52" y="260.70" width="0.4" height="6.9" fill="#e0909a"/><rect x="127.40" y="260.70" width="0.6" height="6.9" fill="#eab0b6"/><rect x="128.91" y="260.70" width="0.5" height="6.9" fill="#eab0b6"/><rect x="130.43" y="260.70" width="0.6" height="6.9" fill="#e6a0a8"/><rect x="131.27" y="260.70" width="0.5" height="6.9" fill="#eab0b6"/><rect x="131.96" y="260.70" width="0.4" height="6.9" fill="#e0909a"/><rect x="133.26" y="260.70" width="0.5" height="6.9" fill="#cc5e6c"/><rect x="133.94" y="260.70" width="0.4" height="6.9" fill="#e6a0a8"/><rect x="135.52" y="260.70" width="0.6" height="6.9" fill="#cc5e6c"/><rect x="136.06" y="260.70" width="0.6" height="6.9" fill="#eab0b6"/><rect x="137.47" y="260.70" width="0.5" height="6.9" fill="#cc5e6c"/><rect x="138.13" y="260.70" width="0.6" height="6.9" fill="#e6a0a8"/><rect x="139.51" y="260.70" width="0.5" height="6.9" fill="#e0909a"/><rect x="140.15" y="260.70" width="0.6" height="6.9" fill="#e0909a"/><rect x="141.34" y="260.70" width="0.5" height="6.9" fill="#e6a0a8"/><rect x="142.03" y="260.70" width="0.5" height="6.9" fill="#e0909a"/><rect x="142.59" y="260.70" width="0.5" height="6.9" fill="#eab0b6"/><rect x="143.25" y="260.70" width="0.6" height="6.9" fill="#e0909a"/><rect x="144.82" y="260.70" width="0.5" height="6.9" fill="#cc5e6c"/><rect x="146.08" y="260.70" width="0.5" height="6.9" fill="#cc5e6c"/><rect x="146.88" y="260.70" width="0.5" height="6.9" fill="#cc5e6c"/><rect x="148.37" y="260.70" width="0.4" height="6.9" fill="#cc5e6c"/><rect x="149.78" y="260.70" width="0.6" height="6.9" fill="#e0909a"/><rect x="150.97" y="260.70" width="0.5" height="6.9" fill="#eab0b6"/><rect x="151.67" y="260.70" width="0.5" height="6.9" fill="#eab0b6"/><rect x="152.73" y="260.70" width="0.6" height="6.9" fill="#eab0b6"/><rect x="153.30" y="260.70" width="0.5" height="6.9" fill="#e6a0a8"/><rect x="154.64" y="260.70" width="0.5" height="6.9" fill="#eab0b6"/><rect x="156.06" y="260.70" width="0.5" height="6.9" fill="#eab0b6"/><rect x="157.61" y="260.70" width="0.5" height="6.9" fill="#e0909a"/><rect x="158.75" y="260.70" width="0.4" height="6.9" fill="#cc5e6c"/><rect x="159.85" y="260.70" width="0.5" height="6.9" fill="#eab0b6"/><rect x="161.09" y="260.70" width="0.5" height="6.9" fill="#eab0b6"/><rect x="162.49" y="260.70" width="0.6" height="6.9" fill="#eab0b6"/><rect x="163.37" y="260.70" width="0.6" height="6.9" fill="#eab0b6"/><rect x="164.68" y="260.70" width="0.5" height="6.9" fill="#eab0b6"/><rect x="166.20" y="260.70" width="0.4" height="6.9" fill="#cc5e6c"/><rect x="167.77" y="260.70" width="0.5" height="6.9" fill="#e0909a"/><rect x="168.85" y="260.70" width="0.4" height="6.9" fill="#e0909a"/><rect x="170.27" y="260.70" width="0.5" height="6.9" fill="#eab0b6"/><rect x="171.53" y="260.70" width="0.6" height="6.9" fill="#cc5e6c"/><rect x="172.22" y="260.70" width="0.6" height="6.9" fill="#cc5e6c"/><rect x="173.06" y="260.70" width="0.6" height="6.9" fill="#eab0b6"/><rect x="174.35" y="260.70" width="0.4" height="6.9" fill="#e0909a"/><rect x="175.02" y="260.70" width="0.5" height="6.9" fill="#e0909a"/><rect x="175.76" y="260.70" width="0.6" height="6.9" fill="#e0909a"/><rect x="176.96" y="260.70" width="0.4" height="6.9" fill="#cc5e6c"/><rect x="178.54" y="260.70" width="0.4" height="6.9" fill="#e6a0a8"/><rect x="180.02" y="260.70" width="0.4" height="6.9" fill="#eab0b6"/><rect x="181.58" y="260.70" width="0.5" height="6.9" fill="#e0909a"/><rect x="182.69" y="260.70" width="0.5" height="6.9" fill="#cc5e6c"/><rect x="183.57" y="260.70" width="0.6" height="6.9" fill="#e6a0a8"/><rect x="184.72" y="260.70" width="0.4" height="6.9" fill="#eab0b6"/><rect x="185.22" y="260.70" width="0.5" height="6.9" fill="#eab0b6"/><rect x="186.66" y="260.70" width="0.4" height="6.9" fill="#eab0b6"/><rect x="188.22" y="260.70" width="0.6" height="6.9" fill="#eab0b6"/><rect x="188.83" y="260.70" width="0.6" height="6.9" fill="#eab0b6"/><rect x="190.37" y="260.70" width="0.5" height="6.9" fill="#eab0b6"/><rect x="191.77" y="260.70" width="0.5" height="6.9" fill="#cc5e6c"/><rect x="193.17" y="260.70" width="0.6" height="6.9" fill="#eab0b6"/><rect x="194.18" y="260.70" width="0.4" height="6.9" fill="#cc5e6c"/><rect x="195.30" y="260.70" width="0.4" height="6.9" fill="#e0909a"/><rect x="196.47" y="260.70" width="0.5" height="6.9" fill="#e6a0a8"/><rect x="197.39" y="260.70" width="0.5" height="6.9" fill="#e0909a"/><rect x="198.25" y="260.70" width="0.6" height="6.9" fill="#cc5e6c"/><rect x="199.22" y="260.70" width="0.4" height="6.9" fill="#cc5e6c"/><rect x="200.04" y="260.70" width="0.6" height="6.9" fill="#cc5e6c"/><rect x="200.97" y="260.70" width="0.4" height="6.9" fill="#eab0b6"/><rect x="202.28" y="260.70" width="0.5" height="6.9" fill="#cc5e6c"/><rect x="203.06" y="260.70" width="0.4" height="6.9" fill="#eab0b6"/><rect x="204.60" y="260.70" width="0.5" height="6.9" fill="#cc5e6c"/><rect x="206.12" y="260.70" width="0.4" height="6.9" fill="#cc5e6c"/><rect x="206.65" y="260.70" width="0.6" height="6.9" fill="#cc5e6c"/><rect x="207.42" y="260.70" width="0.4" height="6.9" fill="#e0909a"/><rect x="208.82" y="260.70" width="0.4" height="6.9" fill="#cc5e6c"/><rect x="209.91" y="260.70" width="0.5" height="6.9" fill="#e0909a"/><rect x="211.44" y="260.70" width="0.4" height="6.9" fill="#e0909a"/><rect x="212.48" y="260.70" width="0.4" height="6.9" fill="#eab0b6"/><rect x="213.30" y="260.70" width="0.6" height="6.9" fill="#cc5e6c"/><rect x="214.37" y="260.70" width="0.6" height="6.9" fill="#e6a0a8"/><rect x="214.89" y="260.70" width="0.4" height="6.9" fill="#eab0b6"/><rect x="215.70" y="260.70" width="0.6" height="6.9" fill="#eab0b6"/><rect x="216.87" y="260.70" width="0.6" height="6.9" fill="#e6a0a8"/><rect x="217.89" y="260.70" width="0.5" height="6.9" fill="#e0909a"/><rect x="218.43" y="260.70" width="0.5" height="6.9" fill="#cc5e6c"/><rect x="219.68" y="260.70" width="0.4" height="6.9" fill="#e0909a"/><rect x="220.20" y="260.70" width="0.5" height="6.9" fill="#cc5e6c"/><rect x="221.64" y="260.70" width="0.5" height="6.9" fill="#cc5e6c"/><rect x="222.57" y="260.70" width="0.6" height="6.9" fill="#e0909a"/><rect x="224.06" y="260.70" width="0.5" height="6.9" fill="#e6a0a8"/><rect x="224.89" y="260.70" width="0.4" height="6.9" fill="#cc5e6c"/><rect x="226.03" y="260.70" width="0.6" height="6.9" fill="#cc5e6c"/><rect x="227.54" y="260.70" width="0.4" height="6.9" fill="#e0909a"/><rect x="228.56" y="260.70" width="0.6" height="6.9" fill="#cc5e6c"/><rect x="230.13" y="260.70" width="0.6" height="6.9" fill="#e0909a"/><rect x="231.10" y="260.70" width="0.6" height="6.9" fill="#e6a0a8"/><rect x="231.68" y="260.70" width="0.4" height="6.9" fill="#eab0b6"/><rect x="233.08" y="260.70" width="0.4" height="6.9" fill="#e6a0a8"/><rect x="233.94" y="260.70" width="0.5" height="6.9" fill="#e6a0a8"/><rect x="235.54" y="260.70" width="0.6" height="6.9" fill="#cc5e6c"/><rect x="236.10" y="260.70" width="0.4" height="6.9" fill="#e0909a"/><rect x="237.27" y="260.70" width="0.4" height="6.9" fill="#e0909a"/><rect x="238.87" y="260.70" width="0.6" height="6.9" fill="#cc5e6c"/><rect x="239.53" y="260.70" width="0.6" height="6.9" fill="#e0909a"/><rect x="240.49" y="260.70" width="0.4" height="6.9" fill="#e6a0a8"/><rect x="241.67" y="260.70" width="0.4" height="6.9" fill="#e6a0a8"/><rect x="242.90" y="260.70" width="0.6" height="6.9" fill="#e6a0a8"/><rect x="243.70" y="260.70" width="0.6" height="6.9" fill="#e6a0a8"/><rect x="245.02" y="260.70" width="0.6" height="6.9" fill="#e0909a"/><rect x="245.53" y="260.70" width="0.4" height="6.9" fill="#eab0b6"/><rect x="246.79" y="260.70" width="0.5" height="6.9" fill="#cc5e6c"/><rect x="247.67" y="260.70" width="0.6" height="6.9" fill="#eab0b6"/><rect x="249.18" y="260.70" width="0.4" height="6.9" fill="#eab0b6"/><rect x="249.85" y="260.70" width="0.6" height="6.9" fill="#eab0b6"/><rect x="251.35" y="260.70" width="0.6" height="6.9" fill="#e0909a"/><rect x="252.14" y="260.70" width="0.6" height="6.9" fill="#e0909a"/><rect x="252.92" y="260.70" width="0.5" height="6.9" fill="#e0909a"/><rect x="254.31" y="260.70" width="0.5" height="6.9" fill="#cc5e6c"/><rect x="255.62" y="260.70" width="0.4" height="6.9" fill="#e0909a"/><rect x="256.90" y="260.70" width="0.6" height="6.9" fill="#eab0b6"/><rect x="257.50" y="260.70" width="0.6" height="6.9" fill="#e6a0a8"/><rect x="258.10" y="260.70" width="0.4" height="6.9" fill="#cc5e6c"/><rect x="258.86" y="260.70" width="0.5" height="6.9" fill="#cc5e6c"/><rect x="260.42" y="260.70" width="0.4" height="6.9" fill="#e6a0a8"/><rect x="261.51" y="260.70" width="0.5" height="6.9" fill="#e6a0a8"/><rect x="262.95" y="260.70" width="0.5" height="6.9" fill="#e0909a"/><rect x="264.27" y="260.70" width="0.4" height="6.9" fill="#cc5e6c"/><rect x="265.67" y="260.70" width="0.4" height="6.9" fill="#cc5e6c"/><rect x="266.56" y="260.70" width="0.4" height="6.9" fill="#eab0b6"/><rect x="267.43" y="260.70" width="0.6" height="6.9" fill="#eab0b6"/><rect x="268.81" y="260.70" width="0.5" height="6.9" fill="#e0909a"/><rect x="270.10" y="260.70" width="0.5" height="6.9" fill="#eab0b6"/><rect x="271.49" y="260.70" width="0.5" height="6.9" fill="#eab0b6"/><rect x="272.56" y="260.70" width="0.6" height="6.9" fill="#e0909a"/><rect x="273.87" y="260.70" width="0.5" height="6.9" fill="#e6a0a8"/><rect x="274.48" y="260.70" width="0.4" height="6.9" fill="#e0909a"/><rect x="275.20" y="260.70" width="0.4" height="6.9" fill="#cc5e6c"/><rect x="276.68" y="260.70" width="0.5" height="6.9" fill="#eab0b6"/><rect x="277.18" y="260.70" width="0.5" height="6.9" fill="#eab0b6"/><rect x="278.66" y="260.70" width="0.6" height="6.9" fill="#cc5e6c"/><rect x="279.51" y="260.70" width="0.5" height="6.9" fill="#e6a0a8"/><rect x="280.22" y="260.70" width="0.6" height="6.9" fill="#e0909a"/><rect x="280.80" y="260.70" width="0.5" height="6.9" fill="#cc5e6c"/><rect x="281.47" y="260.70" width="0.5" height="6.9" fill="#e6a0a8"/><rect x="282.27" y="260.70" width="0.4" height="6.9" fill="#eab0b6"/><rect x="283.51" y="260.70" width="0.4" height="6.9" fill="#cc5e6c"/><rect x="285.00" y="260.70" width="0.5" height="6.9" fill="#eab0b6"/><rect x="285.85" y="260.70" width="0.4" height="6.9" fill="#e6a0a8"/><rect x="287.09" y="260.70" width="0.5" height="6.9" fill="#e0909a"/><rect x="287.72" y="260.70" width="0.6" height="6.9" fill="#eab0b6"/><rect x="288.54" y="260.70" width="0.6" height="6.9" fill="#e0909a"/><rect x="289.84" y="260.70" width="0.4" height="6.9" fill="#e6a0a8"/><rect x="290.56" y="260.70" width="0.4" height="6.9" fill="#e0909a"/><rect x="291.78" y="260.70" width="0.6" height="6.9" fill="#cc5e6c"/><rect x="293.29" y="260.70" width="0.6" height="6.9" fill="#eab0b6"/><rect x="294.53" y="260.70" width="0.4" height="6.9" fill="#cc5e6c"/><rect x="295.43" y="260.70" width="0.4" height="6.9" fill="#cc5e6c"/>
<rect x="91.50" y="260.70" width="204.10" height="0.80" fill="#d46672" />
<rect x="91.50" y="266.80" width="204.10" height="0.80" fill="#d46672" />
<rect x="91.50" y="267.60" width="204.10" height="0.90" fill="#d2e6de" />
<rect x="91.50" y="268.50" width="204.10" height="6.20" fill="#c3c3c3" />
<text x="99.65" y="277.90" font-size="2.6" fill="#555"   text-anchor="middle" text-rendering="geometricPrecision" >600</text>
<line x1="99.65" y1="278.90" x2="99.65" y2="280.10" stroke="#777" stroke-width="0.4" />
<text x="135.10" y="277.90" font-size="2.6" fill="#555"   text-anchor="middle" text-rendering="geometricPrecision" >700</text>
<line x1="135.10" y1="278.90" x2="135.10" y2="280.10" stroke="#777" stroke-width="0.4" />
<text x="170.55" y="277.90" font-size="2.6" fill="#555"   text-anchor="middle" text-rendering="geometricPrecision" >800</text>
<line x1="170.55" y1="278.90" x2="170.55" y2="280.10" stroke="#777" stroke-width="0.4" />
<text x="206.00" y="277.90" font-size="2.6" fill="#555"   text-anchor="middle" text-rendering="geometricPrecision" >900</text>
<line x1="206.00" y1="278.90" x2="206.00" y2="280.10" stroke="#777" stroke-width="0.4" />
<text x="241.45" y="277.90" font-size="2.6" fill="#555"   text-anchor="middle" text-rendering="geometricPrecision" >1,000</text>
<line x1="241.45" y1="278.90" x2="241.45" y2="280.10" stroke="#777" stroke-width="0.4" />
<text x="276.90" y="277.90" font-size="2.6" fill="#555"   text-anchor="middle" text-rendering="geometricPrecision" >1,100</text>
<line x1="276.90" y1="278.90" x2="276.90" y2="280.10" stroke="#777" stroke-width="0.4" />
<text x="89.30" y="283.40" font-size="2.8" fill="#333"   text-anchor="end" text-rendering="geometricPrecision" textLength="28.2" lengthAdjust="spacingAndGlyphs">AAV9_hEPO_Genome</text>
<text x="89.30" y="286.90" font-size="2.8" fill="#333"   text-anchor="end" text-rendering="geometricPrecision" textLength="53.6" lengthAdjust="spacingAndGlyphs">AAV9_hEPO_DBS_pooled_DNA_selection</text>
<text x="89.30" y="291.20" font-size="2.7" fill="#333"   text-anchor="end" text-rendering="geometricPrecision" >Consensus</text>
<text x="89.30" y="293.30" font-size="2.0" fill="#555"   text-anchor="end" text-rendering="geometricPrecision" >100%</text>
<text x="89.30" y="296.50" font-size="2.7" fill="#333"   text-anchor="end" text-rendering="geometricPrecision" >Conservation</text>
<text x="89.30" y="300.10" font-size="2.0" fill="#555"   text-anchor="end" text-rendering="geometricPrecision" >0%</text>
<text x="89.30" y="304.70" font-size="2.7" fill="#333"   text-anchor="end" text-rendering="geometricPrecision" >Sequence logo</text>
<text x="89.30" y="306.90" font-size="2.0" fill="#555"   text-anchor="end" text-rendering="geometricPrecision" >2.0bits</text>
<line x1="91.50" y1="282.50" x2="295.60" y2="282.50" stroke="#7a7a7a" stroke-width="0.9" />
<line x1="91.50" y1="286.10" x2="295.60" y2="286.10" stroke="#7a7a7a" stroke-width="0.9" />
<text x="297.10" y="283.40" font-size="2.6" fill="#333"   text-anchor="start" text-rendering="geometricPrecision" >1152</text>
<text x="297.10" y="287.00" font-size="2.6" fill="#333"   text-anchor="start" text-rendering="geometricPrecision" >1152</text>
<rect x="91.50" y="288.50" width="204.10" height="3.10" fill="#c4c4c0" />
<rect x="91.50" y="291.60" width="204.10" height="1.00" fill="#e6e6ee" />
<rect x="91.50" y="292.60" width="204.10" height="6.90" fill="#d46c78" />
<rect x="92.26" y="292.60" width="0.6" height="6.9" fill="#e0909a"/><rect x="93.80" y="292.60" width="0.6" height="6.9" fill="#cc5e6c"/><rect x="95.10" y="292.60" width="0.5" height="6.9" fill="#e6a0a8"/><rect x="96.11" y="292.60" width="0.5" height="6.9" fill="#cc5e6c"/><rect x="96.79" y="292.60" width="0.4" height="6.9" fill="#eab0b6"/><rect x="98.33" y="292.60" width="0.6" height="6.9" fill="#e6a0a8"/><rect x="99.09" y="292.60" width="0.5" height="6.9" fill="#e6a0a8"/><rect x="100.62" y="292.60" width="0.4" height="6.9" fill="#e0909a"/><rect x="101.83" y="292.60" width="0.5" height="6.9" fill="#cc5e6c"/><rect x="103.18" y="292.60" width="0.4" height="6.9" fill="#eab0b6"/><rect x="104.60" y="292.60" width="0.5" height="6.9" fill="#eab0b6"/><rect x="105.81" y="292.60" width="0.4" height="6.9" fill="#e0909a"/><rect x="106.50" y="292.60" width="0.6" height="6.9" fill="#cc5e6c"/><rect x="107.21" y="292.60" width="0.4" height="6.9" fill="#e6a0a8"/><rect x="108.73" y="292.60" width="0.4" height="6.9" fill="#e6a0a8"/><rect x="109.83" y="292.60" width="0.4" height="6.9" fill="#e6a0a8"/><rect x="111.27" y="292.60" width="0.4" height="6.9" fill="#e6a0a8"/><rect x="112.25" y="292.60" width="0.5" height="6.9" fill="#cc5e6c"/><rect x="113.22" y="292.60" width="0.5" height="6.9" fill="#e0909a"/><rect x="114.52" y="292.60" width="0.5" height="6.9" fill="#cc5e6c"/><rect x="116.00" y="292.60" width="0.4" height="6.9" fill="#e6a0a8"/><rect x="116.65" y="292.60" width="0.5" height="6.9" fill="#e6a0a8"/><rect x="118.01" y="292.60" width="0.5" height="6.9" fill="#cc5e6c"/><rect x="118.85" y="292.60" width="0.4" height="6.9" fill="#e6a0a8"/><rect x="119.87" y="292.60" width="0.6" height="6.9" fill="#e6a0a8"/><rect x="121.25" y="292.60" width="0.6" height="6.9" fill="#e0909a"/><rect x="122.05" y="292.60" width="0.5" height="6.9" fill="#e0909a"/><rect x="122.61" y="292.60" width="0.4" height="6.9" fill="#eab0b6"/><rect x="124.08" y="292.60" width="0.4" height="6.9" fill="#e6a0a8"/><rect x="125.04" y="292.60" width="0.5" height="6.9" fill="#cc5e6c"/><rect x="126.37" y="292.60" width="0.6" height="6.9" fill="#e6a0a8"/><rect x="127.85" y="292.60" width="0.6" height="6.9" fill="#e0909a"/><rect x="128.99" y="292.60" width="0.5" height="6.9" fill="#e0909a"/><rect x="130.38" y="292.60" width="0.6" height="6.9" fill="#e6a0a8"/><rect x="131.68" y="292.60" width="0.6" height="6.9" fill="#cc5e6c"/><rect x="132.48" y="292.60" width="0.5" height="6.9" fill="#e0909a"/><rect x="133.33" y="292.60" width="0.5" height="6.9" fill="#e0909a"/><rect x="133.98" y="292.60" width="0.5" height="6.9" fill="#eab0b6"/><rect x="134.80" y="292.60" width="0.4" height="6.9" fill="#e6a0a8"/><rect x="135.33" y="292.60" width="0.4" height="6.9" fill="#e0909a"/><rect x="136.74" y="292.60" width="0.5" height="6.9" fill="#eab0b6"/><rect x="138.28" y="292.60" width="0.6" height="6.9" fill="#e6a0a8"/><rect x="139.04" y="292.60" width="0.5" height="6.9" fill="#e0909a"/><rect x="139.93" y="292.60" width="0.5" height="6.9" fill="#eab0b6"/><rect x="140.45" y="292.60" width="0.6" height="6.9" fill="#e0909a"/><rect x="141.75" y="292.60" width="0.4" height="6.9" fill="#eab0b6"/><rect x="142.83" y="292.60" width="0.4" height="6.9" fill="#e0909a"/><rect x="143.82" y="292.60" width="0.5" height="6.9" fill="#cc5e6c"/><rect x="144.45" y="292.60" width="0.5" height="6.9" fill="#cc5e6c"/><rect x="145.96" y="292.60" width="0.5" height="6.9" fill="#cc5e6c"/><rect x="146.65" y="292.60" width="0.4" height="6.9" fill="#e0909a"/><rect x="147.73" y="292.60" width="0.5" height="6.9" fill="#e6a0a8"/><rect x="148.35" y="292.60" width="0.5" height="6.9" fill="#e6a0a8"/><rect x="149.07" y="292.60" width="0.4" height="6.9" fill="#e6a0a8"/><rect x="150.57" y="292.60" width="0.4" height="6.9" fill="#cc5e6c"/><rect x="151.85" y="292.60" width="0.5" height="6.9" fill="#cc5e6c"/><rect x="152.86" y="292.60" width="0.4" height="6.9" fill="#eab0b6"/><rect x="154.26" y="292.60" width="0.5" height="6.9" fill="#eab0b6"/><rect x="155.61" y="292.60" width="0.4" height="6.9" fill="#eab0b6"/><rect x="156.49" y="292.60" width="0.4" height="6.9" fill="#e6a0a8"/><rect x="157.67" y="292.60" width="0.5" height="6.9" fill="#eab0b6"/><rect x="158.33" y="292.60" width="0.4" height="6.9" fill="#cc5e6c"/><rect x="159.25" y="292.60" width="0.4" height="6.9" fill="#e0909a"/><rect x="160.19" y="292.60" width="0.6" height="6.9" fill="#eab0b6"/><rect x="161.68" y="292.60" width="0.4" height="6.9" fill="#eab0b6"/><rect x="162.70" y="292.60" width="0.5" height="6.9" fill="#e6a0a8"/><rect x="164.08" y="292.60" width="0.5" height="6.9" fill="#e6a0a8"/><rect x="164.70" y="292.60" width="0.6" height="6.9" fill="#e0909a"/><rect x="166.09" y="292.60" width="0.4" height="6.9" fill="#eab0b6"/><rect x="167.34" y="292.60" width="0.6" height="6.9" fill="#eab0b6"/><rect x="168.40" y="292.60" width="0.6" height="6.9" fill="#cc5e6c"/><rect x="169.50" y="292.60" width="0.6" height="6.9" fill="#cc5e6c"/><rect x="170.50" y="292.60" width="0.6" height="6.9" fill="#e6a0a8"/><rect x="171.59" y="292.60" width="0.5" height="6.9" fill="#eab0b6"/><rect x="173.14" y="292.60" width="0.4" height="6.9" fill="#e0909a"/><rect x="173.95" y="292.60" width="0.4" height="6.9" fill="#e6a0a8"/><rect x="174.55" y="292.60" width="0.5" height="6.9" fill="#cc5e6c"/><rect x="175.39" y="292.60" width="0.4" height="6.9" fill="#eab0b6"/><rect x="176.91" y="292.60" width="0.4" height="6.9" fill="#e6a0a8"/><rect x="177.45" y="292.60" width="0.4" height="6.9" fill="#eab0b6"/><rect x="178.94" y="292.60" width="0.6" height="6.9" fill="#e0909a"/><rect x="179.97" y="292.60" width="0.4" height="6.9" fill="#e6a0a8"/><rect x="180.73" y="292.60" width="0.6" height="6.9" fill="#cc5e6c"/><rect x="181.66" y="292.60" width="0.4" height="6.9" fill="#cc5e6c"/><rect x="182.58" y="292.60" width="0.6" height="6.9" fill="#e0909a"/><rect x="184.08" y="292.60" width="0.6" height="6.9" fill="#eab0b6"/><rect x="185.01" y="292.60" width="0.4" height="6.9" fill="#eab0b6"/><rect x="185.78" y="292.60" width="0.4" height="6.9" fill="#e0909a"/><rect x="186.60" y="292.60" width="0.5" height="6.9" fill="#e6a0a8"/><rect x="188.09" y="292.60" width="0.4" height="6.9" fill="#e6a0a8"/><rect x="189.29" y="292.60" width="0.4" height="6.9" fill="#e0909a"/><rect x="190.51" y="292.60" width="0.6" height="6.9" fill="#cc5e6c"/><rect x="191.47" y="292.60" width="0.5" height="6.9" fill="#cc5e6c"/><rect x="192.55" y="292.60" width="0.4" height="6.9" fill="#eab0b6"/><rect x="193.51" y="292.60" width="0.4" height="6.9" fill="#eab0b6"/><rect x="194.21" y="292.60" width="0.4" height="6.9" fill="#e0909a"/><rect x="194.84" y="292.60" width="0.6" height="6.9" fill="#e0909a"/><rect x="195.82" y="292.60" width="0.5" height="6.9" fill="#e6a0a8"/><rect x="197.03" y="292.60" width="0.6" height="6.9" fill="#eab0b6"/><rect x="198.33" y="292.60" width="0.4" height="6.9" fill="#cc5e6c"/><rect x="198.98" y="292.60" width="0.6" height="6.9" fill="#e6a0a8"/><rect x="199.83" y="292.60" width="0.5" height="6.9" fill="#cc5e6c"/><rect x="201.35" y="292.60" width="0.4" height="6.9" fill="#cc5e6c"/><rect x="202.78" y="292.60" width="0.4" height="6.9" fill="#e0909a"/><rect x="204.02" y="292.60" width="0.4" height="6.9" fill="#e6a0a8"/><rect x="204.89" y="292.60" width="0.5" height="6.9" fill="#e6a0a8"/><rect x="206.02" y="292.60" width="0.5" height="6.9" fill="#eab0b6"/><rect x="207.42" y="292.60" width="0.4" height="6.9" fill="#e6a0a8"/><rect x="208.32" y="292.60" width="0.4" height="6.9" fill="#e0909a"/><rect x="209.05" y="292.60" width="0.5" height="6.9" fill="#e0909a"/><rect x="210.05" y="292.60" width="0.6" height="6.9" fill="#e6a0a8"/><rect x="210.82" y="292.60" width="0.6" height="6.9" fill="#cc5e6c"/><rect x="211.73" y="292.60" width="0.4" height="6.9" fill="#eab0b6"/><rect x="212.38" y="292.60" width="0.4" height="6.9" fill="#cc5e6c"/><rect x="213.30" y="292.60" width="0.5" height="6.9" fill="#e6a0a8"/><rect x="214.34" y="292.60" width="0.6" height="6.9" fill="#eab0b6"/><rect x="214.86" y="292.60" width="0.5" height="6.9" fill="#eab0b6"/><rect x="216.18" y="292.60" width="0.4" height="6.9" fill="#eab0b6"/><rect x="217.10" y="292.60" width="0.5" height="6.9" fill="#cc5e6c"/><rect x="218.31" y="292.60" width="0.4" height="6.9" fill="#e6a0a8"/><rect x="219.13" y="292.60" width="0.5" height="6.9" fill="#e6a0a8"/><rect x="220.21" y="292.60" width="0.4" height="6.9" fill="#e0909a"/><rect x="221.17" y="292.60" width="0.4" height="6.9" fill="#eab0b6"/><rect x="222.40" y="292.60" width="0.4" height="6.9" fill="#e0909a"/><rect x="223.20" y="292.60" width="0.4" height="6.9" fill="#cc5e6c"/><rect x="224.17" y="292.60" width="0.4" height="6.9" fill="#cc5e6c"/><rect x="225.62" y="292.60" width="0.4" height="6.9" fill="#e6a0a8"/><rect x="226.61" y="292.60" width="0.4" height="6.9" fill="#e6a0a8"/><rect x="227.12" y="292.60" width="0.4" height="6.9" fill="#eab0b6"/><rect x="228.51" y="292.60" width="0.4" height="6.9" fill="#eab0b6"/><rect x="229.63" y="292.60" width="0.5" height="6.9" fill="#e6a0a8"/><rect x="230.19" y="292.60" width="0.4" height="6.9" fill="#e0909a"/><rect x="231.76" y="292.60" width="0.5" height="6.9" fill="#e6a0a8"/><rect x="232.78" y="292.60" width="0.4" height="6.9" fill="#eab0b6"/><rect x="233.94" y="292.60" width="0.6" height="6.9" fill="#cc5e6c"/><rect x="235.00" y="292.60" width="0.4" height="6.9" fill="#e0909a"/><rect x="235.93" y="292.60" width="0.6" height="6.9" fill="#cc5e6c"/><rect x="237.37" y="292.60" width="0.6" height="6.9" fill="#e6a0a8"/><rect x="238.11" y="292.60" width="0.5" height="6.9" fill="#cc5e6c"/><rect x="239.50" y="292.60" width="0.5" height="6.9" fill="#cc5e6c"/><rect x="240.02" y="292.60" width="0.4" height="6.9" fill="#eab0b6"/><rect x="240.68" y="292.60" width="0.4" height="6.9" fill="#cc5e6c"/><rect x="242.10" y="292.60" width="0.4" height="6.9" fill="#eab0b6"/><rect x="242.84" y="292.60" width="0.5" height="6.9" fill="#e0909a"/><rect x="243.64" y="292.60" width="0.5" height="6.9" fill="#eab0b6"/><rect x="244.45" y="292.60" width="0.6" height="6.9" fill="#e6a0a8"/><rect x="245.80" y="292.60" width="0.5" height="6.9" fill="#e6a0a8"/><rect x="246.38" y="292.60" width="0.5" height="6.9" fill="#e6a0a8"/><rect x="247.87" y="292.60" width="0.4" height="6.9" fill="#e0909a"/><rect x="249.08" y="292.60" width="0.6" height="6.9" fill="#cc5e6c"/><rect x="250.64" y="292.60" width="0.6" height="6.9" fill="#cc5e6c"/><rect x="251.29" y="292.60" width="0.4" height="6.9" fill="#e6a0a8"/><rect x="252.80" y="292.60" width="0.6" height="6.9" fill="#e6a0a8"/><rect x="253.32" y="292.60" width="0.5" height="6.9" fill="#e6a0a8"/><rect x="254.11" y="292.60" width="0.6" height="6.9" fill="#eab0b6"/><rect x="254.98" y="292.60" width="0.4" height="6.9" fill="#e0909a"/><rect x="255.80" y="292.60" width="0.6" height="6.9" fill="#e6a0a8"/><rect x="256.61" y="292.60" width="0.4" height="6.9" fill="#cc5e6c"/><rect x="257.52" y="292.60" width="0.5" height="6.9" fill="#cc5e6c"/><rect x="258.63" y="292.60" width="0.5" height="6.9" fill="#e0909a"/><rect x="260.19" y="292.60" width="0.4" height="6.9" fill="#eab0b6"/><rect x="260.71" y="292.60" width="0.4" height="6.9" fill="#cc5e6c"/><rect x="261.35" y="292.60" width="0.5" height="6.9" fill="#e6a0a8"/><rect x="261.86" y="292.60" width="0.4" height="6.9" fill="#cc5e6c"/><rect x="262.62" y="292.60" width="0.6" height="6.9" fill="#e0909a"/><rect x="263.99" y="292.60" width="0.4" height="6.9" fill="#e0909a"/><rect x="264.53" y="292.60" width="0.5" height="6.9" fill="#eab0b6"/><rect x="265.89" y="292.60" width="0.6" height="6.9" fill="#eab0b6"/><rect x="266.87" y="292.60" width="0.4" height="6.9" fill="#e6a0a8"/><rect x="268.39" y="292.60" width="0.5" height="6.9" fill="#eab0b6"/><rect x="269.67" y="292.60" width="0.6" height="6.9" fill="#cc5e6c"/><rect x="271.26" y="292.60" width="0.5" height="6.9" fill="#e0909a"/><rect x="272.41" y="292.60" width="0.6" height="6.9" fill="#e6a0a8"/><rect x="273.62" y="292.60" width="0.4" height="6.9" fill="#e0909a"/><rect x="274.70" y="292.60" width="0.5" height="6.9" fill="#e6a0a8"/><rect x="276.22" y="292.60" width="0.5" height="6.9" fill="#eab0b6"/><rect x="277.63" y="292.60" width="0.4" height="6.9" fill="#cc5e6c"/><rect x="278.52" y="292.60" width="0.5" height="6.9" fill="#e6a0a8"/><rect x="279.64" y="292.60" width="0.4" height="6.9" fill="#cc5e6c"/><rect x="280.18" y="292.60" width="0.6" height="6.9" fill="#e6a0a8"/><rect x="280.81" y="292.60" width="0.4" height="6.9" fill="#eab0b6"/><rect x="282.38" y="292.60" width="0.5" height="6.9" fill="#eab0b6"/><rect x="283.41" y="292.60" width="0.4" height="6.9" fill="#e6a0a8"/><rect x="284.20" y="292.60" width="0.4" height="6.9" fill="#eab0b6"/><rect x="285.13" y="292.60" width="0.6" height="6.9" fill="#e0909a"/><rect x="286.40" y="292.60" width="0.6" height="6.9" fill="#cc5e6c"/><rect x="287.90" y="292.60" width="0.4" height="6.9" fill="#e0909a"/><rect x="289.03" y="292.60" width="0.6" height="6.9" fill="#eab0b6"/><rect x="290.14" y="292.60" width="0.4" height="6.9" fill="#cc5e6c"/><rect x="290.69" y="292.60" width="0.6" height="6.9" fill="#cc5e6c"/><rect x="291.93" y="292.60" width="0.6" height="6.9" fill="#e6a0a8"/><rect x="292.46" y="292.60" width="0.5" height="6.9" fill="#e6a0a8"/><rect x="293.42" y="292.60" width="0.6" height="6.9" fill="#cc5e6c"/><rect x="294.59" y="292.60" width="0.4" height="6.9" fill="#e6a0a8"/>
<rect x="91.50" y="292.60" width="204.10" height="0.80" fill="#d46672" />
<rect x="91.50" y="298.70" width="204.10" height="0.80" fill="#d46672" />
<rect x="91.50" y="299.50" width="204.10" height="0.90" fill="#d2e6de" />
<rect x="91.50" y="300.40" width="204.10" height="6.20" fill="#c3c3c3" />
<text x="108.16" y="309.70" font-size="2.6" fill="#555"   text-anchor="middle" text-rendering="geometricPrecision" >1,200</text>
<line x1="108.16" y1="310.70" x2="108.16" y2="311.90" stroke="#777" stroke-width="0.4" />
<text x="143.61" y="309.70" font-size="2.6" fill="#555"   text-anchor="middle" text-rendering="geometricPrecision" >1,300</text>
<line x1="143.61" y1="310.70" x2="143.61" y2="311.90" stroke="#777" stroke-width="0.4" />
<text x="179.06" y="309.70" font-size="2.6" fill="#555"   text-anchor="middle" text-rendering="geometricPrecision" >1,400</text>
<line x1="179.06" y1="310.70" x2="179.06" y2="311.90" stroke="#777" stroke-width="0.4" />
<text x="214.51" y="309.70" font-size="2.6" fill="#555"   text-anchor="middle" text-rendering="geometricPrecision" >1,500</text>
<line x1="214.51" y1="310.70" x2="214.51" y2="311.90" stroke="#777" stroke-width="0.4" />
<text x="249.96" y="309.70" font-size="2.6" fill="#555"   text-anchor="middle" text-rendering="geometricPrecision" >1,600</text>
<line x1="249.96" y1="310.70" x2="249.96" y2="311.90" stroke="#777" stroke-width="0.4" />
<text x="285.41" y="309.70" font-size="2.6" fill="#555"   text-anchor="middle" text-rendering="geometricPrecision" >1,700</text>
<line x1="285.41" y1="310.70" x2="285.41" y2="311.90" stroke="#777" stroke-width="0.4" />
<text x="89.30" y="315.20" font-size="2.8" fill="#333"   text-anchor="end" text-rendering="geometricPrecision" textLength="28.2" lengthAdjust="spacingAndGlyphs">AAV9_hEPO_Genome</text>
<text x="89.30" y="318.70" font-size="2.8" fill="#333"   text-anchor="end" text-rendering="geometricPrecision" textLength="53.6" lengthAdjust="spacingAndGlyphs">AAV9_hEPO_DBS_pooled_DNA_selection</text>
<text x="89.30" y="323.00" font-size="2.7" fill="#333"   text-anchor="end" text-rendering="geometricPrecision" >Consensus</text>
<text x="89.30" y="325.10" font-size="2.0" fill="#555"   text-anchor="end" text-rendering="geometricPrecision" >100%</text>
<text x="89.30" y="328.30" font-size="2.7" fill="#333"   text-anchor="end" text-rendering="geometricPrecision" >Conservation</text>
<text x="89.30" y="331.90" font-size="2.0" fill="#555"   text-anchor="end" text-rendering="geometricPrecision" >0%</text>
<text x="89.30" y="336.50" font-size="2.7" fill="#333"   text-anchor="end" text-rendering="geometricPrecision" >Sequence logo</text>
<text x="89.30" y="338.70" font-size="2.0" fill="#555"   text-anchor="end" text-rendering="geometricPrecision" >2.0bits</text>
<line x1="91.50" y1="314.30" x2="295.60" y2="314.30" stroke="#7a7a7a" stroke-width="0.9" />
<line x1="91.50" y1="317.90" x2="295.60" y2="317.90" stroke="#7a7a7a" stroke-width="0.9" />
<text x="297.10" y="315.20" font-size="2.6" fill="#333"   text-anchor="start" text-rendering="geometricPrecision" >1728</text>
<text x="297.10" y="318.80" font-size="2.6" fill="#333"   text-anchor="start" text-rendering="geometricPrecision" >1728</text>
<rect x="91.50" y="320.30" width="204.10" height="3.10" fill="#c4c4c0" />
<rect x="91.50" y="323.40" width="204.10" height="1.00" fill="#e6e6ee" />
<rect x="91.50" y="324.40" width="204.10" height="6.90" fill="#d46c78" />
<rect x="92.79" y="324.40" width="0.6" height="6.9" fill="#e6a0a8"/><rect x="93.34" y="324.40" width="0.6" height="6.9" fill="#cc5e6c"/><rect x="94.17" y="324.40" width="0.6" height="6.9" fill="#e6a0a8"/><rect x="95.72" y="324.40" width="0.6" height="6.9" fill="#eab0b6"/><rect x="96.36" y="324.40" width="0.5" height="6.9" fill="#eab0b6"/><rect x="97.36" y="324.40" width="0.5" height="6.9" fill="#e6a0a8"/><rect x="98.82" y="324.40" width="0.5" height="6.9" fill="#cc5e6c"/><rect x="99.83" y="324.40" width="0.4" height="6.9" fill="#e0909a"/><rect x="101.37" y="324.40" width="0.5" height="6.9" fill="#e0909a"/><rect x="102.38" y="324.40" width="0.4" height="6.9" fill="#eab0b6"/><rect x="103.97" y="324.40" width="0.6" height="6.9" fill="#cc5e6c"/><rect x="104.95" y="324.40" width="0.6" height="6.9" fill="#cc5e6c"/><rect x="105.64" y="324.40" width="0.4" height="6.9" fill="#cc5e6c"/><rect x="106.33" y="324.40" width="0.6" height="6.9" fill="#cc5e6c"/><rect x="107.86" y="324.40" width="0.5" height="6.9" fill="#e6a0a8"/><rect x="108.52" y="324.40" width="0.5" height="6.9" fill="#cc5e6c"/><rect x="109.57" y="324.40" width="0.4" height="6.9" fill="#e0909a"/><rect x="110.80" y="324.40" width="0.5" height="6.9" fill="#eab0b6"/><rect x="112.22" y="324.40" width="0.5" height="6.9" fill="#e6a0a8"/><rect x="112.93" y="324.40" width="0.5" height="6.9" fill="#eab0b6"/><rect x="114.37" y="324.40" width="0.6" height="6.9" fill="#eab0b6"/><rect x="115.40" y="324.40" width="0.6" height="6.9" fill="#e6a0a8"/><rect x="116.95" y="324.40" width="0.4" height="6.9" fill="#e6a0a8"/><rect x="117.82" y="324.40" width="0.4" height="6.9" fill="#eab0b6"/><rect x="119.25" y="324.40" width="0.6" height="6.9" fill="#e0909a"/><rect x="119.81" y="324.40" width="0.6" height="6.9" fill="#cc5e6c"/><rect x="120.50" y="324.40" width="0.5" height="6.9" fill="#eab0b6"/><rect x="121.11" y="324.40" width="0.5" height="6.9" fill="#e6a0a8"/><rect x="121.95" y="324.40" width="0.5" height="6.9" fill="#eab0b6"/><rect x="122.90" y="324.40" width="0.5" height="6.9" fill="#e6a0a8"/><rect x="123.47" y="324.40" width="0.4" height="6.9" fill="#e0909a"/><rect x="124.02" y="324.40" width="0.4" height="6.9" fill="#cc5e6c"/><rect x="124.63" y="324.40" width="0.5" height="6.9" fill="#e6a0a8"/><rect x="125.38" y="324.40" width="0.4" height="6.9" fill="#eab0b6"/><rect x="126.60" y="324.40" width="0.6" height="6.9" fill="#eab0b6"/><rect x="128.12" y="324.40" width="0.4" height="6.9" fill="#cc5e6c"/><rect x="129.04" y="324.40" width="0.4" height="6.9" fill="#e0909a"/><rect x="129.67" y="324.40" width="0.6" height="6.9" fill="#e6a0a8"/><rect x="130.26" y="324.40" width="0.6" height="6.9" fill="#cc5e6c"/><rect x="131.24" y="324.40" width="0.5" height="6.9" fill="#eab0b6"/><rect x="132.35" y="324.40" width="0.5" height="6.9" fill="#e6a0a8"/><rect x="133.08" y="324.40" width="0.6" height="6.9" fill="#e0909a"/><rect x="134.00" y="324.40" width="0.6" height="6.9" fill="#e0909a"/><rect x="135.51" y="324.40" width="0.5" height="6.9" fill="#e6a0a8"/><rect x="136.16" y="324.40" width="0.4" height="6.9" fill="#cc5e6c"/><rect x="137.00" y="324.40" width="0.6" height="6.9" fill="#eab0b6"/><rect x="137.81" y="324.40" width="0.6" height="6.9" fill="#eab0b6"/><rect x="138.81" y="324.40" width="0.5" height="6.9" fill="#e6a0a8"/><rect x="139.46" y="324.40" width="0.4" height="6.9" fill="#cc5e6c"/><rect x="140.72" y="324.40" width="0.6" height="6.9" fill="#e6a0a8"/><rect x="141.71" y="324.40" width="0.4" height="6.9" fill="#e0909a"/><rect x="142.49" y="324.40" width="0.6" height="6.9" fill="#e6a0a8"/><rect x="143.78" y="324.40" width="0.5" height="6.9" fill="#cc5e6c"/><rect x="145.22" y="324.40" width="0.4" height="6.9" fill="#cc5e6c"/><rect x="145.84" y="324.40" width="0.6" height="6.9" fill="#eab0b6"/><rect x="147.03" y="324.40" width="0.6" height="6.9" fill="#e6a0a8"/><rect x="148.13" y="324.40" width="0.6" height="6.9" fill="#e6a0a8"/><rect x="148.85" y="324.40" width="0.4" height="6.9" fill="#eab0b6"/><rect x="149.99" y="324.40" width="0.5" height="6.9" fill="#cc5e6c"/><rect x="151.45" y="324.40" width="0.6" height="6.9" fill="#eab0b6"/><rect x="152.62" y="324.40" width="0.4" height="6.9" fill="#eab0b6"/><rect x="153.26" y="324.40" width="0.5" height="6.9" fill="#eab0b6"/><rect x="154.22" y="324.40" width="0.4" height="6.9" fill="#eab0b6"/><rect x="155.44" y="324.40" width="0.6" height="6.9" fill="#e6a0a8"/><rect x="155.94" y="324.40" width="0.4" height="6.9" fill="#eab0b6"/><rect x="157.50" y="324.40" width="0.5" height="6.9" fill="#eab0b6"/><rect x="158.46" y="324.40" width="0.6" height="6.9" fill="#cc5e6c"/><rect x="159.34" y="324.40" width="0.6" height="6.9" fill="#eab0b6"/><rect x="160.62" y="324.40" width="0.6" height="6.9" fill="#e6a0a8"/><rect x="161.30" y="324.40" width="0.5" height="6.9" fill="#e6a0a8"/><rect x="162.39" y="324.40" width="0.5" height="6.9" fill="#cc5e6c"/><rect x="163.81" y="324.40" width="0.4" height="6.9" fill="#e0909a"/><rect x="164.90" y="324.40" width="0.5" height="6.9" fill="#e6a0a8"/><rect x="166.21" y="324.40" width="0.4" height="6.9" fill="#e0909a"/><rect x="167.65" y="324.40" width="0.4" height="6.9" fill="#cc5e6c"/><rect x="168.86" y="324.40" width="0.5" height="6.9" fill="#cc5e6c"/><rect x="170.07" y="324.40" width="0.4" height="6.9" fill="#eab0b6"/><rect x="171.58" y="324.40" width="0.4" height="6.9" fill="#e0909a"/><rect x="172.72" y="324.40" width="0.6" height="6.9" fill="#eab0b6"/><rect x="173.70" y="324.40" width="0.5" height="6.9" fill="#e0909a"/><rect x="175.01" y="324.40" width="0.5" height="6.9" fill="#cc5e6c"/><rect x="176.37" y="324.40" width="0.6" height="6.9" fill="#e6a0a8"/><rect x="177.86" y="324.40" width="0.6" height="6.9" fill="#e6a0a8"/><rect x="178.52" y="324.40" width="0.4" height="6.9" fill="#cc5e6c"/><rect x="179.03" y="324.40" width="0.4" height="6.9" fill="#e6a0a8"/><rect x="179.72" y="324.40" width="0.5" height="6.9" fill="#cc5e6c"/><rect x="180.75" y="324.40" width="0.6" height="6.9" fill="#e6a0a8"/><rect x="181.27" y="324.40" width="0.6" height="6.9" fill="#cc5e6c"/><rect x="182.69" y="324.40" width="0.6" height="6.9" fill="#e0909a"/><rect x="183.21" y="324.40" width="0.5" height="6.9" fill="#e0909a"/><rect x="184.78" y="324.40" width="0.6" height="6.9" fill="#eab0b6"/><rect x="185.50" y="324.40" width="0.6" height="6.9" fill="#eab0b6"/><rect x="186.98" y="324.40" width="0.4" height="6.9" fill="#e0909a"/><rect x="187.91" y="324.40" width="0.4" height="6.9" fill="#cc5e6c"/><rect x="188.48" y="324.40" width="0.4" height="6.9" fill="#cc5e6c"/><rect x="189.41" y="324.40" width="0.4" height="6.9" fill="#cc5e6c"/><rect x="190.67" y="324.40" width="0.4" height="6.9" fill="#e0909a"/><rect x="191.61" y="324.40" width="0.5" height="6.9" fill="#e0909a"/><rect x="192.56" y="324.40" width="0.4" height="6.9" fill="#eab0b6"/><rect x="193.56" y="324.40" width="0.4" height="6.9" fill="#eab0b6"/><rect x="194.90" y="324.40" width="0.4" height="6.9" fill="#cc5e6c"/><rect x="196.27" y="324.40" width="0.5" height="6.9" fill="#cc5e6c"/><rect x="197.58" y="324.40" width="0.4" height="6.9" fill="#eab0b6"/><rect x="198.72" y="324.40" width="0.6" height="6.9" fill="#e6a0a8"/><rect x="199.43" y="324.40" width="0.6" height="6.9" fill="#e0909a"/><rect x="200.33" y="324.40" width="0.4" height="6.9" fill="#cc5e6c"/><rect x="201.23" y="324.40" width="0.4" height="6.9" fill="#eab0b6"/><rect x="201.93" y="324.40" width="0.6" height="6.9" fill="#e0909a"/><rect x="203.20" y="324.40" width="0.4" height="6.9" fill="#e6a0a8"/><rect x="204.48" y="324.40" width="0.5" height="6.9" fill="#eab0b6"/><rect x="205.77" y="324.40" width="0.4" height="6.9" fill="#cc5e6c"/><rect x="206.44" y="324.40" width="0.4" height="6.9" fill="#e6a0a8"/><rect x="207.74" y="324.40" width="0.5" height="6.9" fill="#cc5e6c"/><rect x="208.53" y="324.40" width="0.6" height="6.9" fill="#cc5e6c"/><rect x="210.00" y="324.40" width="0.5" height="6.9" fill="#cc5e6c"/><rect x="210.69" y="324.40" width="0.5" height="6.9" fill="#cc5e6c"/><rect x="212.27" y="324.40" width="0.4" height="6.9" fill="#e0909a"/><rect x="213.29" y="324.40" width="0.4" height="6.9" fill="#e6a0a8"/><rect x="214.65" y="324.40" width="0.5" height="6.9" fill="#e0909a"/><rect x="215.24" y="324.40" width="0.6" height="6.9" fill="#eab0b6"/><rect x="215.84" y="324.40" width="0.6" height="6.9" fill="#eab0b6"/><rect x="216.79" y="324.40" width="0.5" height="6.9" fill="#eab0b6"/><rect x="218.23" y="324.40" width="0.4" height="6.9" fill="#eab0b6"/><rect x="219.43" y="324.40" width="0.4" height="6.9" fill="#e6a0a8"/><rect x="220.77" y="324.40" width="0.6" height="6.9" fill="#e6a0a8"/><rect x="221.31" y="324.40" width="0.6" height="6.9" fill="#cc5e6c"/><rect x="222.05" y="324.40" width="0.5" height="6.9" fill="#e0909a"/><rect x="223.02" y="324.40" width="0.6" height="6.9" fill="#cc5e6c"/><rect x="224.15" y="324.40" width="0.6" height="6.9" fill="#e0909a"/><rect x="225.61" y="324.40" width="0.4" height="6.9" fill="#eab0b6"/><rect x="226.20" y="324.40" width="0.5" height="6.9" fill="#eab0b6"/><rect x="227.15" y="324.40" width="0.4" height="6.9" fill="#eab0b6"/><rect x="228.34" y="324.40" width="0.5" height="6.9" fill="#e6a0a8"/><rect x="229.93" y="324.40" width="0.4" height="6.9" fill="#eab0b6"/><rect x="231.18" y="324.40" width="0.5" height="6.9" fill="#eab0b6"/><rect x="231.78" y="324.40" width="0.5" height="6.9" fill="#eab0b6"/><rect x="232.32" y="324.40" width="0.5" height="6.9" fill="#e6a0a8"/><rect x="233.48" y="324.40" width="0.5" height="6.9" fill="#eab0b6"/><rect x="234.27" y="324.40" width="0.6" height="6.9" fill="#eab0b6"/><rect x="235.33" y="324.40" width="0.4" height="6.9" fill="#cc5e6c"/><rect x="236.29" y="324.40" width="0.4" height="6.9" fill="#cc5e6c"/><rect x="237.81" y="324.40" width="0.4" height="6.9" fill="#e0909a"/><rect x="238.38" y="324.40" width="0.5" height="6.9" fill="#e6a0a8"/><rect x="239.22" y="324.40" width="0.5" height="6.9" fill="#cc5e6c"/><rect x="240.38" y="324.40" width="0.6" height="6.9" fill="#e6a0a8"/><rect x="241.08" y="324.40" width="0.5" height="6.9" fill="#e0909a"/><rect x="242.38" y="324.40" width="0.4" height="6.9" fill="#e6a0a8"/><rect x="243.53" y="324.40" width="0.6" height="6.9" fill="#e6a0a8"/><rect x="244.11" y="324.40" width="0.4" height="6.9" fill="#eab0b6"/><rect x="245.30" y="324.40" width="0.5" height="6.9" fill="#cc5e6c"/><rect x="246.52" y="324.40" width="0.4" height="6.9" fill="#cc5e6c"/><rect x="247.52" y="324.40" width="0.4" height="6.9" fill="#eab0b6"/><rect x="248.60" y="324.40" width="0.6" height="6.9" fill="#cc5e6c"/><rect x="250.03" y="324.40" width="0.6" height="6.9" fill="#cc5e6c"/><rect x="251.46" y="324.40" width="0.4" height="6.9" fill="#eab0b6"/><rect x="252.48" y="324.40" width="0.5" height="6.9" fill="#e6a0a8"/><rect x="253.10" y="324.40" width="0.5" height="6.9" fill="#eab0b6"/><rect x="254.62" y="324.40" width="0.5" height="6.9" fill="#e6a0a8"/><rect x="255.55" y="324.40" width="0.5" height="6.9" fill="#eab0b6"/><rect x="256.19" y="324.40" width="0.6" height="6.9" fill="#cc5e6c"/><rect x="257.08" y="324.40" width="0.4" height="6.9" fill="#e0909a"/><rect x="258.66" y="324.40" width="0.4" height="6.9" fill="#cc5e6c"/><rect x="259.51" y="324.40" width="0.4" height="6.9" fill="#e0909a"/><rect x="260.49" y="324.40" width="0.6" height="6.9" fill="#cc5e6c"/><rect x="261.12" y="324.40" width="0.5" height="6.9" fill="#e6a0a8"/><rect x="261.84" y="324.40" width="0.4" height="6.9" fill="#cc5e6c"/><rect x="262.60" y="324.40" width="0.5" height="6.9" fill="#e6a0a8"/><rect x="264.10" y="324.40" width="0.6" height="6.9" fill="#eab0b6"/><rect x="264.70" y="324.40" width="0.5" height="6.9" fill="#eab0b6"/><rect x="265.38" y="324.40" width="0.4" height="6.9" fill="#e6a0a8"/><rect x="266.10" y="324.40" width="0.4" height="6.9" fill="#eab0b6"/><rect x="267.12" y="324.40" width="0.4" height="6.9" fill="#e6a0a8"/><rect x="268.64" y="324.40" width="0.5" height="6.9" fill="#eab0b6"/><rect x="269.38" y="324.40" width="0.5" height="6.9" fill="#e6a0a8"/><rect x="269.91" y="324.40" width="0.4" height="6.9" fill="#e0909a"/><rect x="270.53" y="324.40" width="0.6" height="6.9" fill="#eab0b6"/><rect x="271.17" y="324.40" width="0.4" height="6.9" fill="#e6a0a8"/><rect x="272.51" y="324.40" width="0.6" height="6.9" fill="#eab0b6"/><rect x="273.88" y="324.40" width="0.5" height="6.9" fill="#cc5e6c"/><rect x="274.56" y="324.40" width="0.5" height="6.9" fill="#eab0b6"/><rect x="275.13" y="324.40" width="0.4" height="6.9" fill="#e0909a"/><rect x="276.43" y="324.40" width="0.5" height="6.9" fill="#e6a0a8"/><rect x="277.77" y="324.40" width="0.5" height="6.9" fill="#e0909a"/><rect x="279.21" y="324.40" width="0.6" height="6.9" fill="#e0909a"/><rect x="280.13" y="324.40" width="0.6" height="6.9" fill="#e6a0a8"/><rect x="280.94" y="324.40" width="0.4" height="6.9" fill="#eab0b6"/><rect x="281.44" y="324.40" width="0.4" height="6.9" fill="#e6a0a8"/><rect x="282.76" y="324.40" width="0.4" height="6.9" fill="#eab0b6"/><rect x="283.66" y="324.40" width="0.6" height="6.9" fill="#cc5e6c"/><rect x="284.17" y="324.40" width="0.6" height="6.9" fill="#e6a0a8"/><rect x="285.32" y="324.40" width="0.5" height="6.9" fill="#cc5e6c"/><rect x="286.21" y="324.40" width="0.5" height="6.9" fill="#e0909a"/><rect x="287.65" y="324.40" width="0.6" height="6.9" fill="#eab0b6"/><rect x="288.65" y="324.40" width="0.6" height="6.9" fill="#e6a0a8"/><rect x="289.80" y="324.40" width="0.4" height="6.9" fill="#e0909a"/><rect x="291.30" y="324.40" width="0.6" height="6.9" fill="#eab0b6"/><rect x="291.90" y="324.40" width="0.4" height="6.9" fill="#e0909a"/><rect x="292.82" y="324.40" width="0.6" height="6.9" fill="#e0909a"/><rect x="293.63" y="324.40" width="0.6" height="6.9" fill="#e0909a"/><rect x="294.36" y="324.40" width="0.4" height="6.9" fill="#e6a0a8"/><rect x="295.52" y="324.40" width="0.6" height="6.9" fill="#cc5e6c"/>
<rect x="91.50" y="324.40" width="204.10" height="0.80" fill="#d46672" />
<rect x="91.50" y="330.50" width="204.10" height="0.80" fill="#d46672" />
<rect x="91.50" y="331.30" width="204.10" height="0.90" fill="#d2e6de" />
<rect x="91.50" y="332.20" width="204.10" height="6.20" fill="#c3c3c3" />
<text x="116.67" y="341.70" font-size="2.6" fill="#555"   text-anchor="middle" text-rendering="geometricPrecision" >1,800</text>
<line x1="116.67" y1="342.70" x2="116.67" y2="343.90" stroke="#777" stroke-width="0.4" />
<text x="152.12" y="341.70" font-size="2.6" fill="#555"   text-anchor="middle" text-rendering="geometricPrecision" >1,900</text>
<line x1="152.12" y1="342.70" x2="152.12" y2="343.90" stroke="#777" stroke-width="0.4" />
<text x="187.57" y="341.70" font-size="2.6" fill="#555"   text-anchor="middle" text-rendering="geometricPrecision" >2,000</text>
<line x1="187.57" y1="342.70" x2="187.57" y2="343.90" stroke="#777" stroke-width="0.4" />
<text x="223.02" y="341.70" font-size="2.6" fill="#555"   text-anchor="middle" text-rendering="geometricPrecision" >2,100</text>
<line x1="223.02" y1="342.70" x2="223.02" y2="343.90" stroke="#777" stroke-width="0.4" />
<text x="258.47" y="341.70" font-size="2.6" fill="#555"   text-anchor="middle" text-rendering="geometricPrecision" >2,200</text>
<line x1="258.47" y1="342.70" x2="258.47" y2="343.90" stroke="#777" stroke-width="0.4" />
<text x="89.30" y="347.20" font-size="2.8" fill="#333"   text-anchor="end" text-rendering="geometricPrecision" textLength="28.2" lengthAdjust="spacingAndGlyphs">AAV9_hEPO_Genome</text>
<text x="89.30" y="350.70" font-size="2.8" fill="#333"   text-anchor="end" text-rendering="geometricPrecision" textLength="53.6" lengthAdjust="spacingAndGlyphs">AAV9_hEPO_DBS_pooled_DNA_selection</text>
<text x="89.30" y="355.00" font-size="2.7" fill="#333"   text-anchor="end" text-rendering="geometricPrecision" >Consensus</text>
<text x="89.30" y="357.10" font-size="2.0" fill="#555"   text-anchor="end" text-rendering="geometricPrecision" >100%</text>
<text x="89.30" y="360.30" font-size="2.7" fill="#333"   text-anchor="end" text-rendering="geometricPrecision" >Conservation</text>
<text x="89.30" y="363.90" font-size="2.0" fill="#555"   text-anchor="end" text-rendering="geometricPrecision" >0%</text>
<text x="89.30" y="368.50" font-size="2.7" fill="#333"   text-anchor="end" text-rendering="geometricPrecision" >Sequence logo</text>
<text x="89.30" y="370.70" font-size="2.0" fill="#555"   text-anchor="end" text-rendering="geometricPrecision" >2.0bits</text>
<line x1="91.50" y1="346.30" x2="276.80" y2="346.30" stroke="#7a7a7a" stroke-width="0.9" />
<line x1="91.50" y1="349.90" x2="276.80" y2="349.90" stroke="#7a7a7a" stroke-width="0.9" />
<text x="278.30" y="347.20" font-size="2.6" fill="#333"   text-anchor="start" text-rendering="geometricPrecision" >2251</text>
<text x="278.30" y="350.80" font-size="2.6" fill="#333"   text-anchor="start" text-rendering="geometricPrecision" >2251</text>
<rect x="91.50" y="352.30" width="185.30" height="3.10" fill="#c4c4c0" />
<rect x="91.50" y="355.40" width="185.30" height="1.00" fill="#e6e6ee" />
<rect x="91.50" y="356.40" width="185.30" height="6.90" fill="#d46c78" />
<rect x="92.48" y="356.40" width="0.5" height="6.9" fill="#eab0b6"/><rect x="93.07" y="356.40" width="0.4" height="6.9" fill="#cc5e6c"/><rect x="94.45" y="356.40" width="0.6" height="6.9" fill="#e6a0a8"/><rect x="95.69" y="356.40" width="0.6" height="6.9" fill="#eab0b6"/><rect x="96.82" y="356.40" width="0.6" height="6.9" fill="#e6a0a8"/><rect x="97.65" y="356.40" width="0.6" height="6.9" fill="#e0909a"/><rect x="98.82" y="356.40" width="0.6" height="6.9" fill="#eab0b6"/><rect x="99.73" y="356.40" width="0.5" height="6.9" fill="#eab0b6"/><rect x="100.38" y="356.40" width="0.5" height="6.9" fill="#e0909a"/><rect x="101.70" y="356.40" width="0.6" height="6.9" fill="#e6a0a8"/><rect x="103.20" y="356.40" width="0.4" height="6.9" fill="#eab0b6"/><rect x="104.30" y="356.40" width="0.4" height="6.9" fill="#eab0b6"/><rect x="105.59" y="356.40" width="0.5" height="6.9" fill="#cc5e6c"/><rect x="107.00" y="356.40" width="0.5" height="6.9" fill="#e6a0a8"/><rect x="108.20" y="356.40" width="0.5" height="6.9" fill="#e6a0a8"/><rect x="109.39" y="356.40" width="0.4" height="6.9" fill="#e0909a"/><rect x="110.93" y="356.40" width="0.5" height="6.9" fill="#cc5e6c"/><rect x="112.32" y="356.40" width="0.4" height="6.9" fill="#cc5e6c"/><rect x="113.25" y="356.40" width="0.4" height="6.9" fill="#cc5e6c"/><rect x="114.49" y="356.40" width="0.6" height="6.9" fill="#cc5e6c"/><rect x="116.02" y="356.40" width="0.4" height="6.9" fill="#cc5e6c"/><rect x="117.19" y="356.40" width="0.4" height="6.9" fill="#e0909a"/><rect x="118.25" y="356.40" width="0.6" height="6.9" fill="#eab0b6"/><rect x="119.11" y="356.40" width="0.6" height="6.9" fill="#e0909a"/><rect x="120.02" y="356.40" width="0.6" height="6.9" fill="#e0909a"/><rect x="121.54" y="356.40" width="0.6" height="6.9" fill="#e0909a"/><rect x="122.66" y="356.40" width="0.6" height="6.9" fill="#e6a0a8"/><rect x="123.47" y="356.40" width="0.4" height="6.9" fill="#cc5e6c"/><rect x="124.51" y="356.40" width="0.6" height="6.9" fill="#e0909a"/><rect x="125.85" y="356.40" width="0.5" height="6.9" fill="#cc5e6c"/><rect x="127.39" y="356.40" width="0.5" height="6.9" fill="#e0909a"/><rect x="128.98" y="356.40" width="0.5" height="6.9" fill="#e0909a"/><rect x="130.53" y="356.40" width="0.4" height="6.9" fill="#e6a0a8"/><rect x="131.88" y="356.40" width="0.6" height="6.9" fill="#cc5e6c"/><rect x="132.98" y="356.40" width="0.4" height="6.9" fill="#e0909a"/><rect x="133.49" y="356.40" width="0.6" height="6.9" fill="#e0909a"/><rect x="135.05" y="356.40" width="0.4" height="6.9" fill="#e6a0a8"/><rect x="136.47" y="356.40" width="0.5" height="6.9" fill="#e0909a"/><rect x="138.01" y="356.40" width="0.4" height="6.9" fill="#eab0b6"/><rect x="139.38" y="356.40" width="0.5" height="6.9" fill="#eab0b6"/><rect x="140.67" y="356.40" width="0.4" height="6.9" fill="#cc5e6c"/><rect x="141.73" y="356.40" width="0.6" height="6.9" fill="#eab0b6"/><rect x="142.28" y="356.40" width="0.6" height="6.9" fill="#eab0b6"/><rect x="142.79" y="356.40" width="0.4" height="6.9" fill="#e0909a"/><rect x="143.50" y="356.40" width="0.5" height="6.9" fill="#eab0b6"/><rect x="145.07" y="356.40" width="0.4" height="6.9" fill="#e0909a"/><rect x="146.06" y="356.40" width="0.4" height="6.9" fill="#cc5e6c"/><rect x="147.55" y="356.40" width="0.5" height="6.9" fill="#e0909a"/><rect x="148.41" y="356.40" width="0.5" height="6.9" fill="#e0909a"/><rect x="149.31" y="356.40" width="0.4" height="6.9" fill="#eab0b6"/><rect x="149.94" y="356.40" width="0.4" height="6.9" fill="#e0909a"/><rect x="150.79" y="356.40" width="0.4" height="6.9" fill="#eab0b6"/><rect x="152.13" y="356.40" width="0.5" height="6.9" fill="#e6a0a8"/><rect x="153.32" y="356.40" width="0.5" height="6.9" fill="#eab0b6"/><rect x="153.95" y="356.40" width="0.6" height="6.9" fill="#eab0b6"/><rect x="154.50" y="356.40" width="0.6" height="6.9" fill="#e6a0a8"/><rect x="155.11" y="356.40" width="0.5" height="6.9" fill="#e0909a"/><rect x="156.20" y="356.40" width="0.4" height="6.9" fill="#eab0b6"/><rect x="157.06" y="356.40" width="0.4" height="6.9" fill="#e6a0a8"/><rect x="158.04" y="356.40" width="0.6" height="6.9" fill="#cc5e6c"/><rect x="158.96" y="356.40" width="0.4" height="6.9" fill="#eab0b6"/><rect x="160.38" y="356.40" width="0.6" height="6.9" fill="#cc5e6c"/><rect x="161.69" y="356.40" width="0.4" height="6.9" fill="#e6a0a8"/><rect x="162.53" y="356.40" width="0.6" height="6.9" fill="#cc5e6c"/><rect x="163.19" y="356.40" width="0.6" height="6.9" fill="#e0909a"/><rect x="164.09" y="356.40" width="0.6" height="6.9" fill="#eab0b6"/><rect x="164.89" y="356.40" width="0.5" height="6.9" fill="#cc5e6c"/><rect x="166.45" y="356.40" width="0.4" height="6.9" fill="#cc5e6c"/><rect x="167.48" y="356.40" width="0.6" height="6.9" fill="#cc5e6c"/><rect x="168.09" y="356.40" width="0.6" height="6.9" fill="#e6a0a8"/><rect x="168.86" y="356.40" width="0.5" height="6.9" fill="#e6a0a8"/><rect x="169.47" y="356.40" width="0.4" height="6.9" fill="#cc5e6c"/><rect x="170.55" y="356.40" width="0.6" height="6.9" fill="#cc5e6c"/><rect x="171.62" y="356.40" width="0.5" height="6.9" fill="#e0909a"/><rect x="172.28" y="356.40" width="0.4" height="6.9" fill="#e6a0a8"/><rect x="172.92" y="356.40" width="0.5" height="6.9" fill="#cc5e6c"/><rect x="173.43" y="356.40" width="0.6" height="6.9" fill="#cc5e6c"/><rect x="174.30" y="356.40" width="0.4" height="6.9" fill="#eab0b6"/><rect x="175.79" y="356.40" width="0.5" height="6.9" fill="#e0909a"/><rect x="176.54" y="356.40" width="0.5" height="6.9" fill="#cc5e6c"/><rect x="177.32" y="356.40" width="0.5" height="6.9" fill="#e6a0a8"/><rect x="178.50" y="356.40" width="0.6" height="6.9" fill="#eab0b6"/><rect x="180.08" y="356.40" width="0.5" height="6.9" fill="#e6a0a8"/><rect x="181.32" y="356.40" width="0.5" height="6.9" fill="#e6a0a8"/><rect x="182.55" y="356.40" width="0.4" height="6.9" fill="#e0909a"/><rect x="183.52" y="356.40" width="0.6" height="6.9" fill="#e0909a"/><rect x="184.25" y="356.40" width="0.4" height="6.9" fill="#e6a0a8"/><rect x="185.61" y="356.40" width="0.5" height="6.9" fill="#e0909a"/><rect x="186.35" y="356.40" width="0.6" height="6.9" fill="#cc5e6c"/><rect x="187.48" y="356.40" width="0.4" height="6.9" fill="#cc5e6c"/><rect x="189.02" y="356.40" width="0.5" height="6.9" fill="#cc5e6c"/><rect x="189.65" y="356.40" width="0.5" height="6.9" fill="#eab0b6"/><rect x="190.23" y="356.40" width="0.5" height="6.9" fill="#eab0b6"/><rect x="191.46" y="356.40" width="0.5" height="6.9" fill="#e0909a"/><rect x="192.04" y="356.40" width="0.5" height="6.9" fill="#eab0b6"/><rect x="193.54" y="356.40" width="0.6" height="6.9" fill="#e6a0a8"/><rect x="194.86" y="356.40" width="0.5" height="6.9" fill="#eab0b6"/><rect x="196.23" y="356.40" width="0.4" height="6.9" fill="#cc5e6c"/><rect x="197.29" y="356.40" width="0.5" height="6.9" fill="#eab0b6"/><rect x="198.26" y="356.40" width="0.4" height="6.9" fill="#e0909a"/><rect x="199.58" y="356.40" width="0.4" height="6.9" fill="#eab0b6"/><rect x="201.05" y="356.40" width="0.4" height="6.9" fill="#e0909a"/><rect x="202.55" y="356.40" width="0.5" height="6.9" fill="#cc5e6c"/><rect x="203.79" y="356.40" width="0.4" height="6.9" fill="#cc5e6c"/><rect x="205.39" y="356.40" width="0.5" height="6.9" fill="#e0909a"/><rect x="206.32" y="356.40" width="0.6" height="6.9" fill="#e6a0a8"/><rect x="207.24" y="356.40" width="0.5" height="6.9" fill="#e0909a"/><rect x="208.12" y="356.40" width="0.5" height="6.9" fill="#eab0b6"/><rect x="208.93" y="356.40" width="0.5" height="6.9" fill="#cc5e6c"/><rect x="209.79" y="356.40" width="0.4" height="6.9" fill="#e6a0a8"/><rect x="211.12" y="356.40" width="0.5" height="6.9" fill="#e0909a"/><rect x="211.72" y="356.40" width="0.5" height="6.9" fill="#eab0b6"/><rect x="213.28" y="356.40" width="0.4" height="6.9" fill="#eab0b6"/><rect x="213.95" y="356.40" width="0.5" height="6.9" fill="#cc5e6c"/><rect x="215.29" y="356.40" width="0.4" height="6.9" fill="#cc5e6c"/><rect x="216.00" y="356.40" width="0.5" height="6.9" fill="#cc5e6c"/><rect x="217.59" y="356.40" width="0.5" height="6.9" fill="#e6a0a8"/><rect x="218.95" y="356.40" width="0.6" height="6.9" fill="#e0909a"/><rect x="219.57" y="356.40" width="0.4" height="6.9" fill="#e6a0a8"/><rect x="220.85" y="356.40" width="0.6" height="6.9" fill="#eab0b6"/><rect x="222.12" y="356.40" width="0.4" height="6.9" fill="#e6a0a8"/><rect x="223.57" y="356.40" width="0.6" height="6.9" fill="#eab0b6"/><rect x="225.11" y="356.40" width="0.6" height="6.9" fill="#e6a0a8"/><rect x="226.38" y="356.40" width="0.4" height="6.9" fill="#e0909a"/><rect x="227.64" y="356.40" width="0.6" height="6.9" fill="#eab0b6"/><rect x="228.45" y="356.40" width="0.4" height="6.9" fill="#cc5e6c"/><rect x="229.73" y="356.40" width="0.4" height="6.9" fill="#cc5e6c"/><rect x="230.55" y="356.40" width="0.6" height="6.9" fill="#cc5e6c"/><rect x="231.86" y="356.40" width="0.5" height="6.9" fill="#eab0b6"/><rect x="232.71" y="356.40" width="0.4" height="6.9" fill="#eab0b6"/><rect x="233.93" y="356.40" width="0.5" height="6.9" fill="#e0909a"/><rect x="234.72" y="356.40" width="0.4" height="6.9" fill="#e6a0a8"/><rect x="235.31" y="356.40" width="0.4" height="6.9" fill="#cc5e6c"/><rect x="236.89" y="356.40" width="0.6" height="6.9" fill="#e6a0a8"/><rect x="238.32" y="356.40" width="0.4" height="6.9" fill="#cc5e6c"/><rect x="239.79" y="356.40" width="0.4" height="6.9" fill="#cc5e6c"/><rect x="240.95" y="356.40" width="0.5" height="6.9" fill="#eab0b6"/><rect x="241.59" y="356.40" width="0.6" height="6.9" fill="#e0909a"/><rect x="242.73" y="356.40" width="0.6" height="6.9" fill="#e6a0a8"/><rect x="243.78" y="356.40" width="0.6" height="6.9" fill="#e6a0a8"/><rect x="244.66" y="356.40" width="0.4" height="6.9" fill="#e0909a"/><rect x="246.01" y="356.40" width="0.5" height="6.9" fill="#e6a0a8"/><rect x="246.65" y="356.40" width="0.4" height="6.9" fill="#e0909a"/><rect x="248.15" y="356.40" width="0.5" height="6.9" fill="#e6a0a8"/><rect x="248.95" y="356.40" width="0.4" height="6.9" fill="#e6a0a8"/><rect x="250.10" y="356.40" width="0.4" height="6.9" fill="#e0909a"/><rect x="251.24" y="356.40" width="0.5" height="6.9" fill="#cc5e6c"/><rect x="252.07" y="356.40" width="0.4" height="6.9" fill="#e0909a"/><rect x="253.18" y="356.40" width="0.6" height="6.9" fill="#eab0b6"/><rect x="254.68" y="356.40" width="0.6" height="6.9" fill="#cc5e6c"/><rect x="255.20" y="356.40" width="0.4" height="6.9" fill="#cc5e6c"/><rect x="256.39" y="356.40" width="0.4" height="6.9" fill="#e6a0a8"/><rect x="257.31" y="356.40" width="0.4" height="6.9" fill="#cc5e6c"/><rect x="258.00" y="356.40" width="0.5" height="6.9" fill="#cc5e6c"/><rect x="259.22" y="356.40" width="0.5" height="6.9" fill="#cc5e6c"/><rect x="260.62" y="356.40" width="0.5" height="6.9" fill="#eab0b6"/><rect x="261.65" y="356.40" width="0.6" height="6.9" fill="#cc5e6c"/><rect x="262.28" y="356.40" width="0.6" height="6.9" fill="#e6a0a8"/><rect x="263.81" y="356.40" width="0.6" height="6.9" fill="#e6a0a8"/><rect x="264.53" y="356.40" width="0.6" height="6.9" fill="#cc5e6c"/><rect x="266.06" y="356.40" width="0.5" height="6.9" fill="#eab0b6"/><rect x="267.29" y="356.40" width="0.6" height="6.9" fill="#cc5e6c"/><rect x="268.88" y="356.40" width="0.5" height="6.9" fill="#eab0b6"/><rect x="269.80" y="356.40" width="0.4" height="6.9" fill="#e6a0a8"/><rect x="271.06" y="356.40" width="0.4" height="6.9" fill="#e0909a"/><rect x="271.64" y="356.40" width="0.5" height="6.9" fill="#cc5e6c"/><rect x="272.97" y="356.40" width="0.5" height="6.9" fill="#cc5e6c"/><rect x="273.73" y="356.40" width="0.5" height="6.9" fill="#e0909a"/><rect x="275.32" y="356.40" width="0.4" height="6.9" fill="#e6a0a8"/>
<rect x="91.50" y="356.40" width="185.30" height="0.80" fill="#d46672" />
<rect x="91.50" y="362.50" width="185.30" height="0.80" fill="#d46672" />
<rect x="91.50" y="363.30" width="185.30" height="0.90" fill="#d2e6de" />
<rect x="91.50" y="364.20" width="185.30" height="6.20" fill="#c3c3c3" />
<g class="g">
<rect x="331.3" y="235.4" width="207.3" height="147.99999999999997" fill="#fff" stroke="#b8b8b8" stroke-width="0.8"/>
<text x="373.70" y="241.20" font-size="2.3" fill="#222"   text-anchor="end" text-rendering="geometricPrecision" textLength="21.5" lengthAdjust="spacingAndGlyphs">AAV9_hEPO_Genome</text>
<text x="373.70" y="244.00" font-size="2.3" fill="#222"   text-anchor="end" text-rendering="geometricPrecision" textLength="40.2" lengthAdjust="spacingAndGlyphs">AAV9_hEPO_DBS_pooled_DNA_selection</text>
<text x="373.70" y="247.20" font-size="2.2" fill="#333"   text-anchor="end" text-rendering="geometricPrecision" >Consensus</text>
<text x="373.70" y="249.00" font-size="1.6" fill="#666"   text-anchor="end" text-rendering="geometricPrecision" >100%</text>
<text x="373.70" y="252.00" font-size="2.2" fill="#333"   text-anchor="end" text-rendering="geometricPrecision" >Conservation</text>
<text x="373.70" y="254.40" font-size="1.6" fill="#666"   text-anchor="end" text-rendering="geometricPrecision" >0%</text>
<text x="373.70" y="257.80" font-size="2.2" fill="#333"   text-anchor="end" text-rendering="geometricPrecision" >Sequence logo</text>
<text x="373.70" y="259.60" font-size="1.6" fill="#666"   text-anchor="end" text-rendering="geometricPrecision" >2.0bits</text>
<text x="537.40" y="241.20" font-size="2.4" fill="#333"   text-anchor="end" text-rendering="geometricPrecision" >1020</text>
<text x="537.40" y="243.90" font-size="2.4" fill="#333"   text-anchor="end" text-rendering="geometricPrecision" >1020</text>
<rect x="375.90" y="239.20" width="1.82" height="5.2" fill="#28b028"/><rect x="377.67" y="239.20" width="1.82" height="5.2" fill="#c8c020"/><rect x="379.44" y="239.20" width="1.82" height="5.2" fill="#c8c020"/><rect x="381.21" y="239.20" width="1.82" height="5.2" fill="#2828d8"/><rect x="382.98" y="239.20" width="1.82" height="5.2" fill="#2828d8"/><rect x="384.75" y="239.20" width="1.82" height="5.2" fill="#e02828"/><rect x="386.52" y="239.20" width="1.82" height="5.2" fill="#c8c020"/><rect x="388.29" y="239.20" width="1.82" height="5.2" fill="#28b028"/><rect x="390.06" y="239.20" width="1.82" height="5.2" fill="#e02828"/><rect x="391.83" y="239.20" width="1.82" height="5.2" fill="#c8c020"/><text x="376.10" y="247.00" font-size="2.4" fill="#666" textLength="17.2" lengthAdjust="spacingAndGlyphs">TGGCCAGTAG</text><rect x="375.90" y="248.00" width="17.7" height="4.6" fill="#f2a8ac"/><rect x="377.47" y="248.00" width="0.4" height="4.6" fill="#f6c2c4"/><rect x="379.24" y="248.00" width="0.4" height="4.6" fill="#f6c2c4"/><rect x="381.01" y="248.00" width="0.4" height="4.6" fill="#f6c2c4"/><rect x="382.78" y="248.00" width="0.4" height="4.6" fill="#f6c2c4"/><rect x="384.55" y="248.00" width="0.4" height="4.6" fill="#f6c2c4"/><rect x="386.32" y="248.00" width="0.4" height="4.6" fill="#f6c2c4"/><rect x="388.09" y="248.00" width="0.4" height="4.6" fill="#f6c2c4"/><rect x="389.86" y="248.00" width="0.4" height="4.6" fill="#f6c2c4"/><rect x="391.63" y="248.00" width="0.4" height="4.6" fill="#f6c2c4"/><text transform="translate(375.95,259.60) scale(1,2.7)" font-size="2.5" fill="#94dc94" font-weight="bold">T</text><text transform="translate(377.72,259.60) scale(1,2.7)" font-size="2.5" fill="#d8d890" font-weight="bold">G</text><text transform="translate(379.49,259.60) scale(1,2.7)" font-size="2.5" fill="#d8d890" font-weight="bold">G</text><text transform="translate(381.26,259.60) scale(1,2.7)" font-size="2.5" fill="#9a9aee" font-weight="bold">C</text><text transform="translate(383.03,259.60) scale(1,2.7)" font-size="2.5" fill="#9a9aee" font-weight="bold">C</text><text transform="translate(384.80,259.60) scale(1,2.7)" font-size="2.5" fill="#ec9a9a" font-weight="bold">A</text><text transform="translate(386.57,259.60) scale(1,2.7)" font-size="2.5" fill="#d8d890" font-weight="bold">G</text><text transform="translate(388.34,259.60) scale(1,2.7)" font-size="2.5" fill="#94dc94" font-weight="bold">T</text><text transform="translate(390.11,259.60) scale(1,2.7)" font-size="2.5" fill="#ec9a9a" font-weight="bold">A</text><text transform="translate(391.88,259.60) scale(1,2.7)" font-size="2.5" fill="#d8d890" font-weight="bold">G</text><rect x="395.50" y="239.20" width="1.82" height="5.2" fill="#e02828"/><rect x="397.27" y="239.20" width="1.82" height="5.2" fill="#28b028"/><rect x="399.04" y="239.20" width="1.82" height="5.2" fill="#2828d8"/><rect x="400.81" y="239.20" width="1.82" height="5.2" fill="#28b028"/><rect x="402.58" y="239.20" width="1.82" height="5.2" fill="#28b028"/><rect x="404.35" y="239.20" width="1.82" height="5.2" fill="#2828d8"/><rect x="406.12" y="239.20" width="1.82" height="5.2" fill="#2828d8"/><rect x="407.89" y="239.20" width="1.82" height="5.2" fill="#2828d8"/><rect x="409.66" y="239.20" width="1.82" height="5.2" fill="#e02828"/><rect x="411.43" y="239.20" width="1.82" height="5.2" fill="#e02828"/><text x="395.70" y="247.00" font-size="2.4" fill="#666" textLength="17.2" lengthAdjust="spacingAndGlyphs">ATCTTCCCAA</text><rect x="395.50" y="248.00" width="17.7" height="4.6" fill="#f2a8ac"/><rect x="397.07" y="248.00" width="0.4" height="4.6" fill="#f6c2c4"/><rect x="398.84" y="248.00" width="0.4" height="4.6" fill="#f6c2c4"/><rect x="400.61" y="248.00" width="0.4" height="4.6" fill="#f6c2c4"/><rect x="402.38" y="248.00" width="0.4" height="4.6" fill="#f6c2c4"/><rect x="404.15" y="248.00" width="0.4" height="4.6" fill="#f6c2c4"/><rect x="405.92" y="248.00" width="0.4" height="4.6" fill="#f6c2c4"/><rect x="407.69" y="248.00" width="0.4" height="4.6" fill="#f6c2c4"/><rect x="409.46" y="248.00" width="0.4" height="4.6" fill="#f6c2c4"/><rect x="411.23" y="248.00" width="0.4" height="4.6" fill="#f6c2c4"/><text transform="translate(395.55,259.60) scale(1,2.7)" font-size="2.5" fill="#ec9a9a" font-weight="bold">A</text><text transform="translate(397.32,259.60) scale(1,2.7)" font-size="2.5" fill="#94dc94" font-weight="bold">T</text><text transform="translate(399.09,259.60) scale(1,2.7)" font-size="2.5" fill="#9a9aee" font-weight="bold">C</text><text transform="translate(400.86,259.60) scale(1,2.7)" font-size="2.5" fill="#94dc94" font-weight="bold">T</text><text transform="translate(402.63,259.60) scale(1,2.7)" font-size="2.5" fill="#94dc94" font-weight="bold">T</text><text transform="translate(404.40,259.60) scale(1,2.7)" font-size="2.5" fill="#9a9aee" font-weight="bold">C</text><text transform="translate(406.17,259.60) scale(1,2.7)" font-size="2.5" fill="#9a9aee" font-weight="bold">C</text><text transform="translate(407.94,259.60) scale(1,2.7)" font-size="2.5" fill="#9a9aee" font-weight="bold">C</text><text transform="translate(409.71,259.60) scale(1,2.7)" font-size="2.5" fill="#ec9a9a" font-weight="bold">A</text><text transform="translate(411.48,259.60) scale(1,2.7)" font-size="2.5" fill="#ec9a9a" font-weight="bold">A</text><text x="412.50" y="238.40" font-size="2.0" fill="#555">720</text><rect x="415.10" y="239.20" width="1.82" height="5.2" fill="#2828d8"/><rect x="416.87" y="239.20" width="1.82" height="5.2" fill="#e02828"/><rect x="418.64" y="239.20" width="1.82" height="5.2" fill="#28b028"/><rect x="420.41" y="239.20" width="1.82" height="5.2" fill="#e02828"/><rect x="422.18" y="239.20" width="1.82" height="5.2" fill="#c8c020"/><rect x="423.95" y="239.20" width="1.82" height="5.2" fill="#2828d8"/><rect x="425.72" y="239.20" width="1.82" height="5.2" fill="#2828d8"/><rect x="427.49" y="239.20" width="1.82" height="5.2" fill="#28b028"/><rect x="429.26" y="239.20" width="1.82" height="5.2" fill="#e02828"/><rect x="431.03" y="239.20" width="1.82" height="5.2" fill="#c8c020"/><text x="415.30" y="247.00" font-size="2.4" fill="#666" textLength="17.2" lengthAdjust="spacingAndGlyphs">CATAGCCTAG</text><rect x="415.10" y="248.00" width="17.7" height="4.6" fill="#f2a8ac"/><rect x="416.67" y="248.00" width="0.4" height="4.6" fill="#f6c2c4"/><rect x="418.44" y="248.00" width="0.4" height="4.6" fill="#f6c2c4"/><rect x="420.21" y="248.00" width="0.4" height="4.6" fill="#f6c2c4"/><rect x="421.98" y="248.00" width="0.4" height="4.6" fill="#f6c2c4"/><rect x="423.75" y="248.00" width="0.4" height="4.6" fill="#f6c2c4"/><rect x="425.52" y="248.00" width="0.4" height="4.6" fill="#f6c2c4"/><rect x="427.29" y="248.00" width="0.4" height="4.6" fill="#f6c2c4"/><rect x="429.06" y="248.00" width="0.4" height="4.6" fill="#f6c2c4"/><rect x="430.83" y="248.00" width="0.4" height="4.6" fill="#f6c2c4"/><text transform="translate(415.15,259.60) scale(1,2.7)" font-size="2.5" fill="#9a9aee" font-weight="bold">C</text><text transform="translate(416.92,259.60) scale(1,2.7)" font-size="2.5" fill="#ec9a9a" font-weight="bold">A</text><text transform="translate(418.69,259.60) scale(1,2.7)" font-size="2.5" fill="#94dc94" font-weight="bold">T</text><text transform="translate(420.46,259.60) scale(1,2.7)" font-size="2.5" fill="#ec9a9a" font-weight="bold">A</text><text transform="translate(422.23,259.60) scale(1,2.7)" font-size="2.5" fill="#d8d890" font-weight="bold">G</text><text transform="translate(424.00,259.60) scale(1,2.7)" font-size="2.5" fill="#9a9aee" font-weight="bold">C</text><text transform="translate(425.77,259.60) scale(1,2.7)" font-size="2.5" fill="#9a9aee" font-weight="bold">C</text><text transform="translate(427.54,259.60) scale(1,2.7)" font-size="2.5" fill="#94dc94" font-weight="bold">T</text><text transform="translate(429.31,259.60) scale(1,2.7)" font-size="2.5" fill="#ec9a9a" font-weight="bold">A</text><text transform="translate(431.08,259.60) scale(1,2.7)" font-size="2.5" fill="#d8d890" font-weight="bold">G</text><rect x="434.70" y="239.20" width="1.82" height="5.2" fill="#2828d8"/><rect x="436.47" y="239.20" width="1.82" height="5.2" fill="#28b028"/><rect x="438.24" y="239.20" width="1.82" height="5.2" fill="#c8c020"/><rect x="440.01" y="239.20" width="1.82" height="5.2" fill="#c8c020"/><rect x="441.78" y="239.20" width="1.82" height="5.2" fill="#e02828"/><rect x="443.55" y="239.20" width="1.82" height="5.2" fill="#2828d8"/><rect x="445.32" y="239.20" width="1.82" height="5.2" fill="#e02828"/><rect x="447.09" y="239.20" width="1.82" height="5.2" fill="#28b028"/><rect x="448.86" y="239.20" width="1.82" height="5.2" fill="#e02828"/><rect x="450.63" y="239.20" width="1.82" height="5.2" fill="#28b028"/><text x="434.90" y="247.00" font-size="2.4" fill="#666" textLength="17.2" lengthAdjust="spacingAndGlyphs">CTGGACATAT</text><rect x="434.70" y="248.00" width="17.7" height="4.6" fill="#f2a8ac"/><rect x="436.27" y="248.00" width="0.4" height="4.6" fill="#f6c2c4"/><rect x="438.04" y="248.00" width="0.4" height="4.6" fill="#f6c2c4"/><rect x="439.81" y="248.00" width="0.4" height="4.6" fill="#f6c2c4"/><rect x="441.58" y="248.00" width="0.4" height="4.6" fill="#f6c2c4"/><rect x="443.35" y="248.00" width="0.4" height="4.6" fill="#f6c2c4"/><rect x="445.12" y="248.00" width="0.4" height="4.6" fill="#f6c2c4"/><rect x="446.89" y="248.00" width="0.4" height="4.6" fill="#f6c2c4"/><rect x="448.66" y="248.00" width="0.4" height="4.6" fill="#f6c2c4"/><rect x="450.43" y="248.00" width="0.4" height="4.6" fill="#f6c2c4"/><text transform="translate(434.75,259.60) scale(1,2.7)" font-size="2.5" fill="#9a9aee" font-weight="bold">C</text><text transform="translate(436.52,259.60) scale(1,2.7)" font-size="2.5" fill="#94dc94" font-weight="bold">T</text><text transform="translate(438.29,259.60) scale(1,2.7)" font-size="2.5" fill="#d8d890" font-weight="bold">G</text><text transform="translate(440.06,259.60) scale(1,2.7)" font-size="2.5" fill="#d8d890" font-weight="bold">G</text><text transform="translate(441.83,259.60) scale(1,2.7)" font-size="2.5" fill="#ec9a9a" font-weight="bold">A</text><text transform="translate(443.60,259.60) scale(1,2.7)" font-size="2.5" fill="#9a9aee" font-weight="bold">C</text><text transform="translate(445.37,259.60) scale(1,2.7)" font-size="2.5" fill="#ec9a9a" font-weight="bold">A</text><text transform="translate(447.14,259.60) scale(1,2.7)" font-size="2.5" fill="#94dc94" font-weight="bold">T</text><text transform="translate(448.91,259.60) scale(1,2.7)" font-size="2.5" fill="#ec9a9a" font-weight="bold">A</text><text transform="translate(450.68,259.60) scale(1,2.7)" font-size="2.5" fill="#94dc94" font-weight="bold">T</text><text x="451.70" y="238.40" font-size="2.0" fill="#555">760</text><rect x="454.30" y="239.20" width="1.82" height="5.2" fill="#28b028"/><rect x="456.07" y="239.20" width="1.82" height="5.2" fill="#2828d8"/><rect x="457.84" y="239.20" width="1.82" height="5.2" fill="#e02828"/><rect x="459.61" y="239.20" width="1.82" height="5.2" fill="#2828d8"/><rect x="461.38" y="239.20" width="1.82" height="5.2" fill="#28b028"/><rect x="463.15" y="239.20" width="1.82" height="5.2" fill="#e02828"/><rect x="464.92" y="239.20" width="1.82" height="5.2" fill="#e02828"/><rect x="466.69" y="239.20" width="1.82" height="5.2" fill="#e02828"/><rect x="468.46" y="239.20" width="1.82" height="5.2" fill="#2828d8"/><rect x="470.23" y="239.20" width="1.82" height="5.2" fill="#2828d8"/><text x="454.50" y="247.00" font-size="2.4" fill="#666" textLength="17.2" lengthAdjust="spacingAndGlyphs">TCACTAAACC</text><rect x="454.30" y="248.00" width="17.7" height="4.6" fill="#f2a8ac"/><rect x="455.87" y="248.00" width="0.4" height="4.6" fill="#f6c2c4"/><rect x="457.64" y="248.00" width="0.4" height="4.6" fill="#f6c2c4"/><rect x="459.41" y="248.00" width="0.4" height="4.6" fill="#f6c2c4"/><rect x="461.18" y="248.00" width="0.4" height="4.6" fill="#f6c2c4"/><rect x="462.95" y="248.00" width="0.4" height="4.6" fill="#f6c2c4"/><rect x="464.72" y="248.00" width="0.4" height="4.6" fill="#f6c2c4"/><rect x="466.49" y="248.00" width="0.4" height="4.6" fill="#f6c2c4"/><rect x="468.26" y="248.00" width="0.4" height="4.6" fill="#f6c2c4"/><rect x="470.03" y="248.00" width="0.4" height="4.6" fill="#f6c2c4"/><text transform="translate(454.35,259.60) scale(1,2.7)" font-size="2.5" fill="#94dc94" font-weight="bold">T</text><text transform="translate(456.12,259.60) scale(1,2.7)" font-size="2.5" fill="#9a9aee" font-weight="bold">C</text><text transform="translate(457.89,259.60) scale(1,2.7)" font-size="2.5" fill="#ec9a9a" font-weight="bold">A</text><text transform="translate(459.66,259.60) scale(1,2.7)" font-size="2.5" fill="#9a9aee" font-weight="bold">C</text><text transform="translate(461.43,259.60) scale(1,2.7)" font-size="2.5" fill="#94dc94" font-weight="bold">T</text><text transform="translate(463.20,259.60) scale(1,2.7)" font-size="2.5" fill="#ec9a9a" font-weight="bold">A</text><text transform="translate(464.97,259.60) scale(1,2.7)" font-size="2.5" fill="#ec9a9a" font-weight="bold">A</text><text transform="translate(466.74,259.60) scale(1,2.7)" font-size="2.5" fill="#ec9a9a" font-weight="bold">A</text><text transform="translate(468.51,259.60) scale(1,2.7)" font-size="2.5" fill="#9a9aee" font-weight="bold">C</text><text transform="translate(470.28,259.60) scale(1,2.7)" font-size="2.5" fill="#9a9aee" font-weight="bold">C</text><rect x="473.90" y="239.20" width="1.82" height="5.2" fill="#c8c020"/><rect x="475.67" y="239.20" width="1.82" height="5.2" fill="#e02828"/><rect x="477.44" y="239.20" width="1.82" height="5.2" fill="#e02828"/><rect x="479.21" y="239.20" width="1.82" height="5.2" fill="#2828d8"/><rect x="480.98" y="239.20" width="1.82" height="5.2" fill="#e02828"/><rect x="482.75" y="239.20" width="1.82" height="5.2" fill="#e02828"/><rect x="484.52" y="239.20" width="1.82" height="5.2" fill="#28b028"/><rect x="486.29" y="239.20" width="1.82" height="5.2" fill="#2828d8"/><rect x="488.06" y="239.20" width="1.82" height="5.2" fill="#28b028"/><rect x="489.83" y="239.20" width="1.82" height="5.2" fill="#e02828"/><text x="474.10" y="247.00" font-size="2.4" fill="#666" textLength="17.2" lengthAdjust="spacingAndGlyphs">GAACAATCTA</text><rect x="473.90" y="248.00" width="17.7" height="4.6" fill="#f2a8ac"/><rect x="475.47" y="248.00" width="0.4" height="4.6" fill="#f6c2c4"/><rect x="477.24" y="248.00" width="0.4" height="4.6" fill="#f6c2c4"/><rect x="479.01" y="248.00" width="0.4" height="4.6" fill="#f6c2c4"/><rect x="480.78" y="248.00" width="0.4" height="4.6" fill="#f6c2c4"/><rect x="482.55" y="248.00" width="0.4" height="4.6" fill="#f6c2c4"/><rect x="484.32" y="248.00" width="0.4" height="4.6" fill="#f6c2c4"/><rect x="486.09" y="248.00" width="0.4" height="4.6" fill="#f6c2c4"/><rect x="487.86" y="248.00" width="0.4" height="4.6" fill="#f6c2c4"/><rect x="489.63" y="248.00" width="0.4" height="4.6" fill="#f6c2c4"/><text transform="translate(473.95,259.60) scale(1,2.7)" font-size="2.5" fill="#d8d890" font-weight="bold">G</text><text transform="translate(475.72,259.60) scale(1,2.7)" font-size="2.5" fill="#ec9a9a" font-weight="bold">A</text><text transform="translate(477.49,259.60) scale(1,2.7)" font-size="2.5" fill="#ec9a9a" font-weight="bold">A</text><text transform="translate(479.26,259.60) scale(1,2.7)" font-size="2.5" fill="#9a9aee" font-weight="bold">C</text><text transform="translate(481.03,259.60) scale(1,2.7)" font-size="2.5" fill="#ec9a9a" font-weight="bold">A</text><text transform="translate(482.80,259.60) scale(1,2.7)" font-size="2.5" fill="#ec9a9a" font-weight="bold">A</text><text transform="translate(484.57,259.60) scale(1,2.7)" font-size="2.5" fill="#94dc94" font-weight="bold">T</text><text transform="translate(486.34,259.60) scale(1,2.7)" font-size="2.5" fill="#9a9aee" font-weight="bold">C</text><text transform="translate(488.11,259.60) scale(1,2.7)" font-size="2.5" fill="#94dc94" font-weight="bold">T</text><text transform="translate(489.88,259.60) scale(1,2.7)" font-size="2.5" fill="#ec9a9a" font-weight="bold">A</text><text x="490.90" y="238.40" font-size="2.0" fill="#555">800</text><rect x="493.50" y="239.20" width="1.82" height="5.2" fill="#28b028"/><rect x="495.27" y="239.20" width="1.82" height="5.2" fill="#2828d8"/><rect x="497.04" y="239.20" width="1.82" height="5.2" fill="#e02828"/><rect x="498.81" y="239.20" width="1.82" height="5.2" fill="#2828d8"/><rect x="500.58" y="239.20" width="1.82" height="5.2" fill="#2828d8"/><rect x="502.35" y="239.20" width="1.82" height="5.2" fill="#e02828"/><rect x="504.12" y="239.20" width="1.82" height="5.2" fill="#e02828"/><rect x="505.89" y="239.20" width="1.82" height="5.2" fill="#c8c020"/><rect x="507.66" y="239.20" width="1.82" height="5.2" fill="#2828d8"/><rect x="509.43" y="239.20" width="1.82" height="5.2" fill="#c8c020"/><text x="493.70" y="247.00" font-size="2.4" fill="#666" textLength="17.2" lengthAdjust="spacingAndGlyphs">TCACCAAGCG</text><rect x="493.50" y="248.00" width="17.7" height="4.6" fill="#f2a8ac"/><rect x="495.07" y="248.00" width="0.4" height="4.6" fill="#f6c2c4"/><rect x="496.84" y="248.00" width="0.4" height="4.6" fill="#f6c2c4"/><rect x="498.61" y="248.00" width="0.4" height="4.6" fill="#f6c2c4"/><rect x="500.38" y="248.00" width="0.4" height="4.6" fill="#f6c2c4"/><rect x="502.15" y="248.00" width="0.4" height="4.6" fill="#f6c2c4"/><rect x="503.92" y="248.00" width="0.4" height="4.6" fill="#f6c2c4"/><rect x="505.69" y="248.00" width="0.4" height="4.6" fill="#f6c2c4"/><rect x="507.46" y="248.00" width="0.4" height="4.6" fill="#f6c2c4"/><rect x="509.23" y="248.00" width="0.4" height="4.6" fill="#f6c2c4"/><text transform="translate(493.55,259.60) scale(1,2.7)" font-size="2.5" fill="#94dc94" font-weight="bold">T</text><text transform="translate(495.32,259.60) scale(1,2.7)" font-size="2.5" fill="#9a9aee" font-weight="bold">C</text><text transform="translate(497.09,259.60) scale(1,2.7)" font-size="2.5" fill="#ec9a9a" font-weight="bold">A</text><text transform="translate(498.86,259.60) scale(1,2.7)" font-size="2.5" fill="#9a9aee" font-weight="bold">C</text><text transform="translate(500.63,259.60) scale(1,2.7)" font-size="2.5" fill="#9a9aee" font-weight="bold">C</text><text transform="translate(502.40,259.60) scale(1,2.7)" font-size="2.5" fill="#ec9a9a" font-weight="bold">A</text><text transform="translate(504.17,259.60) scale(1,2.7)" font-size="2.5" fill="#ec9a9a" font-weight="bold">A</text><text transform="translate(505.94,259.60) scale(1,2.7)" font-size="2.5" fill="#d8d890" font-weight="bold">G</text><text transform="translate(507.71,259.60) scale(1,2.7)" font-size="2.5" fill="#9a9aee" font-weight="bold">C</text><text transform="translate(509.48,259.60) scale(1,2.7)" font-size="2.5" fill="#d8d890" font-weight="bold">G</text><rect x="513.10" y="239.20" width="1.82" height="5.2" fill="#e02828"/><rect x="514.87" y="239.20" width="1.82" height="5.2" fill="#e02828"/><rect x="516.64" y="239.20" width="1.82" height="5.2" fill="#28b028"/><rect x="518.41" y="239.20" width="1.82" height="5.2" fill="#2828d8"/><rect x="520.18" y="239.20" width="1.82" height="5.2" fill="#2828d8"/><rect x="521.95" y="239.20" width="1.82" height="5.2" fill="#e02828"/><rect x="523.72" y="239.20" width="1.82" height="5.2" fill="#c8c020"/><rect x="525.49" y="239.20" width="1.82" height="5.2" fill="#e02828"/><rect x="527.26" y="239.20" width="1.82" height="5.2" fill="#c8c020"/><rect x="529.03" y="239.20" width="1.82" height="5.2" fill="#e02828"/><text x="513.30" y="247.00" font-size="2.4" fill="#666" textLength="17.2" lengthAdjust="spacingAndGlyphs">AATCCAGAGA</text><rect x="513.10" y="248.00" width="17.7" height="4.6" fill="#f2a8ac"/><rect x="514.67" y="248.00" width="0.4" height="4.6" fill="#f6c2c4"/><rect x="516.44" y="248.00" width="0.4" height="4.6" fill="#f6c2c4"/><rect x="518.21" y="248.00" width="0.4" height="4.6" fill="#f6c2c4"/><rect x="519.98" y="248.00" width="0.4" height="4.6" fill="#f6c2c4"/><rect x="521.75" y="248.00" width="0.4" height="4.6" fill="#f6c2c4"/><rect x="523.52" y="248.00" width="0.4" height="4.6" fill="#f6c2c4"/><rect x="525.29" y="248.00" width="0.4" height="4.6" fill="#f6c2c4"/><rect x="527.06" y="248.00" width="0.4" height="4.6" fill="#f6c2c4"/><rect x="528.83" y="248.00" width="0.4" height="4.6" fill="#f6c2c4"/><text transform="translate(513.15,259.60) scale(1,2.7)" font-size="2.5" fill="#ec9a9a" font-weight="bold">A</text><text transform="translate(514.92,259.60) scale(1,2.7)" font-size="2.5" fill="#ec9a9a" font-weight="bold">A</text><text transform="translate(516.69,259.60) scale(1,2.7)" font-size="2.5" fill="#94dc94" font-weight="bold">T</text><text transform="translate(518.46,259.60) scale(1,2.7)" font-size="2.5" fill="#9a9aee" font-weight="bold">C</text><text transform="translate(520.23,259.60) scale(1,2.7)" font-size="2.5" fill="#9a9aee" font-weight="bold">C</text><text transform="translate(522.00,259.60) scale(1,2.7)" font-size="2.5" fill="#ec9a9a" font-weight="bold">A</text><text transform="translate(523.77,259.60) scale(1,2.7)" font-size="2.5" fill="#d8d890" font-weight="bold">G</text><text transform="translate(525.54,259.60) scale(1,2.7)" font-size="2.5" fill="#ec9a9a" font-weight="bold">A</text><text transform="translate(527.31,259.60) scale(1,2.7)" font-size="2.5" fill="#d8d890" font-weight="bold">G</text><text transform="translate(529.08,259.60) scale(1,2.7)" font-size="2.5" fill="#ec9a9a" font-weight="bold">A</text><text x="530.10" y="238.40" font-size="2.0" fill="#555">840</text>
<text x="373.70" y="265.90" font-size="2.3" fill="#222"   text-anchor="end" text-rendering="geometricPrecision" textLength="21.5" lengthAdjust="spacingAndGlyphs">AAV9_hEPO_Genome</text>
<text x="373.70" y="268.70" font-size="2.3" fill="#222"   text-anchor="end" text-rendering="geometricPrecision" textLength="40.2" lengthAdjust="spacingAndGlyphs">AAV9_hEPO_DBS_pooled_DNA_selection</text>
<text x="373.70" y="271.90" font-size="2.2" fill="#333"   text-anchor="end" text-rendering="geometricPrecision" >Consensus</text>
<text x="373.70" y="273.70" font-size="1.6" fill="#666"   text-anchor="end" text-rendering="geometricPrecision" >100%</text>
<text x="373.70" y="276.70" font-size="2.2" fill="#333"   text-anchor="end" text-rendering="geometricPrecision" >Conservation</text>
<text x="373.70" y="279.10" font-size="1.6" fill="#666"   text-anchor="end" text-rendering="geometricPrecision" >0%</text>
<text x="373.70" y="282.50" font-size="2.2" fill="#333"   text-anchor="end" text-rendering="geometricPrecision" >Sequence logo</text>
<text x="373.70" y="284.30" font-size="1.6" fill="#666"   text-anchor="end" text-rendering="geometricPrecision" >2.0bits</text>
<text x="537.40" y="265.90" font-size="2.4" fill="#333"   text-anchor="end" text-rendering="geometricPrecision" >1190</text>
<text x="537.40" y="268.60" font-size="2.4" fill="#333"   text-anchor="end" text-rendering="geometricPrecision" >1190</text>
<rect x="375.90" y="263.90" width="1.82" height="5.2" fill="#c8c020"/><rect x="377.67" y="263.90" width="1.82" height="5.2" fill="#28b028"/><rect x="379.44" y="263.90" width="1.82" height="5.2" fill="#2828d8"/><rect x="381.21" y="263.90" width="1.82" height="5.2" fill="#28b028"/><rect x="382.98" y="263.90" width="1.82" height="5.2" fill="#2828d8"/><rect x="384.75" y="263.90" width="1.82" height="5.2" fill="#e02828"/><rect x="386.52" y="263.90" width="1.82" height="5.2" fill="#28b028"/><rect x="388.29" y="263.90" width="1.82" height="5.2" fill="#c8c020"/><rect x="390.06" y="263.90" width="1.82" height="5.2" fill="#e02828"/><rect x="391.83" y="263.90" width="1.82" height="5.2" fill="#28b028"/><text x="376.10" y="271.70" font-size="2.4" fill="#666" textLength="17.2" lengthAdjust="spacingAndGlyphs">GTCTCATGAT</text><rect x="375.90" y="272.70" width="17.7" height="4.6" fill="#f2a8ac"/><rect x="377.47" y="272.70" width="0.4" height="4.6" fill="#f6c2c4"/><rect x="379.24" y="272.70" width="0.4" height="4.6" fill="#f6c2c4"/><rect x="381.01" y="272.70" width="0.4" height="4.6" fill="#f6c2c4"/><rect x="382.78" y="272.70" width="0.4" height="4.6" fill="#f6c2c4"/><rect x="384.55" y="272.70" width="0.4" height="4.6" fill="#f6c2c4"/><rect x="386.32" y="272.70" width="0.4" height="4.6" fill="#f6c2c4"/><rect x="388.09" y="272.70" width="0.4" height="4.6" fill="#f6c2c4"/><rect x="389.86" y="272.70" width="0.4" height="4.6" fill="#f6c2c4"/><rect x="391.63" y="272.70" width="0.4" height="4.6" fill="#f6c2c4"/><text transform="translate(375.95,284.30) scale(1,2.7)" font-size="2.5" fill="#d8d890" font-weight="bold">G</text><text transform="translate(377.72,284.30) scale(1,2.7)" font-size="2.5" fill="#94dc94" font-weight="bold">T</text><text transform="translate(379.49,284.30) scale(1,2.7)" font-size="2.5" fill="#9a9aee" font-weight="bold">C</text><text transform="translate(381.26,284.30) scale(1,2.7)" font-size="2.5" fill="#94dc94" font-weight="bold">T</text><text transform="translate(383.03,284.30) scale(1,2.7)" font-size="2.5" fill="#9a9aee" font-weight="bold">C</text><text transform="translate(384.80,284.30) scale(1,2.7)" font-size="2.5" fill="#ec9a9a" font-weight="bold">A</text><text transform="translate(386.57,284.30) scale(1,2.7)" font-size="2.5" fill="#94dc94" font-weight="bold">T</text><text transform="translate(388.34,284.30) scale(1,2.7)" font-size="2.5" fill="#d8d890" font-weight="bold">G</text><text transform="translate(390.11,284.30) scale(1,2.7)" font-size="2.5" fill="#ec9a9a" font-weight="bold">A</text><text transform="translate(391.88,284.30) scale(1,2.7)" font-size="2.5" fill="#94dc94" font-weight="bold">T</text><rect x="395.50" y="263.90" width="1.82" height="5.2" fill="#e02828"/><rect x="397.27" y="263.90" width="1.82" height="5.2" fill="#2828d8"/><rect x="399.04" y="263.90" width="1.82" height="5.2" fill="#2828d8"/><rect x="400.81" y="263.90" width="1.82" height="5.2" fill="#28b028"/><rect x="402.58" y="263.90" width="1.82" height="5.2" fill="#c8c020"/><rect x="404.35" y="263.90" width="1.82" height="5.2" fill="#c8c020"/><rect x="406.12" y="263.90" width="1.82" height="5.2" fill="#e02828"/><rect x="407.89" y="263.90" width="1.82" height="5.2" fill="#c8c020"/><rect x="409.66" y="263.90" width="1.82" height="5.2" fill="#c8c020"/><rect x="411.43" y="263.90" width="1.82" height="5.2" fill="#e02828"/><text x="395.70" y="271.70" font-size="2.4" fill="#666" textLength="17.2" lengthAdjust="spacingAndGlyphs">ACCTGGAGGA</text><rect x="395.50" y="272.70" width="17.7" height="4.6" fill="#f2a8ac"/><rect x="397.07" y="272.70" width="0.4" height="4.6" fill="#f6c2c4"/><rect x="398.84" y="272.70" width="0.4" height="4.6" fill="#f6c2c4"/><rect x="400.61" y="272.70" width="0.4" height="4.6" fill="#f6c2c4"/><rect x="402.38" y="272.70" width="0.4" height="4.6" fill="#f6c2c4"/><rect x="404.15" y="272.70" width="0.4" height="4.6" fill="#f6c2c4"/><rect x="405.92" y="272.70" width="0.4" height="4.6" fill="#f6c2c4"/><rect x="407.69" y="272.70" width="0.4" height="4.6" fill="#f6c2c4"/><rect x="409.46" y="272.70" width="0.4" height="4.6" fill="#f6c2c4"/><rect x="411.23" y="272.70" width="0.4" height="4.6" fill="#f6c2c4"/><text transform="translate(395.55,284.30) scale(1,2.7)" font-size="2.5" fill="#ec9a9a" font-weight="bold">A</text><text transform="translate(397.32,284.30) scale(1,2.7)" font-size="2.5" fill="#9a9aee" font-weight="bold">C</text><text transform="translate(399.09,284.30) scale(1,2.7)" font-size="2.5" fill="#9a9aee" font-weight="bold">C</text><text transform="translate(400.86,284.30) scale(1,2.7)" font-size="2.5" fill="#94dc94" font-weight="bold">T</text><text transform="translate(402.63,284.30) scale(1,2.7)" font-size="2.5" fill="#d8d890" font-weight="bold">G</text><text transform="translate(404.40,284.30) scale(1,2.7)" font-size="2.5" fill="#d8d890" font-weight="bold">G</text><text transform="translate(406.17,284.30) scale(1,2.7)" font-size="2.5" fill="#ec9a9a" font-weight="bold">A</text><text transform="translate(407.94,284.30) scale(1,2.7)" font-size="2.5" fill="#d8d890" font-weight="bold">G</text><text transform="translate(409.71,284.30) scale(1,2.7)" font-size="2.5" fill="#d8d890" font-weight="bold">G</text><text transform="translate(411.48,284.30) scale(1,2.7)" font-size="2.5" fill="#ec9a9a" font-weight="bold">A</text><text x="412.50" y="263.10" font-size="2.0" fill="#555">880</text><rect x="415.10" y="263.90" width="1.82" height="5.2" fill="#e02828"/><rect x="416.87" y="263.90" width="1.82" height="5.2" fill="#e02828"/><rect x="418.64" y="263.90" width="1.82" height="5.2" fill="#28b028"/><rect x="420.41" y="263.90" width="1.82" height="5.2" fill="#28b028"/><rect x="422.18" y="263.90" width="1.82" height="5.2" fill="#28b028"/><rect x="423.95" y="263.90" width="1.82" height="5.2" fill="#c8c020"/><rect x="425.72" y="263.90" width="1.82" height="5.2" fill="#2828d8"/><rect x="427.49" y="263.90" width="1.82" height="5.2" fill="#e02828"/><rect x="429.26" y="263.90" width="1.82" height="5.2" fill="#28b028"/><rect x="431.03" y="263.90" width="1.82" height="5.2" fill="#2828d8"/><text x="415.30" y="271.70" font-size="2.4" fill="#666" textLength="17.2" lengthAdjust="spacingAndGlyphs">AATTTGCATC</text><rect x="415.10" y="272.70" width="17.7" height="4.6" fill="#f2a8ac"/><rect x="416.67" y="272.70" width="0.4" height="4.6" fill="#f6c2c4"/><rect x="418.44" y="272.70" width="0.4" height="4.6" fill="#f6c2c4"/><rect x="420.21" y="272.70" width="0.4" height="4.6" fill="#f6c2c4"/><rect x="421.98" y="272.70" width="0.4" height="4.6" fill="#f6c2c4"/><rect x="423.75" y="272.70" width="0.4" height="4.6" fill="#f6c2c4"/><rect x="425.52" y="272.70" width="0.4" height="4.6" fill="#f6c2c4"/><rect x="427.29" y="272.70" width="0.4" height="4.6" fill="#f6c2c4"/><rect x="429.06" y="272.70" width="0.4" height="4.6" fill="#f6c2c4"/><rect x="430.83" y="272.70" width="0.4" height="4.6" fill="#f6c2c4"/><text transform="translate(415.15,284.30) scale(1,2.7)" font-size="2.5" fill="#ec9a9a" font-weight="bold">A</text><text transform="translate(416.92,284.30) scale(1,2.7)" font-size="2.5" fill="#ec9a9a" font-weight="bold">A</text><text transform="translate(418.69,284.30) scale(1,2.7)" font-size="2.5" fill="#94dc94" font-weight="bold">T</text><text transform="translate(420.46,284.30) scale(1,2.7)" font-size="2.5" fill="#94dc94" font-weight="bold">T</text><text transform="translate(422.23,284.30) scale(1,2.7)" font-size="2.5" fill="#94dc94" font-weight="bold">T</text><text transform="translate(424.00,284.30) scale(1,2.7)" font-size="2.5" fill="#d8d890" font-weight="bold">G</text><text transform="translate(425.77,284.30) scale(1,2.7)" font-size="2.5" fill="#9a9aee" font-weight="bold">C</text><text transform="translate(427.54,284.30) scale(1,2.7)" font-size="2.5" fill="#ec9a9a" font-weight="bold">A</text><text transform="translate(429.31,284.30) scale(1,2.7)" font-size="2.5" fill="#94dc94" font-weight="bold">T</text><text transform="translate(431.08,284.30) scale(1,2.7)" font-size="2.5" fill="#9a9aee" font-weight="bold">C</text><rect x="434.70" y="263.90" width="1.82" height="5.2" fill="#e02828"/><rect x="436.47" y="263.90" width="1.82" height="5.2" fill="#28b028"/><rect x="438.24" y="263.90" width="1.82" height="5.2" fill="#c8c020"/><rect x="440.01" y="263.90" width="1.82" height="5.2" fill="#c8c020"/><rect x="441.78" y="263.90" width="1.82" height="5.2" fill="#2828d8"/><rect x="443.55" y="263.90" width="1.82" height="5.2" fill="#c8c020"/><rect x="445.32" y="263.90" width="1.82" height="5.2" fill="#2828d8"/><rect x="447.09" y="263.90" width="1.82" height="5.2" fill="#c8c020"/><rect x="448.86" y="263.90" width="1.82" height="5.2" fill="#e02828"/><rect x="450.63" y="263.90" width="1.82" height="5.2" fill="#e02828"/><text x="434.90" y="271.70" font-size="2.4" fill="#666" textLength="17.2" lengthAdjust="spacingAndGlyphs">ATGGCGCGAA</text><rect x="434.70" y="272.70" width="17.7" height="4.6" fill="#f2a8ac"/><rect x="436.27" y="272.70" width="0.4" height="4.6" fill="#f6c2c4"/><rect x="438.04" y="272.70" width="0.4" height="4.6" fill="#f6c2c4"/><rect x="439.81" y="272.70" width="0.4" height="4.6" fill="#f6c2c4"/><rect x="441.58" y="272.70" width="0.4" height="4.6" fill="#f6c2c4"/><rect x="443.35" y="272.70" width="0.4" height="4.6" fill="#f6c2c4"/><rect x="445.12" y="272.70" width="0.4" height="4.6" fill="#f6c2c4"/><rect x="446.89" y="272.70" width="0.4" height="4.6" fill="#f6c2c4"/><rect x="448.66" y="272.70" width="0.4" height="4.6" fill="#f6c2c4"/><rect x="450.43" y="272.70" width="0.4" height="4.6" fill="#f6c2c4"/><text transform="translate(434.75,284.30) scale(1,2.7)" font-size="2.5" fill="#ec9a9a" font-weight="bold">A</text><text transform="translate(436.52,284.30) scale(1,2.7)" font-size="2.5" fill="#94dc94" font-weight="bold">T</text><text transform="translate(438.29,284.30) scale(1,2.7)" font-size="2.5" fill="#d8d890" font-weight="bold">G</text><text transform="translate(440.06,284.30) scale(1,2.7)" font-size="2.5" fill="#d8d890" font-weight="bold">G</text><text transform="translate(441.83,284.30) scale(1,2.7)" font-size="2.5" fill="#9a9aee" font-weight="bold">C</text><text transform="translate(443.60,284.30) scale(1,2.7)" font-size="2.5" fill="#d8d890" font-weight="bold">G</text><text transform="translate(445.37,284.30) scale(1,2.7)" font-size="2.5" fill="#9a9aee" font-weight="bold">C</text><text transform="translate(447.14,284.30) scale(1,2.7)" font-size="2.5" fill="#d8d890" font-weight="bold">G</text><text transform="translate(448.91,284.30) scale(1,2.7)" font-size="2.5" fill="#ec9a9a" font-weight="bold">A</text><text transform="translate(450.68,284.30) scale(1,2.7)" font-size="2.5" fill="#ec9a9a" font-weight="bold">A</text><text x="451.70" y="263.10" font-size="2.0" fill="#555">920</text><rect x="454.30" y="263.90" width="1.82" height="5.2" fill="#2828d8"/><rect x="456.07" y="263.90" width="1.82" height="5.2" fill="#c8c020"/><rect x="457.84" y="263.90" width="1.82" height="5.2" fill="#2828d8"/><rect x="459.61" y="263.90" width="1.82" height="5.2" fill="#e02828"/><rect x="461.38" y="263.90" width="1.82" height="5.2" fill="#2828d8"/><rect x="463.15" y="263.90" width="1.82" height="5.2" fill="#e02828"/><rect x="464.92" y="263.90" width="1.82" height="5.2" fill="#e02828"/><rect x="466.69" y="263.90" width="1.82" height="5.2" fill="#e02828"/><rect x="468.46" y="263.90" width="1.82" height="5.2" fill="#28b028"/><rect x="470.23" y="263.90" width="1.82" height="5.2" fill="#2828d8"/><text x="454.50" y="271.70" font-size="2.4" fill="#666" textLength="17.2" lengthAdjust="spacingAndGlyphs">CGCACAAATC</text><rect x="454.30" y="272.70" width="17.7" height="4.6" fill="#f2a8ac"/><rect x="455.87" y="272.70" width="0.4" height="4.6" fill="#f6c2c4"/><rect x="457.64" y="272.70" width="0.4" height="4.6" fill="#f6c2c4"/><rect x="459.41" y="272.70" width="0.4" height="4.6" fill="#f6c2c4"/><rect x="461.18" y="272.70" width="0.4" height="4.6" fill="#f6c2c4"/><rect x="462.95" y="272.70" width="0.4" height="4.6" fill="#f6c2c4"/><rect x="464.72" y="272.70" width="0.4" height="4.6" fill="#f6c2c4"/><rect x="466.49" y="272.70" width="0.4" height="4.6" fill="#f6c2c4"/><rect x="468.26" y="272.70" width="0.4" height="4.6" fill="#f6c2c4"/><rect x="470.03" y="272.70" width="0.4" height="4.6" fill="#f6c2c4"/><text transform="translate(454.35,284.30) scale(1,2.7)" font-size="2.5" fill="#9a9aee" font-weight="bold">C</text><text transform="translate(456.12,284.30) scale(1,2.7)" font-size="2.5" fill="#d8d890" font-weight="bold">G</text><text transform="translate(457.89,284.30) scale(1,2.7)" font-size="2.5" fill="#9a9aee" font-weight="bold">C</text><text transform="translate(459.66,284.30) scale(1,2.7)" font-size="2.5" fill="#ec9a9a" font-weight="bold">A</text><text transform="translate(461.43,284.30) scale(1,2.7)" font-size="2.5" fill="#9a9aee" font-weight="bold">C</text><text transform="translate(463.20,284.30) scale(1,2.7)" font-size="2.5" fill="#ec9a9a" font-weight="bold">A</text><text transform="translate(464.97,284.30) scale(1,2.7)" font-size="2.5" fill="#ec9a9a" font-weight="bold">A</text><text transform="translate(466.74,284.30) scale(1,2.7)" font-size="2.5" fill="#ec9a9a" font-weight="bold">A</text><text transform="translate(468.51,284.30) scale(1,2.7)" font-size="2.5" fill="#94dc94" font-weight="bold">T</text><text transform="translate(470.28,284.30) scale(1,2.7)" font-size="2.5" fill="#9a9aee" font-weight="bold">C</text><rect x="473.90" y="263.90" width="1.82" height="5.2" fill="#28b028"/><rect x="475.67" y="263.90" width="1.82" height="5.2" fill="#c8c020"/><rect x="477.44" y="263.90" width="1.82" height="5.2" fill="#e02828"/><rect x="479.21" y="263.90" width="1.82" height="5.2" fill="#c8c020"/><rect x="480.98" y="263.90" width="1.82" height="5.2" fill="#c8c020"/><rect x="482.75" y="263.90" width="1.82" height="5.2" fill="#2828d8"/><rect x="484.52" y="263.90" width="1.82" height="5.2" fill="#28b028"/><rect x="486.29" y="263.90" width="1.82" height="5.2" fill="#c8c020"/><rect x="488.06" y="263.90" width="1.82" height="5.2" fill="#2828d8"/><rect x="489.83" y="263.90" width="1.82" height="5.2" fill="#e02828"/><text x="474.10" y="271.70" font-size="2.4" fill="#666" textLength="17.2" lengthAdjust="spacingAndGlyphs">TGAGGCTGCA</text><rect x="473.90" y="272.70" width="17.7" height="4.6" fill="#f2a8ac"/><rect x="475.47" y="272.70" width="0.4" height="4.6" fill="#f6c2c4"/><rect x="477.24" y="272.70" width="0.4" height="4.6" fill="#f6c2c4"/><rect x="479.01" y="272.70" width="0.4" height="4.6" fill="#f6c2c4"/><rect x="480.78" y="272.70" width="0.4" height="4.6" fill="#f6c2c4"/><rect x="482.55" y="272.70" width="0.4" height="4.6" fill="#f6c2c4"/><rect x="484.32" y="272.70" width="0.4" height="4.6" fill="#f6c2c4"/><rect x="486.09" y="272.70" width="0.4" height="4.6" fill="#f6c2c4"/><rect x="487.86" y="272.70" width="0.4" height="4.6" fill="#f6c2c4"/><rect x="489.63" y="272.70" width="0.4" height="4.6" fill="#f6c2c4"/><text transform="translate(473.95,284.30) scale(1,2.7)" font-size="2.5" fill="#94dc94" font-weight="bold">T</text><text transform="translate(475.72,284.30) scale(1,2.7)" font-size="2.5" fill="#d8d890" font-weight="bold">G</text><text transform="translate(477.49,284.30) scale(1,2.7)" font-size="2.5" fill="#ec9a9a" font-weight="bold">A</text><text transform="translate(479.26,284.30) scale(1,2.7)" font-size="2.5" fill="#d8d890" font-weight="bold">G</text><text transform="translate(481.03,284.30) scale(1,2.7)" font-size="2.5" fill="#d8d890" font-weight="bold">G</text><text transform="translate(482.80,284.30) scale(1,2.7)" font-size="2.5" fill="#9a9aee" font-weight="bold">C</text><text transform="translate(484.57,284.30) scale(1,2.7)" font-size="2.5" fill="#94dc94" font-weight="bold">T</text><text transform="translate(486.34,284.30) scale(1,2.7)" font-size="2.5" fill="#d8d890" font-weight="bold">G</text><text transform="translate(488.11,284.30) scale(1,2.7)" font-size="2.5" fill="#9a9aee" font-weight="bold">C</text><text transform="translate(489.88,284.30) scale(1,2.7)" font-size="2.5" fill="#ec9a9a" font-weight="bold">A</text><text x="490.90" y="263.10" font-size="2.0" fill="#555">960</text><rect x="493.50" y="263.90" width="1.82" height="5.2" fill="#c8c020"/><rect x="495.27" y="263.90" width="1.82" height="5.2" fill="#e02828"/><rect x="497.04" y="263.90" width="1.82" height="5.2" fill="#e02828"/><rect x="498.81" y="263.90" width="1.82" height="5.2" fill="#28b028"/><rect x="500.58" y="263.90" width="1.82" height="5.2" fill="#28b028"/><rect x="502.35" y="263.90" width="1.82" height="5.2" fill="#2828d8"/><rect x="504.12" y="263.90" width="1.82" height="5.2" fill="#28b028"/><rect x="505.89" y="263.90" width="1.82" height="5.2" fill="#2828d8"/><rect x="507.66" y="263.90" width="1.82" height="5.2" fill="#c8c020"/><rect x="509.43" y="263.90" width="1.82" height="5.2" fill="#28b028"/><text x="493.70" y="271.70" font-size="2.4" fill="#666" textLength="17.2" lengthAdjust="spacingAndGlyphs">GAATTCTCGT</text><rect x="493.50" y="272.70" width="17.7" height="4.6" fill="#f2a8ac"/><rect x="495.07" y="272.70" width="0.4" height="4.6" fill="#f6c2c4"/><rect x="496.84" y="272.70" width="0.4" height="4.6" fill="#f6c2c4"/><rect x="498.61" y="272.70" width="0.4" height="4.6" fill="#f6c2c4"/><rect x="500.38" y="272.70" width="0.4" height="4.6" fill="#f6c2c4"/><rect x="502.15" y="272.70" width="0.4" height="4.6" fill="#f6c2c4"/><rect x="503.92" y="272.70" width="0.4" height="4.6" fill="#f6c2c4"/><rect x="505.69" y="272.70" width="0.4" height="4.6" fill="#f6c2c4"/><rect x="507.46" y="272.70" width="0.4" height="4.6" fill="#f6c2c4"/><rect x="509.23" y="272.70" width="0.4" height="4.6" fill="#f6c2c4"/><text transform="translate(493.55,284.30) scale(1,2.7)" font-size="2.5" fill="#d8d890" font-weight="bold">G</text><text transform="translate(495.32,284.30) scale(1,2.7)" font-size="2.5" fill="#ec9a9a" font-weight="bold">A</text><text transform="translate(497.09,284.30) scale(1,2.7)" font-size="2.5" fill="#ec9a9a" font-weight="bold">A</text><text transform="translate(498.86,284.30) scale(1,2.7)" font-size="2.5" fill="#94dc94" font-weight="bold">T</text><text transform="translate(500.63,284.30) scale(1,2.7)" font-size="2.5" fill="#94dc94" font-weight="bold">T</text><text transform="translate(502.40,284.30) scale(1,2.7)" font-size="2.5" fill="#9a9aee" font-weight="bold">C</text><text transform="translate(504.17,284.30) scale(1,2.7)" font-size="2.5" fill="#94dc94" font-weight="bold">T</text><text transform="translate(505.94,284.30) scale(1,2.7)" font-size="2.5" fill="#9a9aee" font-weight="bold">C</text><text transform="translate(507.71,284.30) scale(1,2.7)" font-size="2.5" fill="#d8d890" font-weight="bold">G</text><text transform="translate(509.48,284.30) scale(1,2.7)" font-size="2.5" fill="#94dc94" font-weight="bold">T</text><rect x="513.10" y="263.90" width="1.82" height="5.2" fill="#c8c020"/><rect x="514.87" y="263.90" width="1.82" height="5.2" fill="#e02828"/><rect x="516.64" y="263.90" width="1.82" height="5.2" fill="#e02828"/><rect x="518.41" y="263.90" width="1.82" height="5.2" fill="#c8c020"/><rect x="520.18" y="263.90" width="1.82" height="5.2" fill="#2828d8"/><rect x="521.95" y="263.90" width="1.82" height="5.2" fill="#2828d8"/><rect x="523.72" y="263.90" width="1.82" height="5.2" fill="#e02828"/><rect x="525.49" y="263.90" width="1.82" height="5.2" fill="#2828d8"/><rect x="527.26" y="263.90" width="1.82" height="5.2" fill="#2828d8"/><rect x="529.03" y="263.90" width="1.82" height="5.2" fill="#e02828"/><text x="513.30" y="271.70" font-size="2.4" fill="#666" textLength="17.2" lengthAdjust="spacingAndGlyphs">GAAGCCACCA</text><rect x="513.10" y="272.70" width="17.7" height="4.6" fill="#f2a8ac"/><rect x="514.67" y="272.70" width="0.4" height="4.6" fill="#f6c2c4"/><rect x="516.44" y="272.70" width="0.4" height="4.6" fill="#f6c2c4"/><rect x="518.21" y="272.70" width="0.4" height="4.6" fill="#f6c2c4"/><rect x="519.98" y="272.70" width="0.4" height="4.6" fill="#f6c2c4"/><rect x="521.75" y="272.70" width="0.4" height="4.6" fill="#f6c2c4"/><rect x="523.52" y="272.70" width="0.4" height="4.6" fill="#f6c2c4"/><rect x="525.29" y="272.70" width="0.4" height="4.6" fill="#f6c2c4"/><rect x="527.06" y="272.70" width="0.4" height="4.6" fill="#f6c2c4"/><rect x="528.83" y="272.70" width="0.4" height="4.6" fill="#f6c2c4"/><text transform="translate(513.15,284.30) scale(1,2.7)" font-size="2.5" fill="#d8d890" font-weight="bold">G</text><text transform="translate(514.92,284.30) scale(1,2.7)" font-size="2.5" fill="#ec9a9a" font-weight="bold">A</text><text transform="translate(516.69,284.30) scale(1,2.7)" font-size="2.5" fill="#ec9a9a" font-weight="bold">A</text><text transform="translate(518.46,284.30) scale(1,2.7)" font-size="2.5" fill="#d8d890" font-weight="bold">G</text><text transform="translate(520.23,284.30) scale(1,2.7)" font-size="2.5" fill="#9a9aee" font-weight="bold">C</text><text transform="translate(522.00,284.30) scale(1,2.7)" font-size="2.5" fill="#9a9aee" font-weight="bold">C</text><text transform="translate(523.77,284.30) scale(1,2.7)" font-size="2.5" fill="#ec9a9a" font-weight="bold">A</text><text transform="translate(525.54,284.30) scale(1,2.7)" font-size="2.5" fill="#9a9aee" font-weight="bold">C</text><text transform="translate(527.31,284.30) scale(1,2.7)" font-size="2.5" fill="#9a9aee" font-weight="bold">C</text><text transform="translate(529.08,284.30) scale(1,2.7)" font-size="2.5" fill="#ec9a9a" font-weight="bold">A</text><text x="530.10" y="263.10" font-size="2.0" fill="#555">1000</text>
<text x="373.70" y="290.60" font-size="2.3" fill="#222"   text-anchor="end" text-rendering="geometricPrecision" textLength="21.5" lengthAdjust="spacingAndGlyphs">AAV9_hEPO_Genome</text>
<text x="373.70" y="293.40" font-size="2.3" fill="#222"   text-anchor="end" text-rendering="geometricPrecision" textLength="40.2" lengthAdjust="spacingAndGlyphs">AAV9_hEPO_DBS_pooled_DNA_selection</text>
<text x="373.70" y="296.60" font-size="2.2" fill="#333"   text-anchor="end" text-rendering="geometricPrecision" >Consensus</text>
<text x="373.70" y="298.40" font-size="1.6" fill="#666"   text-anchor="end" text-rendering="geometricPrecision" >100%</text>
<text x="373.70" y="301.40" font-size="2.2" fill="#333"   text-anchor="end" text-rendering="geometricPrecision" >Conservation</text>
<text x="373.70" y="303.80" font-size="1.6" fill="#666"   text-anchor="end" text-rendering="geometricPrecision" >0%</text>
<text x="373.70" y="307.20" font-size="2.2" fill="#333"   text-anchor="end" text-rendering="geometricPrecision" >Sequence logo</text>
<text x="373.70" y="309.00" font-size="1.6" fill="#666"   text-anchor="end" text-rendering="geometricPrecision" >2.0bits</text>
<text x="537.40" y="290.60" font-size="2.4" fill="#333"   text-anchor="end" text-rendering="geometricPrecision" >1360</text>
<text x="537.40" y="293.30" font-size="2.4" fill="#333"   text-anchor="end" text-rendering="geometricPrecision" >1360</text>
<rect x="375.90" y="288.60" width="1.82" height="5.2" fill="#2828d8"/><rect x="377.67" y="288.60" width="1.82" height="5.2" fill="#2828d8"/><rect x="379.44" y="288.60" width="1.82" height="5.2" fill="#28b028"/><rect x="381.21" y="288.60" width="1.82" height="5.2" fill="#28b028"/><rect x="382.98" y="288.60" width="1.82" height="5.2" fill="#28b028"/><rect x="384.75" y="288.60" width="1.82" height="5.2" fill="#e02828"/><rect x="386.52" y="288.60" width="1.82" height="5.2" fill="#2828d8"/><rect x="388.29" y="288.60" width="1.82" height="5.2" fill="#28b028"/><rect x="390.06" y="288.60" width="1.82" height="5.2" fill="#c8c020"/><rect x="391.83" y="288.60" width="1.82" height="5.2" fill="#e02828"/><text x="376.10" y="296.40" font-size="2.4" fill="#666" textLength="17.2" lengthAdjust="spacingAndGlyphs">CCTTTACTGA</text><rect x="375.90" y="297.40" width="17.7" height="4.6" fill="#f2a8ac"/><rect x="377.47" y="297.40" width="0.4" height="4.6" fill="#f6c2c4"/><rect x="379.24" y="297.40" width="0.4" height="4.6" fill="#f6c2c4"/><rect x="381.01" y="297.40" width="0.4" height="4.6" fill="#f6c2c4"/><rect x="382.78" y="297.40" width="0.4" height="4.6" fill="#f6c2c4"/><rect x="384.55" y="297.40" width="0.4" height="4.6" fill="#f6c2c4"/><rect x="386.32" y="297.40" width="0.4" height="4.6" fill="#f6c2c4"/><rect x="388.09" y="297.40" width="0.4" height="4.6" fill="#f6c2c4"/><rect x="389.86" y="297.40" width="0.4" height="4.6" fill="#f6c2c4"/><rect x="391.63" y="297.40" width="0.4" height="4.6" fill="#f6c2c4"/><text transform="translate(375.95,309.00) scale(1,2.7)" font-size="2.5" fill="#9a9aee" font-weight="bold">C</text><text transform="translate(377.72,309.00) scale(1,2.7)" font-size="2.5" fill="#9a9aee" font-weight="bold">C</text><text transform="translate(379.49,309.00) scale(1,2.7)" font-size="2.5" fill="#94dc94" font-weight="bold">T</text><text transform="translate(381.26,309.00) scale(1,2.7)" font-size="2.5" fill="#94dc94" font-weight="bold">T</text><text transform="translate(383.03,309.00) scale(1,2.7)" font-size="2.5" fill="#94dc94" font-weight="bold">T</text><text transform="translate(384.80,309.00) scale(1,2.7)" font-size="2.5" fill="#ec9a9a" font-weight="bold">A</text><text transform="translate(386.57,309.00) scale(1,2.7)" font-size="2.5" fill="#9a9aee" font-weight="bold">C</text><text transform="translate(388.34,309.00) scale(1,2.7)" font-size="2.5" fill="#94dc94" font-weight="bold">T</text><text transform="translate(390.11,309.00) scale(1,2.7)" font-size="2.5" fill="#d8d890" font-weight="bold">G</text><text transform="translate(391.88,309.00) scale(1,2.7)" font-size="2.5" fill="#ec9a9a" font-weight="bold">A</text><rect x="395.50" y="288.60" width="1.82" height="5.2" fill="#e02828"/><rect x="397.27" y="288.60" width="1.82" height="5.2" fill="#28b028"/><rect x="399.04" y="288.60" width="1.82" height="5.2" fill="#c8c020"/><rect x="400.81" y="288.60" width="1.82" height="5.2" fill="#e02828"/><rect x="402.58" y="288.60" width="1.82" height="5.2" fill="#c8c020"/><rect x="404.35" y="288.60" width="1.82" height="5.2" fill="#e02828"/><rect x="406.12" y="288.60" width="1.82" height="5.2" fill="#2828d8"/><rect x="407.89" y="288.60" width="1.82" height="5.2" fill="#2828d8"/><rect x="409.66" y="288.60" width="1.82" height="5.2" fill="#e02828"/><rect x="411.43" y="288.60" width="1.82" height="5.2" fill="#e02828"/><text x="395.70" y="296.40" font-size="2.4" fill="#666" textLength="17.2" lengthAdjust="spacingAndGlyphs">ATGAGACCAA</text><rect x="395.50" y="297.40" width="17.7" height="4.6" fill="#f2a8ac"/><rect x="397.07" y="297.40" width="0.4" height="4.6" fill="#f6c2c4"/><rect x="398.84" y="297.40" width="0.4" height="4.6" fill="#f6c2c4"/><rect x="400.61" y="297.40" width="0.4" height="4.6" fill="#f6c2c4"/><rect x="402.38" y="297.40" width="0.4" height="4.6" fill="#f6c2c4"/><rect x="404.15" y="297.40" width="0.4" height="4.6" fill="#f6c2c4"/><rect x="405.92" y="297.40" width="0.4" height="4.6" fill="#f6c2c4"/><rect x="407.69" y="297.40" width="0.4" height="4.6" fill="#f6c2c4"/><rect x="409.46" y="297.40" width="0.4" height="4.6" fill="#f6c2c4"/><rect x="411.23" y="297.40" width="0.4" height="4.6" fill="#f6c2c4"/><text transform="translate(395.55,309.00) scale(1,2.7)" font-size="2.5" fill="#ec9a9a" font-weight="bold">A</text><text transform="translate(397.32,309.00) scale(1,2.7)" font-size="2.5" fill="#94dc94" font-weight="bold">T</text><text transform="translate(399.09,309.00) scale(1,2.7)" font-size="2.5" fill="#d8d890" font-weight="bold">G</text><text transform="translate(400.86,309.00) scale(1,2.7)" font-size="2.5" fill="#ec9a9a" font-weight="bold">A</text><text transform="translate(402.63,309.00) scale(1,2.7)" font-size="2.5" fill="#d8d890" font-weight="bold">G</text><text transform="translate(404.40,309.00) scale(1,2.7)" font-size="2.5" fill="#ec9a9a" font-weight="bold">A</text><text transform="translate(406.17,309.00) scale(1,2.7)" font-size="2.5" fill="#9a9aee" font-weight="bold">C</text><text transform="translate(407.94,309.00) scale(1,2.7)" font-size="2.5" fill="#9a9aee" font-weight="bold">C</text><text transform="translate(409.71,309.00) scale(1,2.7)" font-size="2.5" fill="#ec9a9a" font-weight="bold">A</text><text transform="translate(411.48,309.00) scale(1,2.7)" font-size="2.5" fill="#ec9a9a" font-weight="bold">A</text><text x="412.50" y="287.80" font-size="2.0" fill="#555">1040</text><rect x="415.10" y="288.60" width="1.82" height="5.2" fill="#28b028"/><rect x="416.87" y="288.60" width="1.82" height="5.2" fill="#28b028"/><rect x="418.64" y="288.60" width="1.82" height="5.2" fill="#e02828"/><rect x="420.41" y="288.60" width="1.82" height="5.2" fill="#28b028"/><rect x="422.18" y="288.60" width="1.82" height="5.2" fill="#e02828"/><rect x="423.95" y="288.60" width="1.82" height="5.2" fill="#e02828"/><rect x="425.72" y="288.60" width="1.82" height="5.2" fill="#c8c020"/><rect x="427.49" y="288.60" width="1.82" height="5.2" fill="#2828d8"/><rect x="429.26" y="288.60" width="1.82" height="5.2" fill="#28b028"/><rect x="431.03" y="288.60" width="1.82" height="5.2" fill="#2828d8"/><text x="415.30" y="296.40" font-size="2.4" fill="#666" textLength="17.2" lengthAdjust="spacingAndGlyphs">TTATAAGCTC</text><rect x="415.10" y="297.40" width="17.7" height="4.6" fill="#f2a8ac"/><rect x="416.67" y="297.40" width="0.4" height="4.6" fill="#f6c2c4"/><rect x="418.44" y="297.40" width="0.4" height="4.6" fill="#f6c2c4"/><rect x="420.21" y="297.40" width="0.4" height="4.6" fill="#f6c2c4"/><rect x="421.98" y="297.40" width="0.4" height="4.6" fill="#f6c2c4"/><rect x="423.75" y="297.40" width="0.4" height="4.6" fill="#f6c2c4"/><rect x="425.52" y="297.40" width="0.4" height="4.6" fill="#f6c2c4"/><rect x="427.29" y="297.40" width="0.4" height="4.6" fill="#f6c2c4"/><rect x="429.06" y="297.40" width="0.4" height="4.6" fill="#f6c2c4"/><rect x="430.83" y="297.40" width="0.4" height="4.6" fill="#f6c2c4"/><text transform="translate(415.15,309.00) scale(1,2.7)" font-size="2.5" fill="#94dc94" font-weight="bold">T</text><text transform="translate(416.92,309.00) scale(1,2.7)" font-size="2.5" fill="#94dc94" font-weight="bold">T</text><text transform="translate(418.69,309.00) scale(1,2.7)" font-size="2.5" fill="#ec9a9a" font-weight="bold">A</text><text transform="translate(420.46,309.00) scale(1,2.7)" font-size="2.5" fill="#94dc94" font-weight="bold">T</text><text transform="translate(422.23,309.00) scale(1,2.7)" font-size="2.5" fill="#ec9a9a" font-weight="bold">A</text><text transform="translate(424.00,309.00) scale(1,2.7)" font-size="2.5" fill="#ec9a9a" font-weight="bold">A</text><text transform="translate(425.77,309.00) scale(1,2.7)" font-size="2.5" fill="#d8d890" font-weight="bold">G</text><text transform="translate(427.54,309.00) scale(1,2.7)" font-size="2.5" fill="#9a9aee" font-weight="bold">C</text><text transform="translate(429.31,309.00) scale(1,2.7)" font-size="2.5" fill="#94dc94" font-weight="bold">T</text><text transform="translate(431.08,309.00) scale(1,2.7)" font-size="2.5" fill="#9a9aee" font-weight="bold">C</text><rect x="434.70" y="288.60" width="1.82" height="5.2" fill="#c8c020"/><rect x="436.47" y="288.60" width="1.82" height="5.2" fill="#28b028"/><rect x="438.24" y="288.60" width="1.82" height="5.2" fill="#2828d8"/><rect x="440.01" y="288.60" width="1.82" height="5.2" fill="#e02828"/><rect x="441.78" y="288.60" width="1.82" height="5.2" fill="#e02828"/><rect x="443.55" y="288.60" width="1.82" height="5.2" fill="#e02828"/><rect x="445.32" y="288.60" width="1.82" height="5.2" fill="#28b028"/><rect x="447.09" y="288.60" width="1.82" height="5.2" fill="#28b028"/><rect x="448.86" y="288.60" width="1.82" height="5.2" fill="#e02828"/><rect x="450.63" y="288.60" width="1.82" height="5.2" fill="#e02828"/><text x="434.90" y="296.40" font-size="2.4" fill="#666" textLength="17.2" lengthAdjust="spacingAndGlyphs">GTCAAATTAA</text><rect x="434.70" y="297.40" width="17.7" height="4.6" fill="#f2a8ac"/><rect x="436.27" y="297.40" width="0.4" height="4.6" fill="#f6c2c4"/><rect x="438.04" y="297.40" width="0.4" height="4.6" fill="#f6c2c4"/><rect x="439.81" y="297.40" width="0.4" height="4.6" fill="#f6c2c4"/><rect x="441.58" y="297.40" width="0.4" height="4.6" fill="#f6c2c4"/><rect x="443.35" y="297.40" width="0.4" height="4.6" fill="#f6c2c4"/><rect x="445.12" y="297.40" width="0.4" height="4.6" fill="#f6c2c4"/><rect x="446.89" y="297.40" width="0.4" height="4.6" fill="#f6c2c4"/><rect x="448.66" y="297.40" width="0.4" height="4.6" fill="#f6c2c4"/><rect x="450.43" y="297.40" width="0.4" height="4.6" fill="#f6c2c4"/><text transform="translate(434.75,309.00) scale(1,2.7)" font-size="2.5" fill="#d8d890" font-weight="bold">G</text><text transform="translate(436.52,309.00) scale(1,2.7)" font-size="2.5" fill="#94dc94" font-weight="bold">T</text><text transform="translate(438.29,309.00) scale(1,2.7)" font-size="2.5" fill="#9a9aee" font-weight="bold">C</text><text transform="translate(440.06,309.00) scale(1,2.7)" font-size="2.5" fill="#ec9a9a" font-weight="bold">A</text><text transform="translate(441.83,309.00) scale(1,2.7)" font-size="2.5" fill="#ec9a9a" font-weight="bold">A</text><text transform="translate(443.60,309.00) scale(1,2.7)" font-size="2.5" fill="#ec9a9a" font-weight="bold">A</text><text transform="translate(445.37,309.00) scale(1,2.7)" font-size="2.5" fill="#94dc94" font-weight="bold">T</text><text transform="translate(447.14,309.00) scale(1,2.7)" font-size="2.5" fill="#94dc94" font-weight="bold">T</text><text transform="translate(448.91,309.00) scale(1,2.7)" font-size="2.5" fill="#ec9a9a" font-weight="bold">A</text><text transform="translate(450.68,309.00) scale(1,2.7)" font-size="2.5" fill="#ec9a9a" font-weight="bold">A</text><text x="451.70" y="287.80" font-size="2.0" fill="#555">1080</text><rect x="454.30" y="288.60" width="1.82" height="5.2" fill="#2828d8"/><rect x="456.07" y="288.60" width="1.82" height="5.2" fill="#e02828"/><rect x="457.84" y="288.60" width="1.82" height="5.2" fill="#2828d8"/><rect x="459.61" y="288.60" width="1.82" height="5.2" fill="#e02828"/><rect x="461.38" y="288.60" width="1.82" height="5.2" fill="#e02828"/><rect x="463.15" y="288.60" width="1.82" height="5.2" fill="#e02828"/><rect x="464.92" y="288.60" width="1.82" height="5.2" fill="#c8c020"/><rect x="466.69" y="288.60" width="1.82" height="5.2" fill="#28b028"/><rect x="468.46" y="288.60" width="1.82" height="5.2" fill="#28b028"/><rect x="470.23" y="288.60" width="1.82" height="5.2" fill="#e02828"/><text x="454.50" y="296.40" font-size="2.4" fill="#666" textLength="17.2" lengthAdjust="spacingAndGlyphs">CACAAAGTTA</text><rect x="454.30" y="297.40" width="17.7" height="4.6" fill="#f2a8ac"/><rect x="455.87" y="297.40" width="0.4" height="4.6" fill="#f6c2c4"/><rect x="457.64" y="297.40" width="0.4" height="4.6" fill="#f6c2c4"/><rect x="459.41" y="297.40" width="0.4" height="4.6" fill="#f6c2c4"/><rect x="461.18" y="297.40" width="0.4" height="4.6" fill="#f6c2c4"/><rect x="462.95" y="297.40" width="0.4" height="4.6" fill="#f6c2c4"/><rect x="464.72" y="297.40" width="0.4" height="4.6" fill="#f6c2c4"/><rect x="466.49" y="297.40" width="0.4" height="4.6" fill="#f6c2c4"/><rect x="468.26" y="297.40" width="0.4" height="4.6" fill="#f6c2c4"/><rect x="470.03" y="297.40" width="0.4" height="4.6" fill="#f6c2c4"/><text transform="translate(454.35,309.00) scale(1,2.7)" font-size="2.5" fill="#9a9aee" font-weight="bold">C</text><text transform="translate(456.12,309.00) scale(1,2.7)" font-size="2.5" fill="#ec9a9a" font-weight="bold">A</text><text transform="translate(457.89,309.00) scale(1,2.7)" font-size="2.5" fill="#9a9aee" font-weight="bold">C</text><text transform="translate(459.66,309.00) scale(1,2.7)" font-size="2.5" fill="#ec9a9a" font-weight="bold">A</text><text transform="translate(461.43,309.00) scale(1,2.7)" font-size="2.5" fill="#ec9a9a" font-weight="bold">A</text><text transform="translate(463.20,309.00) scale(1,2.7)" font-size="2.5" fill="#ec9a9a" font-weight="bold">A</text><text transform="translate(464.97,309.00) scale(1,2.7)" font-size="2.5" fill="#d8d890" font-weight="bold">G</text><text transform="translate(466.74,309.00) scale(1,2.7)" font-size="2.5" fill="#94dc94" font-weight="bold">T</text><text transform="translate(468.51,309.00) scale(1,2.7)" font-size="2.5" fill="#94dc94" font-weight="bold">T</text><text transform="translate(470.28,309.00) scale(1,2.7)" font-size="2.5" fill="#ec9a9a" font-weight="bold">A</text><rect x="473.90" y="288.60" width="1.82" height="5.2" fill="#e02828"/><rect x="475.67" y="288.60" width="1.82" height="5.2" fill="#c8c020"/><rect x="477.44" y="288.60" width="1.82" height="5.2" fill="#e02828"/><rect x="479.21" y="288.60" width="1.82" height="5.2" fill="#c8c020"/><rect x="480.98" y="288.60" width="1.82" height="5.2" fill="#e02828"/><rect x="482.75" y="288.60" width="1.82" height="5.2" fill="#28b028"/><rect x="484.52" y="288.60" width="1.82" height="5.2" fill="#28b028"/><rect x="486.29" y="288.60" width="1.82" height="5.2" fill="#2828d8"/><rect x="488.06" y="288.60" width="1.82" height="5.2" fill="#28b028"/><rect x="489.83" y="288.60" width="1.82" height="5.2" fill="#28b028"/><text x="474.10" y="296.40" font-size="2.4" fill="#666" textLength="17.2" lengthAdjust="spacingAndGlyphs">AGAGATTCTT</text><rect x="473.90" y="297.40" width="17.7" height="4.6" fill="#f2a8ac"/><rect x="475.47" y="297.40" width="0.4" height="4.6" fill="#f6c2c4"/><rect x="477.24" y="297.40" width="0.4" height="4.6" fill="#f6c2c4"/><rect x="479.01" y="297.40" width="0.4" height="4.6" fill="#f6c2c4"/><rect x="480.78" y="297.40" width="0.4" height="4.6" fill="#f6c2c4"/><rect x="482.55" y="297.40" width="0.4" height="4.6" fill="#f6c2c4"/><rect x="484.32" y="297.40" width="0.4" height="4.6" fill="#f6c2c4"/><rect x="486.09" y="297.40" width="0.4" height="4.6" fill="#f6c2c4"/><rect x="487.86" y="297.40" width="0.4" height="4.6" fill="#f6c2c4"/><rect x="489.63" y="297.40" width="0.4" height="4.6" fill="#f6c2c4"/><text transform="translate(473.95,309.00) scale(1,2.7)" font-size="2.5" fill="#ec9a9a" font-weight="bold">A</text><text transform="translate(475.72,309.00) scale(1,2.7)" font-size="2.5" fill="#d8d890" font-weight="bold">G</text><text transform="translate(477.49,309.00) scale(1,2.7)" font-size="2.5" fill="#ec9a9a" font-weight="bold">A</text><text transform="translate(479.26,309.00) scale(1,2.7)" font-size="2.5" fill="#d8d890" font-weight="bold">G</text><text transform="translate(481.03,309.00) scale(1,2.7)" font-size="2.5" fill="#ec9a9a" font-weight="bold">A</text><text transform="translate(482.80,309.00) scale(1,2.7)" font-size="2.5" fill="#94dc94" font-weight="bold">T</text><text transform="translate(484.57,309.00) scale(1,2.7)" font-size="2.5" fill="#94dc94" font-weight="bold">T</text><text transform="translate(486.34,309.00) scale(1,2.7)" font-size="2.5" fill="#9a9aee" font-weight="bold">C</text><text transform="translate(488.11,309.00) scale(1,2.7)" font-size="2.5" fill="#94dc94" font-weight="bold">T</text><text transform="translate(489.88,309.00) scale(1,2.7)" font-size="2.5" fill="#94dc94" font-weight="bold">T</text><text x="490.90" y="287.80" font-size="2.0" fill="#555">1120</text><rect x="493.50" y="288.60" width="1.82" height="5.2" fill="#2828d8"/><rect x="495.27" y="288.60" width="1.82" height="5.2" fill="#e02828"/><rect x="497.04" y="288.60" width="1.82" height="5.2" fill="#c8c020"/><rect x="498.81" y="288.60" width="1.82" height="5.2" fill="#2828d8"/><rect x="500.58" y="288.60" width="1.82" height="5.2" fill="#28b028"/><rect x="502.35" y="288.60" width="1.82" height="5.2" fill="#2828d8"/><rect x="504.12" y="288.60" width="1.82" height="5.2" fill="#2828d8"/><rect x="505.89" y="288.60" width="1.82" height="5.2" fill="#2828d8"/><rect x="507.66" y="288.60" width="1.82" height="5.2" fill="#e02828"/><rect x="509.43" y="288.60" width="1.82" height="5.2" fill="#e02828"/><text x="493.70" y="296.40" font-size="2.4" fill="#666" textLength="17.2" lengthAdjust="spacingAndGlyphs">CAGCTCCCAA</text><rect x="493.50" y="297.40" width="17.7" height="4.6" fill="#f2a8ac"/><rect x="495.07" y="297.40" width="0.4" height="4.6" fill="#f6c2c4"/><rect x="496.84" y="297.40" width="0.4" height="4.6" fill="#f6c2c4"/><rect x="498.61" y="297.40" width="0.4" height="4.6" fill="#f6c2c4"/><rect x="500.38" y="297.40" width="0.4" height="4.6" fill="#f6c2c4"/><rect x="502.15" y="297.40" width="0.4" height="4.6" fill="#f6c2c4"/><rect x="503.92" y="297.40" width="0.4" height="4.6" fill="#f6c2c4"/><rect x="505.69" y="297.40" width="0.4" height="4.6" fill="#f6c2c4"/><rect x="507.46" y="297.40" width="0.4" height="4.6" fill="#f6c2c4"/><rect x="509.23" y="297.40" width="0.4" height="4.6" fill="#f6c2c4"/><text transform="translate(493.55,309.00) scale(1,2.7)" font-size="2.5" fill="#9a9aee" font-weight="bold">C</text><text transform="translate(495.32,309.00) scale(1,2.7)" font-size="2.5" fill="#ec9a9a" font-weight="bold">A</text><text transform="translate(497.09,309.00) scale(1,2.7)" font-size="2.5" fill="#d8d890" font-weight="bold">G</text><text transform="translate(498.86,309.00) scale(1,2.7)" font-size="2.5" fill="#9a9aee" font-weight="bold">C</text><text transform="translate(500.63,309.00) scale(1,2.7)" font-size="2.5" fill="#94dc94" font-weight="bold">T</text><text transform="translate(502.40,309.00) scale(1,2.7)" font-size="2.5" fill="#9a9aee" font-weight="bold">C</text><text transform="translate(504.17,309.00) scale(1,2.7)" font-size="2.5" fill="#9a9aee" font-weight="bold">C</text><text transform="translate(505.94,309.00) scale(1,2.7)" font-size="2.5" fill="#9a9aee" font-weight="bold">C</text><text transform="translate(507.71,309.00) scale(1,2.7)" font-size="2.5" fill="#ec9a9a" font-weight="bold">A</text><text transform="translate(509.48,309.00) scale(1,2.7)" font-size="2.5" fill="#ec9a9a" font-weight="bold">A</text><rect x="513.10" y="288.60" width="1.82" height="5.2" fill="#e02828"/><rect x="514.87" y="288.60" width="1.82" height="5.2" fill="#e02828"/><rect x="516.64" y="288.60" width="1.82" height="5.2" fill="#e02828"/><rect x="518.41" y="288.60" width="1.82" height="5.2" fill="#e02828"/><rect x="520.18" y="288.60" width="1.82" height="5.2" fill="#c8c020"/><rect x="521.95" y="288.60" width="1.82" height="5.2" fill="#e02828"/><rect x="523.72" y="288.60" width="1.82" height="5.2" fill="#e02828"/><rect x="525.49" y="288.60" width="1.82" height="5.2" fill="#28b028"/><rect x="527.26" y="288.60" width="1.82" height="5.2" fill="#2828d8"/><rect x="529.03" y="288.60" width="1.82" height="5.2" fill="#c8c020"/><text x="513.30" y="296.40" font-size="2.4" fill="#666" textLength="17.2" lengthAdjust="spacingAndGlyphs">AAAAGAATCG</text><rect x="513.10" y="297.40" width="17.7" height="4.6" fill="#f2a8ac"/><rect x="514.67" y="297.40" width="0.4" height="4.6" fill="#f6c2c4"/><rect x="516.44" y="297.40" width="0.4" height="4.6" fill="#f6c2c4"/><rect x="518.21" y="297.40" width="0.4" height="4.6" fill="#f6c2c4"/><rect x="519.98" y="297.40" width="0.4" height="4.6" fill="#f6c2c4"/><rect x="521.75" y="297.40" width="0.4" height="4.6" fill="#f6c2c4"/><rect x="523.52" y="297.40" width="0.4" height="4.6" fill="#f6c2c4"/><rect x="525.29" y="297.40" width="0.4" height="4.6" fill="#f6c2c4"/><rect x="527.06" y="297.40" width="0.4" height="4.6" fill="#f6c2c4"/><rect x="528.83" y="297.40" width="0.4" height="4.6" fill="#f6c2c4"/><text transform="translate(513.15,309.00) scale(1,2.7)" font-size="2.5" fill="#ec9a9a" font-weight="bold">A</text><text transform="translate(514.92,309.00) scale(1,2.7)" font-size="2.5" fill="#ec9a9a" font-weight="bold">A</text><text transform="translate(516.69,309.00) scale(1,2.7)" font-size="2.5" fill="#ec9a9a" font-weight="bold">A</text><text transform="translate(518.46,309.00) scale(1,2.7)" font-size="2.5" fill="#ec9a9a" font-weight="bold">A</text><text transform="translate(520.23,309.00) scale(1,2.7)" font-size="2.5" fill="#d8d890" font-weight="bold">G</text><text transform="translate(522.00,309.00) scale(1,2.7)" font-size="2.5" fill="#ec9a9a" font-weight="bold">A</text><text transform="translate(523.77,309.00) scale(1,2.7)" font-size="2.5" fill="#ec9a9a" font-weight="bold">A</text><text transform="translate(525.54,309.00) scale(1,2.7)" font-size="2.5" fill="#94dc94" font-weight="bold">T</text><text transform="translate(527.31,309.00) scale(1,2.7)" font-size="2.5" fill="#9a9aee" font-weight="bold">C</text><text transform="translate(529.08,309.00) scale(1,2.7)" font-size="2.5" fill="#d8d890" font-weight="bold">G</text><text x="530.10" y="287.80" font-size="2.0" fill="#555">1160</text>
<text x="373.70" y="315.30" font-size="2.3" fill="#222"   text-anchor="end" text-rendering="geometricPrecision" textLength="21.5" lengthAdjust="spacingAndGlyphs">AAV9_hEPO_Genome</text>
<text x="373.70" y="318.10" font-size="2.3" fill="#222"   text-anchor="end" text-rendering="geometricPrecision" textLength="40.2" lengthAdjust="spacingAndGlyphs">AAV9_hEPO_DBS_pooled_DNA_selection</text>
<text x="373.70" y="321.30" font-size="2.2" fill="#333"   text-anchor="end" text-rendering="geometricPrecision" >Consensus</text>
<text x="373.70" y="323.10" font-size="1.6" fill="#666"   text-anchor="end" text-rendering="geometricPrecision" >100%</text>
<text x="373.70" y="326.10" font-size="2.2" fill="#333"   text-anchor="end" text-rendering="geometricPrecision" >Conservation</text>
<text x="373.70" y="328.50" font-size="1.6" fill="#666"   text-anchor="end" text-rendering="geometricPrecision" >0%</text>
<text x="373.70" y="331.90" font-size="2.2" fill="#333"   text-anchor="end" text-rendering="geometricPrecision" >Sequence logo</text>
<text x="373.70" y="333.70" font-size="1.6" fill="#666"   text-anchor="end" text-rendering="geometricPrecision" >2.0bits</text>
<text x="537.40" y="315.30" font-size="2.4" fill="#333"   text-anchor="end" text-rendering="geometricPrecision" >1530</text>
<text x="537.40" y="318.00" font-size="2.4" fill="#333"   text-anchor="end" text-rendering="geometricPrecision" >1530</text>
<rect x="375.90" y="313.30" width="1.82" height="5.2" fill="#e02828"/><rect x="377.67" y="313.30" width="1.82" height="5.2" fill="#2828d8"/><rect x="379.44" y="313.30" width="1.82" height="5.2" fill="#e02828"/><rect x="381.21" y="313.30" width="1.82" height="5.2" fill="#c8c020"/><rect x="382.98" y="313.30" width="1.82" height="5.2" fill="#2828d8"/><rect x="384.75" y="313.30" width="1.82" height="5.2" fill="#e02828"/><rect x="386.52" y="313.30" width="1.82" height="5.2" fill="#28b028"/><rect x="388.29" y="313.30" width="1.82" height="5.2" fill="#c8c020"/><rect x="390.06" y="313.30" width="1.82" height="5.2" fill="#e02828"/><rect x="391.83" y="313.30" width="1.82" height="5.2" fill="#e02828"/><text x="376.10" y="321.10" font-size="2.4" fill="#666" textLength="17.2" lengthAdjust="spacingAndGlyphs">ACAGCATGAA</text><rect x="375.90" y="322.10" width="17.7" height="4.6" fill="#f2a8ac"/><rect x="377.47" y="322.10" width="0.4" height="4.6" fill="#f6c2c4"/><rect x="379.24" y="322.10" width="0.4" height="4.6" fill="#f6c2c4"/><rect x="381.01" y="322.10" width="0.4" height="4.6" fill="#f6c2c4"/><rect x="382.78" y="322.10" width="0.4" height="4.6" fill="#f6c2c4"/><rect x="384.55" y="322.10" width="0.4" height="4.6" fill="#f6c2c4"/><rect x="386.32" y="322.10" width="0.4" height="4.6" fill="#f6c2c4"/><rect x="388.09" y="322.10" width="0.4" height="4.6" fill="#f6c2c4"/><rect x="389.86" y="322.10" width="0.4" height="4.6" fill="#f6c2c4"/><rect x="391.63" y="322.10" width="0.4" height="4.6" fill="#f6c2c4"/><text transform="translate(375.95,333.70) scale(1,2.7)" font-size="2.5" fill="#ec9a9a" font-weight="bold">A</text><text transform="translate(377.72,333.70) scale(1,2.7)" font-size="2.5" fill="#9a9aee" font-weight="bold">C</text><text transform="translate(379.49,333.70) scale(1,2.7)" font-size="2.5" fill="#ec9a9a" font-weight="bold">A</text><text transform="translate(381.26,333.70) scale(1,2.7)" font-size="2.5" fill="#d8d890" font-weight="bold">G</text><text transform="translate(383.03,333.70) scale(1,2.7)" font-size="2.5" fill="#9a9aee" font-weight="bold">C</text><text transform="translate(384.80,333.70) scale(1,2.7)" font-size="2.5" fill="#ec9a9a" font-weight="bold">A</text><text transform="translate(386.57,333.70) scale(1,2.7)" font-size="2.5" fill="#94dc94" font-weight="bold">T</text><text transform="translate(388.34,333.70) scale(1,2.7)" font-size="2.5" fill="#d8d890" font-weight="bold">G</text><text transform="translate(390.11,333.70) scale(1,2.7)" font-size="2.5" fill="#ec9a9a" font-weight="bold">A</text><text transform="translate(391.88,333.70) scale(1,2.7)" font-size="2.5" fill="#ec9a9a" font-weight="bold">A</text><rect x="395.50" y="313.30" width="1.82" height="5.2" fill="#28b028"/><rect x="397.27" y="313.30" width="1.82" height="5.2" fill="#e02828"/><rect x="399.04" y="313.30" width="1.82" height="5.2" fill="#c8c020"/><rect x="400.81" y="313.30" width="1.82" height="5.2" fill="#28b028"/><rect x="402.58" y="313.30" width="1.82" height="5.2" fill="#c8c020"/><rect x="404.35" y="313.30" width="1.82" height="5.2" fill="#2828d8"/><rect x="406.12" y="313.30" width="1.82" height="5.2" fill="#e02828"/><rect x="407.89" y="313.30" width="1.82" height="5.2" fill="#c8c020"/><rect x="409.66" y="313.30" width="1.82" height="5.2" fill="#2828d8"/><rect x="411.43" y="313.30" width="1.82" height="5.2" fill="#c8c020"/><text x="395.70" y="321.10" font-size="2.4" fill="#666" textLength="17.2" lengthAdjust="spacingAndGlyphs">TAGTGCAGCG</text><rect x="395.50" y="322.10" width="17.7" height="4.6" fill="#f2a8ac"/><rect x="397.07" y="322.10" width="0.4" height="4.6" fill="#f6c2c4"/><rect x="398.84" y="322.10" width="0.4" height="4.6" fill="#f6c2c4"/><rect x="400.61" y="322.10" width="0.4" height="4.6" fill="#f6c2c4"/><rect x="402.38" y="322.10" width="0.4" height="4.6" fill="#f6c2c4"/><rect x="404.15" y="322.10" width="0.4" height="4.6" fill="#f6c2c4"/><rect x="405.92" y="322.10" width="0.4" height="4.6" fill="#f6c2c4"/><rect x="407.69" y="322.10" width="0.4" height="4.6" fill="#f6c2c4"/><rect x="409.46" y="322.10" width="0.4" height="4.6" fill="#f6c2c4"/><rect x="411.23" y="322.10" width="0.4" height="4.6" fill="#f6c2c4"/><text transform="translate(395.55,333.70) scale(1,2.7)" font-size="2.5" fill="#94dc94" font-weight="bold">T</text><text transform="translate(397.32,333.70) scale(1,2.7)" font-size="2.5" fill="#ec9a9a" font-weight="bold">A</text><text transform="translate(399.09,333.70) scale(1,2.7)" font-size="2.5" fill="#d8d890" font-weight="bold">G</text><text transform="translate(400.86,333.70) scale(1,2.7)" font-size="2.5" fill="#94dc94" font-weight="bold">T</text><text transform="translate(402.63,333.70) scale(1,2.7)" font-size="2.5" fill="#d8d890" font-weight="bold">G</text><text transform="translate(404.40,333.70) scale(1,2.7)" font-size="2.5" fill="#9a9aee" font-weight="bold">C</text><text transform="translate(406.17,333.70) scale(1,2.7)" font-size="2.5" fill="#ec9a9a" font-weight="bold">A</text><text transform="translate(407.94,333.70) scale(1,2.7)" font-size="2.5" fill="#d8d890" font-weight="bold">G</text><text transform="translate(409.71,333.70) scale(1,2.7)" font-size="2.5" fill="#9a9aee" font-weight="bold">C</text><text transform="translate(411.48,333.70) scale(1,2.7)" font-size="2.5" fill="#d8d890" font-weight="bold">G</text><text x="412.50" y="312.50" font-size="2.0" fill="#555">1200</text><rect x="415.10" y="313.30" width="1.82" height="5.2" fill="#e02828"/><rect x="416.87" y="313.30" width="1.82" height="5.2" fill="#2828d8"/><rect x="418.64" y="313.30" width="1.82" height="5.2" fill="#c8c020"/><rect x="420.41" y="313.30" width="1.82" height="5.2" fill="#28b028"/><rect x="422.18" y="313.30" width="1.82" height="5.2" fill="#e02828"/><rect x="423.95" y="313.30" width="1.82" height="5.2" fill="#c8c020"/><rect x="425.72" y="313.30" width="1.82" height="5.2" fill="#e02828"/><rect x="427.49" y="313.30" width="1.82" height="5.2" fill="#e02828"/><rect x="429.26" y="313.30" width="1.82" height="5.2" fill="#c8c020"/><rect x="431.03" y="313.30" width="1.82" height="5.2" fill="#28b028"/><text x="415.30" y="321.10" font-size="2.4" fill="#666" textLength="17.2" lengthAdjust="spacingAndGlyphs">ACGTAGAAGT</text><rect x="415.10" y="322.10" width="17.7" height="4.6" fill="#f2a8ac"/><rect x="416.67" y="322.10" width="0.4" height="4.6" fill="#f6c2c4"/><rect x="418.44" y="322.10" width="0.4" height="4.6" fill="#f6c2c4"/><rect x="420.21" y="322.10" width="0.4" height="4.6" fill="#f6c2c4"/><rect x="421.98" y="322.10" width="0.4" height="4.6" fill="#f6c2c4"/><rect x="423.75" y="322.10" width="0.4" height="4.6" fill="#f6c2c4"/><rect x="425.52" y="322.10" width="0.4" height="4.6" fill="#f6c2c4"/><rect x="427.29" y="322.10" width="0.4" height="4.6" fill="#f6c2c4"/><rect x="429.06" y="322.10" width="0.4" height="4.6" fill="#f6c2c4"/><rect x="430.83" y="322.10" width="0.4" height="4.6" fill="#f6c2c4"/><text transform="translate(415.15,333.70) scale(1,2.7)" font-size="2.5" fill="#ec9a9a" font-weight="bold">A</text><text transform="translate(416.92,333.70) scale(1,2.7)" font-size="2.5" fill="#9a9aee" font-weight="bold">C</text><text transform="translate(418.69,333.70) scale(1,2.7)" font-size="2.5" fill="#d8d890" font-weight="bold">G</text><text transform="translate(420.46,333.70) scale(1,2.7)" font-size="2.5" fill="#94dc94" font-weight="bold">T</text><text transform="translate(422.23,333.70) scale(1,2.7)" font-size="2.5" fill="#ec9a9a" font-weight="bold">A</text><text transform="translate(424.00,333.70) scale(1,2.7)" font-size="2.5" fill="#d8d890" font-weight="bold">G</text><text transform="translate(425.77,333.70) scale(1,2.7)" font-size="2.5" fill="#ec9a9a" font-weight="bold">A</text><text transform="translate(427.54,333.70) scale(1,2.7)" font-size="2.5" fill="#ec9a9a" font-weight="bold">A</text><text transform="translate(429.31,333.70) scale(1,2.7)" font-size="2.5" fill="#d8d890" font-weight="bold">G</text><text transform="translate(431.08,333.70) scale(1,2.7)" font-size="2.5" fill="#94dc94" font-weight="bold">T</text><rect x="434.70" y="313.30" width="1.82" height="5.2" fill="#2828d8"/><rect x="436.47" y="313.30" width="1.82" height="5.2" fill="#28b028"/><rect x="438.24" y="313.30" width="1.82" height="5.2" fill="#c8c020"/><rect x="440.01" y="313.30" width="1.82" height="5.2" fill="#28b028"/><rect x="441.78" y="313.30" width="1.82" height="5.2" fill="#c8c020"/><rect x="443.55" y="313.30" width="1.82" height="5.2" fill="#28b028"/><rect x="445.32" y="313.30" width="1.82" height="5.2" fill="#28b028"/><rect x="447.09" y="313.30" width="1.82" height="5.2" fill="#2828d8"/><rect x="448.86" y="313.30" width="1.82" height="5.2" fill="#e02828"/><rect x="450.63" y="313.30" width="1.82" height="5.2" fill="#c8c020"/><text x="434.90" y="321.10" font-size="2.4" fill="#666" textLength="17.2" lengthAdjust="spacingAndGlyphs">CTGTGTTCAG</text><rect x="434.70" y="322.10" width="17.7" height="4.6" fill="#f2a8ac"/><rect x="436.27" y="322.10" width="0.4" height="4.6" fill="#f6c2c4"/><rect x="438.04" y="322.10" width="0.4" height="4.6" fill="#f6c2c4"/><rect x="439.81" y="322.10" width="0.4" height="4.6" fill="#f6c2c4"/><rect x="441.58" y="322.10" width="0.4" height="4.6" fill="#f6c2c4"/><rect x="443.35" y="322.10" width="0.4" height="4.6" fill="#f6c2c4"/><rect x="445.12" y="322.10" width="0.4" height="4.6" fill="#f6c2c4"/><rect x="446.89" y="322.10" width="0.4" height="4.6" fill="#f6c2c4"/><rect x="448.66" y="322.10" width="0.4" height="4.6" fill="#f6c2c4"/><rect x="450.43" y="322.10" width="0.4" height="4.6" fill="#f6c2c4"/><text transform="translate(434.75,333.70) scale(1,2.7)" font-size="2.5" fill="#9a9aee" font-weight="bold">C</text><text transform="translate(436.52,333.70) scale(1,2.7)" font-size="2.5" fill="#94dc94" font-weight="bold">T</text><text transform="translate(438.29,333.70) scale(1,2.7)" font-size="2.5" fill="#d8d890" font-weight="bold">G</text><text transform="translate(440.06,333.70) scale(1,2.7)" font-size="2.5" fill="#94dc94" font-weight="bold">T</text><text transform="translate(441.83,333.70) scale(1,2.7)" font-size="2.5" fill="#d8d890" font-weight="bold">G</text><text transform="translate(443.60,333.70) scale(1,2.7)" font-size="2.5" fill="#94dc94" font-weight="bold">T</text><text transform="translate(445.37,333.70) scale(1,2.7)" font-size="2.5" fill="#94dc94" font-weight="bold">T</text><text transform="translate(447.14,333.70) scale(1,2.7)" font-size="2.5" fill="#9a9aee" font-weight="bold">C</text><text transform="translate(448.91,333.70) scale(1,2.7)" font-size="2.5" fill="#ec9a9a" font-weight="bold">A</text><text transform="translate(450.68,333.70) scale(1,2.7)" font-size="2.5" fill="#d8d890" font-weight="bold">G</text><text x="451.70" y="312.50" font-size="2.0" fill="#555">1240</text><rect x="454.30" y="313.30" width="1.82" height="5.2" fill="#c8c020"/><rect x="456.07" y="313.30" width="1.82" height="5.2" fill="#28b028"/><rect x="457.84" y="313.30" width="1.82" height="5.2" fill="#28b028"/><rect x="459.61" y="313.30" width="1.82" height="5.2" fill="#28b028"/><rect x="461.38" y="313.30" width="1.82" height="5.2" fill="#28b028"/><rect x="463.15" y="313.30" width="1.82" height="5.2" fill="#28b028"/><rect x="464.92" y="313.30" width="1.82" height="5.2" fill="#2828d8"/><rect x="466.69" y="313.30" width="1.82" height="5.2" fill="#c8c020"/><rect x="468.46" y="313.30" width="1.82" height="5.2" fill="#28b028"/><rect x="470.23" y="313.30" width="1.82" height="5.2" fill="#e02828"/><text x="454.50" y="321.10" font-size="2.4" fill="#666" textLength="17.2" lengthAdjust="spacingAndGlyphs">GTTTTTCGTA</text><rect x="454.30" y="322.10" width="17.7" height="4.6" fill="#f2a8ac"/><rect x="455.87" y="322.10" width="0.4" height="4.6" fill="#f6c2c4"/><rect x="457.64" y="322.10" width="0.4" height="4.6" fill="#f6c2c4"/><rect x="459.41" y="322.10" width="0.4" height="4.6" fill="#f6c2c4"/><rect x="461.18" y="322.10" width="0.4" height="4.6" fill="#f6c2c4"/><rect x="462.95" y="322.10" width="0.4" height="4.6" fill="#f6c2c4"/><rect x="464.72" y="322.10" width="0.4" height="4.6" fill="#f6c2c4"/><rect x="466.49" y="322.10" width="0.4" height="4.6" fill="#f6c2c4"/><rect x="468.26" y="322.10" width="0.4" height="4.6" fill="#f6c2c4"/><rect x="470.03" y="322.10" width="0.4" height="4.6" fill="#f6c2c4"/><text transform="translate(454.35,333.70) scale(1,2.7)" font-size="2.5" fill="#d8d890" font-weight="bold">G</text><text transform="translate(456.12,333.70) scale(1,2.7)" font-size="2.5" fill="#94dc94" font-weight="bold">T</text><text transform="translate(457.89,333.70) scale(1,2.7)" font-size="2.5" fill="#94dc94" font-weight="bold">T</text><text transform="translate(459.66,333.70) scale(1,2.7)" font-size="2.5" fill="#94dc94" font-weight="bold">T</text><text transform="translate(461.43,333.70) scale(1,2.7)" font-size="2.5" fill="#94dc94" font-weight="bold">T</text><text transform="translate(463.20,333.70) scale(1,2.7)" font-size="2.5" fill="#94dc94" font-weight="bold">T</text><text transform="translate(464.97,333.70) scale(1,2.7)" font-size="2.5" fill="#9a9aee" font-weight="bold">C</text><text transform="translate(466.74,333.70) scale(1,2.7)" font-size="2.5" fill="#d8d890" font-weight="bold">G</text><text transform="translate(468.51,333.70) scale(1,2.7)" font-size="2.5" fill="#94dc94" font-weight="bold">T</text><text transform="translate(470.28,333.70) scale(1,2.7)" font-size="2.5" fill="#ec9a9a" font-weight="bold">A</text><rect x="473.90" y="313.30" width="1.82" height="5.2" fill="#c8c020"/><rect x="475.67" y="313.30" width="1.82" height="5.2" fill="#e02828"/><rect x="477.44" y="313.30" width="1.82" height="5.2" fill="#2828d8"/><rect x="479.21" y="313.30" width="1.82" height="5.2" fill="#c8c020"/><rect x="480.98" y="313.30" width="1.82" height="5.2" fill="#e02828"/><rect x="482.75" y="313.30" width="1.82" height="5.2" fill="#2828d8"/><rect x="484.52" y="313.30" width="1.82" height="5.2" fill="#2828d8"/><rect x="486.29" y="313.30" width="1.82" height="5.2" fill="#c8c020"/><rect x="488.06" y="313.30" width="1.82" height="5.2" fill="#2828d8"/><rect x="489.83" y="313.30" width="1.82" height="5.2" fill="#e02828"/><text x="474.10" y="321.10" font-size="2.4" fill="#666" textLength="17.2" lengthAdjust="spacingAndGlyphs">GACGACCGCA</text><rect x="473.90" y="322.10" width="17.7" height="4.6" fill="#f2a8ac"/><rect x="475.47" y="322.10" width="0.4" height="4.6" fill="#f6c2c4"/><rect x="477.24" y="322.10" width="0.4" height="4.6" fill="#f6c2c4"/><rect x="479.01" y="322.10" width="0.4" height="4.6" fill="#f6c2c4"/><rect x="480.78" y="322.10" width="0.4" height="4.6" fill="#f6c2c4"/><rect x="482.55" y="322.10" width="0.4" height="4.6" fill="#f6c2c4"/><rect x="484.32" y="322.10" width="0.4" height="4.6" fill="#f6c2c4"/><rect x="486.09" y="322.10" width="0.4" height="4.6" fill="#f6c2c4"/><rect x="487.86" y="322.10" width="0.4" height="4.6" fill="#f6c2c4"/><rect x="489.63" y="322.10" width="0.4" height="4.6" fill="#f6c2c4"/><text transform="translate(473.95,333.70) scale(1,2.7)" font-size="2.5" fill="#d8d890" font-weight="bold">G</text><text transform="translate(475.72,333.70) scale(1,2.7)" font-size="2.5" fill="#ec9a9a" font-weight="bold">A</text><text transform="translate(477.49,333.70) scale(1,2.7)" font-size="2.5" fill="#9a9aee" font-weight="bold">C</text><text transform="translate(479.26,333.70) scale(1,2.7)" font-size="2.5" fill="#d8d890" font-weight="bold">G</text><text transform="translate(481.03,333.70) scale(1,2.7)" font-size="2.5" fill="#ec9a9a" font-weight="bold">A</text><text transform="translate(482.80,333.70) scale(1,2.7)" font-size="2.5" fill="#9a9aee" font-weight="bold">C</text><text transform="translate(484.57,333.70) scale(1,2.7)" font-size="2.5" fill="#9a9aee" font-weight="bold">C</text><text transform="translate(486.34,333.70) scale(1,2.7)" font-size="2.5" fill="#d8d890" font-weight="bold">G</text><text transform="translate(488.11,333.70) scale(1,2.7)" font-size="2.5" fill="#9a9aee" font-weight="bold">C</text><text transform="translate(489.88,333.70) scale(1,2.7)" font-size="2.5" fill="#ec9a9a" font-weight="bold">A</text><text x="490.90" y="312.50" font-size="2.0" fill="#555">1280</text><rect x="493.50" y="313.30" width="1.82" height="5.2" fill="#c8c020"/><rect x="495.27" y="313.30" width="1.82" height="5.2" fill="#28b028"/><rect x="497.04" y="313.30" width="1.82" height="5.2" fill="#28b028"/><rect x="498.81" y="313.30" width="1.82" height="5.2" fill="#2828d8"/><rect x="500.58" y="313.30" width="1.82" height="5.2" fill="#c8c020"/><rect x="502.35" y="313.30" width="1.82" height="5.2" fill="#e02828"/><rect x="504.12" y="313.30" width="1.82" height="5.2" fill="#e02828"/><rect x="505.89" y="313.30" width="1.82" height="5.2" fill="#28b028"/><rect x="507.66" y="313.30" width="1.82" height="5.2" fill="#28b028"/><rect x="509.43" y="313.30" width="1.82" height="5.2" fill="#2828d8"/><text x="493.70" y="321.10" font-size="2.4" fill="#666" textLength="17.2" lengthAdjust="spacingAndGlyphs">GTTCGAATTC</text><rect x="493.50" y="322.10" width="17.7" height="4.6" fill="#f2a8ac"/><rect x="495.07" y="322.10" width="0.4" height="4.6" fill="#f6c2c4"/><rect x="496.84" y="322.10" width="0.4" height="4.6" fill="#f6c2c4"/><rect x="498.61" y="322.10" width="0.4" height="4.6" fill="#f6c2c4"/><rect x="500.38" y="322.10" width="0.4" height="4.6" fill="#f6c2c4"/><rect x="502.15" y="322.10" width="0.4" height="4.6" fill="#f6c2c4"/><rect x="503.92" y="322.10" width="0.4" height="4.6" fill="#f6c2c4"/><rect x="505.69" y="322.10" width="0.4" height="4.6" fill="#f6c2c4"/><rect x="507.46" y="322.10" width="0.4" height="4.6" fill="#f6c2c4"/><rect x="509.23" y="322.10" width="0.4" height="4.6" fill="#f6c2c4"/><text transform="translate(493.55,333.70) scale(1,2.7)" font-size="2.5" fill="#d8d890" font-weight="bold">G</text><text transform="translate(495.32,333.70) scale(1,2.7)" font-size="2.5" fill="#94dc94" font-weight="bold">T</text><text transform="translate(497.09,333.70) scale(1,2.7)" font-size="2.5" fill="#94dc94" font-weight="bold">T</text><text transform="translate(498.86,333.70) scale(1,2.7)" font-size="2.5" fill="#9a9aee" font-weight="bold">C</text><text transform="translate(500.63,333.70) scale(1,2.7)" font-size="2.5" fill="#d8d890" font-weight="bold">G</text><text transform="translate(502.40,333.70) scale(1,2.7)" font-size="2.5" fill="#ec9a9a" font-weight="bold">A</text><text transform="translate(504.17,333.70) scale(1,2.7)" font-size="2.5" fill="#ec9a9a" font-weight="bold">A</text><text transform="translate(505.94,333.70) scale(1,2.7)" font-size="2.5" fill="#94dc94" font-weight="bold">T</text><text transform="translate(507.71,333.70) scale(1,2.7)" font-size="2.5" fill="#94dc94" font-weight="bold">T</text><text transform="translate(509.48,333.70) scale(1,2.7)" font-size="2.5" fill="#9a9aee" font-weight="bold">C</text><rect x="513.10" y="313.30" width="1.82" height="5.2" fill="#c8c020"/><rect x="514.87" y="313.30" width="1.82" height="5.2" fill="#e02828"/><rect x="516.64" y="313.30" width="1.82" height="5.2" fill="#28b028"/><rect x="518.41" y="313.30" width="1.82" height="5.2" fill="#e02828"/><rect x="520.18" y="313.30" width="1.82" height="5.2" fill="#c8c020"/><rect x="521.95" y="313.30" width="1.82" height="5.2" fill="#2828d8"/><rect x="523.72" y="313.30" width="1.82" height="5.2" fill="#e02828"/><rect x="525.49" y="313.30" width="1.82" height="5.2" fill="#2828d8"/><rect x="527.26" y="313.30" width="1.82" height="5.2" fill="#e02828"/><rect x="529.03" y="313.30" width="1.82" height="5.2" fill="#c8c020"/><text x="513.30" y="321.10" font-size="2.4" fill="#666" textLength="17.2" lengthAdjust="spacingAndGlyphs">GATAGCACAG</text><rect x="513.10" y="322.10" width="17.7" height="4.6" fill="#f2a8ac"/><rect x="514.67" y="322.10" width="0.4" height="4.6" fill="#f6c2c4"/><rect x="516.44" y="322.10" width="0.4" height="4.6" fill="#f6c2c4"/><rect x="518.21" y="322.10" width="0.4" height="4.6" fill="#f6c2c4"/><rect x="519.98" y="322.10" width="0.4" height="4.6" fill="#f6c2c4"/><rect x="521.75" y="322.10" width="0.4" height="4.6" fill="#f6c2c4"/><rect x="523.52" y="322.10" width="0.4" height="4.6" fill="#f6c2c4"/><rect x="525.29" y="322.10" width="0.4" height="4.6" fill="#f6c2c4"/><rect x="527.06" y="322.10" width="0.4" height="4.6" fill="#f6c2c4"/><rect x="528.83" y="322.10" width="0.4" height="4.6" fill="#f6c2c4"/><text transform="translate(513.15,333.70) scale(1,2.7)" font-size="2.5" fill="#d8d890" font-weight="bold">G</text><text transform="translate(514.92,333.70) scale(1,2.7)" font-size="2.5" fill="#ec9a9a" font-weight="bold">A</text><text transform="translate(516.69,333.70) scale(1,2.7)" font-size="2.5" fill="#94dc94" font-weight="bold">T</text><text transform="translate(518.46,333.70) scale(1,2.7)" font-size="2.5" fill="#ec9a9a" font-weight="bold">A</text><text transform="translate(520.23,333.70) scale(1,2.7)" font-size="2.5" fill="#d8d890" font-weight="bold">G</text><text transform="translate(522.00,333.70) scale(1,2.7)" font-size="2.5" fill="#9a9aee" font-weight="bold">C</text><text transform="translate(523.77,333.70) scale(1,2.7)" font-size="2.5" fill="#ec9a9a" font-weight="bold">A</text><text transform="translate(525.54,333.70) scale(1,2.7)" font-size="2.5" fill="#9a9aee" font-weight="bold">C</text><text transform="translate(527.31,333.70) scale(1,2.7)" font-size="2.5" fill="#ec9a9a" font-weight="bold">A</text><text transform="translate(529.08,333.70) scale(1,2.7)" font-size="2.5" fill="#d8d890" font-weight="bold">G</text><text x="530.10" y="312.50" font-size="2.0" fill="#555">1320</text>
<text x="373.70" y="340.00" font-size="2.3" fill="#222"   text-anchor="end" text-rendering="geometricPrecision" textLength="21.5" lengthAdjust="spacingAndGlyphs">AAV9_hEPO_Genome</text>
<text x="373.70" y="342.80" font-size="2.3" fill="#222"   text-anchor="end" text-rendering="geometricPrecision" textLength="40.2" lengthAdjust="spacingAndGlyphs">AAV9_hEPO_DBS_pooled_DNA_selection</text>
<text x="373.70" y="346.00" font-size="2.2" fill="#333"   text-anchor="end" text-rendering="geometricPrecision" >Consensus</text>
<text x="373.70" y="347.80" font-size="1.6" fill="#666"   text-anchor="end" text-rendering="geometricPrecision" >100%</text>
<text x="373.70" y="350.80" font-size="2.2" fill="#333"   text-anchor="end" text-rendering="geometricPrecision" >Conservation</text>
<text x="373.70" y="353.20" font-size="1.6" fill="#666"   text-anchor="end" text-rendering="geometricPrecision" >0%</text>
<text x="373.70" y="356.60" font-size="2.2" fill="#333"   text-anchor="end" text-rendering="geometricPrecision" >Sequence logo</text>
<text x="373.70" y="358.40" font-size="1.6" fill="#666"   text-anchor="end" text-rendering="geometricPrecision" >2.0bits</text>
<text x="537.40" y="340.00" font-size="2.4" fill="#333"   text-anchor="end" text-rendering="geometricPrecision" >1700</text>
<text x="537.40" y="342.70" font-size="2.4" fill="#333"   text-anchor="end" text-rendering="geometricPrecision" >1700</text>
<rect x="375.90" y="338.00" width="1.82" height="5.2" fill="#e02828"/><rect x="377.67" y="338.00" width="1.82" height="5.2" fill="#e02828"/><rect x="379.44" y="338.00" width="1.82" height="5.2" fill="#2828d8"/><rect x="381.21" y="338.00" width="1.82" height="5.2" fill="#c8c020"/><rect x="382.98" y="338.00" width="1.82" height="5.2" fill="#2828d8"/><rect x="384.75" y="338.00" width="1.82" height="5.2" fill="#e02828"/><rect x="386.52" y="338.00" width="1.82" height="5.2" fill="#28b028"/><rect x="388.29" y="338.00" width="1.82" height="5.2" fill="#28b028"/><rect x="390.06" y="338.00" width="1.82" height="5.2" fill="#28b028"/><rect x="391.83" y="338.00" width="1.82" height="5.2" fill="#2828d8"/><text x="376.10" y="345.80" font-size="2.4" fill="#666" textLength="17.2" lengthAdjust="spacingAndGlyphs">AACGCATTTC</text><rect x="375.90" y="346.80" width="17.7" height="4.6" fill="#f2a8ac"/><rect x="377.47" y="346.80" width="0.4" height="4.6" fill="#f6c2c4"/><rect x="379.24" y="346.80" width="0.4" height="4.6" fill="#f6c2c4"/><rect x="381.01" y="346.80" width="0.4" height="4.6" fill="#f6c2c4"/><rect x="382.78" y="346.80" width="0.4" height="4.6" fill="#f6c2c4"/><rect x="384.55" y="346.80" width="0.4" height="4.6" fill="#f6c2c4"/><rect x="386.32" y="346.80" width="0.4" height="4.6" fill="#f6c2c4"/><rect x="388.09" y="346.80" width="0.4" height="4.6" fill="#f6c2c4"/><rect x="389.86" y="346.80" width="0.4" height="4.6" fill="#f6c2c4"/><rect x="391.63" y="346.80" width="0.4" height="4.6" fill="#f6c2c4"/><text transform="translate(375.95,358.40) scale(1,2.7)" font-size="2.5" fill="#ec9a9a" font-weight="bold">A</text><text transform="translate(377.72,358.40) scale(1,2.7)" font-size="2.5" fill="#ec9a9a" font-weight="bold">A</text><text transform="translate(379.49,358.40) scale(1,2.7)" font-size="2.5" fill="#9a9aee" font-weight="bold">C</text><text transform="translate(381.26,358.40) scale(1,2.7)" font-size="2.5" fill="#d8d890" font-weight="bold">G</text><text transform="translate(383.03,358.40) scale(1,2.7)" font-size="2.5" fill="#9a9aee" font-weight="bold">C</text><text transform="translate(384.80,358.40) scale(1,2.7)" font-size="2.5" fill="#ec9a9a" font-weight="bold">A</text><text transform="translate(386.57,358.40) scale(1,2.7)" font-size="2.5" fill="#94dc94" font-weight="bold">T</text><text transform="translate(388.34,358.40) scale(1,2.7)" font-size="2.5" fill="#94dc94" font-weight="bold">T</text><text transform="translate(390.11,358.40) scale(1,2.7)" font-size="2.5" fill="#94dc94" font-weight="bold">T</text><text transform="translate(391.88,358.40) scale(1,2.7)" font-size="2.5" fill="#9a9aee" font-weight="bold">C</text><rect x="395.50" y="338.00" width="1.82" height="5.2" fill="#c8c020"/><rect x="397.27" y="338.00" width="1.82" height="5.2" fill="#c8c020"/><rect x="399.04" y="338.00" width="1.82" height="5.2" fill="#c8c020"/><rect x="400.81" y="338.00" width="1.82" height="5.2" fill="#2828d8"/><rect x="402.58" y="338.00" width="1.82" height="5.2" fill="#c8c020"/><rect x="404.35" y="338.00" width="1.82" height="5.2" fill="#28b028"/><rect x="406.12" y="338.00" width="1.82" height="5.2" fill="#2828d8"/><rect x="407.89" y="338.00" width="1.82" height="5.2" fill="#2828d8"/><rect x="409.66" y="338.00" width="1.82" height="5.2" fill="#2828d8"/><rect x="411.43" y="338.00" width="1.82" height="5.2" fill="#e02828"/><text x="395.70" y="345.80" font-size="2.4" fill="#666" textLength="17.2" lengthAdjust="spacingAndGlyphs">GGGCGTCCCA</text><rect x="395.50" y="346.80" width="17.7" height="4.6" fill="#f2a8ac"/><rect x="397.07" y="346.80" width="0.4" height="4.6" fill="#f6c2c4"/><rect x="398.84" y="346.80" width="0.4" height="4.6" fill="#f6c2c4"/><rect x="400.61" y="346.80" width="0.4" height="4.6" fill="#f6c2c4"/><rect x="402.38" y="346.80" width="0.4" height="4.6" fill="#f6c2c4"/><rect x="404.15" y="346.80" width="0.4" height="4.6" fill="#f6c2c4"/><rect x="405.92" y="346.80" width="0.4" height="4.6" fill="#f6c2c4"/><rect x="407.69" y="346.80" width="0.4" height="4.6" fill="#f6c2c4"/><rect x="409.46" y="346.80" width="0.4" height="4.6" fill="#f6c2c4"/><rect x="411.23" y="346.80" width="0.4" height="4.6" fill="#f6c2c4"/><text transform="translate(395.55,358.40) scale(1,2.7)" font-size="2.5" fill="#d8d890" font-weight="bold">G</text><text transform="translate(397.32,358.40) scale(1,2.7)" font-size="2.5" fill="#d8d890" font-weight="bold">G</text><text transform="translate(399.09,358.40) scale(1,2.7)" font-size="2.5" fill="#d8d890" font-weight="bold">G</text><text transform="translate(400.86,358.40) scale(1,2.7)" font-size="2.5" fill="#9a9aee" font-weight="bold">C</text><text transform="translate(402.63,358.40) scale(1,2.7)" font-size="2.5" fill="#d8d890" font-weight="bold">G</text><text transform="translate(404.40,358.40) scale(1,2.7)" font-size="2.5" fill="#94dc94" font-weight="bold">T</text><text transform="translate(406.17,358.40) scale(1,2.7)" font-size="2.5" fill="#9a9aee" font-weight="bold">C</text><text transform="translate(407.94,358.40) scale(1,2.7)" font-size="2.5" fill="#9a9aee" font-weight="bold">C</text><text transform="translate(409.71,358.40) scale(1,2.7)" font-size="2.5" fill="#9a9aee" font-weight="bold">C</text><text transform="translate(411.48,358.40) scale(1,2.7)" font-size="2.5" fill="#ec9a9a" font-weight="bold">A</text><text x="412.50" y="337.20" font-size="2.0" fill="#555">1360</text><rect x="415.10" y="338.00" width="1.82" height="5.2" fill="#c8c020"/><rect x="416.87" y="338.00" width="1.82" height="5.2" fill="#e02828"/><rect x="418.64" y="338.00" width="1.82" height="5.2" fill="#c8c020"/><rect x="420.41" y="338.00" width="1.82" height="5.2" fill="#28b028"/><rect x="422.18" y="338.00" width="1.82" height="5.2" fill="#28b028"/><rect x="423.95" y="338.00" width="1.82" height="5.2" fill="#e02828"/><rect x="425.72" y="338.00" width="1.82" height="5.2" fill="#c8c020"/><rect x="427.49" y="338.00" width="1.82" height="5.2" fill="#c8c020"/><rect x="429.26" y="338.00" width="1.82" height="5.2" fill="#2828d8"/><rect x="431.03" y="338.00" width="1.82" height="5.2" fill="#28b028"/><text x="415.30" y="345.80" font-size="2.4" fill="#666" textLength="17.2" lengthAdjust="spacingAndGlyphs">GAGTTAGGCT</text><rect x="415.10" y="346.80" width="17.7" height="4.6" fill="#f2a8ac"/><rect x="416.67" y="346.80" width="0.4" height="4.6" fill="#f6c2c4"/><rect x="418.44" y="346.80" width="0.4" height="4.6" fill="#f6c2c4"/><rect x="420.21" y="346.80" width="0.4" height="4.6" fill="#f6c2c4"/><rect x="421.98" y="346.80" width="0.4" height="4.6" fill="#f6c2c4"/><rect x="423.75" y="346.80" width="0.4" height="4.6" fill="#f6c2c4"/><rect x="425.52" y="346.80" width="0.4" height="4.6" fill="#f6c2c4"/><rect x="427.29" y="346.80" width="0.4" height="4.6" fill="#f6c2c4"/><rect x="429.06" y="346.80" width="0.4" height="4.6" fill="#f6c2c4"/><rect x="430.83" y="346.80" width="0.4" height="4.6" fill="#f6c2c4"/><text transform="translate(415.15,358.40) scale(1,2.7)" font-size="2.5" fill="#d8d890" font-weight="bold">G</text><text transform="translate(416.92,358.40) scale(1,2.7)" font-size="2.5" fill="#ec9a9a" font-weight="bold">A</text><text transform="translate(418.69,358.40) scale(1,2.7)" font-size="2.5" fill="#d8d890" font-weight="bold">G</text><text transform="translate(420.46,358.40) scale(1,2.7)" font-size="2.5" fill="#94dc94" font-weight="bold">T</text><text transform="translate(422.23,358.40) scale(1,2.7)" font-size="2.5" fill="#94dc94" font-weight="bold">T</text><text transform="translate(424.00,358.40) scale(1,2.7)" font-size="2.5" fill="#ec9a9a" font-weight="bold">A</text><text transform="translate(425.77,358.40) scale(1,2.7)" font-size="2.5" fill="#d8d890" font-weight="bold">G</text><text transform="translate(427.54,358.40) scale(1,2.7)" font-size="2.5" fill="#d8d890" font-weight="bold">G</text><text transform="translate(429.31,358.40) scale(1,2.7)" font-size="2.5" fill="#9a9aee" font-weight="bold">C</text><text transform="translate(431.08,358.40) scale(1,2.7)" font-size="2.5" fill="#94dc94" font-weight="bold">T</text><rect x="434.70" y="338.00" width="1.82" height="5.2" fill="#28b028"/><rect x="436.47" y="338.00" width="1.82" height="5.2" fill="#2828d8"/><rect x="438.24" y="338.00" width="1.82" height="5.2" fill="#2828d8"/><rect x="440.01" y="338.00" width="1.82" height="5.2" fill="#c8c020"/><rect x="441.78" y="338.00" width="1.82" height="5.2" fill="#2828d8"/><rect x="443.55" y="338.00" width="1.82" height="5.2" fill="#c8c020"/><rect x="445.32" y="338.00" width="1.82" height="5.2" fill="#e02828"/><rect x="447.09" y="338.00" width="1.82" height="5.2" fill="#c8c020"/><rect x="448.86" y="338.00" width="1.82" height="5.2" fill="#c8c020"/><rect x="450.63" y="338.00" width="1.82" height="5.2" fill="#e02828"/><text x="434.90" y="345.80" font-size="2.4" fill="#666" textLength="17.2" lengthAdjust="spacingAndGlyphs">TCCGCGAGGA</text><rect x="434.70" y="346.80" width="17.7" height="4.6" fill="#f2a8ac"/><rect x="436.27" y="346.80" width="0.4" height="4.6" fill="#f6c2c4"/><rect x="438.04" y="346.80" width="0.4" height="4.6" fill="#f6c2c4"/><rect x="439.81" y="346.80" width="0.4" height="4.6" fill="#f6c2c4"/><rect x="441.58" y="346.80" width="0.4" height="4.6" fill="#f6c2c4"/><rect x="443.35" y="346.80" width="0.4" height="4.6" fill="#f6c2c4"/><rect x="445.12" y="346.80" width="0.4" height="4.6" fill="#f6c2c4"/><rect x="446.89" y="346.80" width="0.4" height="4.6" fill="#f6c2c4"/><rect x="448.66" y="346.80" width="0.4" height="4.6" fill="#f6c2c4"/><rect x="450.43" y="346.80" width="0.4" height="4.6" fill="#f6c2c4"/><text transform="translate(434.75,358.40) scale(1,2.7)" font-size="2.5" fill="#94dc94" font-weight="bold">T</text><text transform="translate(436.52,358.40) scale(1,2.7)" font-size="2.5" fill="#9a9aee" font-weight="bold">C</text><text transform="translate(438.29,358.40) scale(1,2.7)" font-size="2.5" fill="#9a9aee" font-weight="bold">C</text><text transform="translate(440.06,358.40) scale(1,2.7)" font-size="2.5" fill="#d8d890" font-weight="bold">G</text><text transform="translate(441.83,358.40) scale(1,2.7)" font-size="2.5" fill="#9a9aee" font-weight="bold">C</text><text transform="translate(443.60,358.40) scale(1,2.7)" font-size="2.5" fill="#d8d890" font-weight="bold">G</text><text transform="translate(445.37,358.40) scale(1,2.7)" font-size="2.5" fill="#ec9a9a" font-weight="bold">A</text><text transform="translate(447.14,358.40) scale(1,2.7)" font-size="2.5" fill="#d8d890" font-weight="bold">G</text><text transform="translate(448.91,358.40) scale(1,2.7)" font-size="2.5" fill="#d8d890" font-weight="bold">G</text><text transform="translate(450.68,358.40) scale(1,2.7)" font-size="2.5" fill="#ec9a9a" font-weight="bold">A</text><text x="451.70" y="337.20" font-size="2.0" fill="#555">1400</text><rect x="454.30" y="338.00" width="1.82" height="5.2" fill="#2828d8"/><rect x="456.07" y="338.00" width="1.82" height="5.2" fill="#e02828"/><rect x="457.84" y="338.00" width="1.82" height="5.2" fill="#28b028"/><rect x="459.61" y="338.00" width="1.82" height="5.2" fill="#2828d8"/><rect x="461.38" y="338.00" width="1.82" height="5.2" fill="#c8c020"/><rect x="463.15" y="338.00" width="1.82" height="5.2" fill="#2828d8"/><rect x="464.92" y="338.00" width="1.82" height="5.2" fill="#2828d8"/><rect x="466.69" y="338.00" width="1.82" height="5.2" fill="#28b028"/><rect x="468.46" y="338.00" width="1.82" height="5.2" fill="#2828d8"/><rect x="470.23" y="338.00" width="1.82" height="5.2" fill="#2828d8"/><text x="454.50" y="345.80" font-size="2.4" fill="#666" textLength="17.2" lengthAdjust="spacingAndGlyphs">CATCGCCTCC</text><rect x="454.30" y="346.80" width="17.7" height="4.6" fill="#f2a8ac"/><rect x="455.87" y="346.80" width="0.4" height="4.6" fill="#f6c2c4"/><rect x="457.64" y="346.80" width="0.4" height="4.6" fill="#f6c2c4"/><rect x="459.41" y="346.80" width="0.4" height="4.6" fill="#f6c2c4"/><rect x="461.18" y="346.80" width="0.4" height="4.6" fill="#f6c2c4"/><rect x="462.95" y="346.80" width="0.4" height="4.6" fill="#f6c2c4"/><rect x="464.72" y="346.80" width="0.4" height="4.6" fill="#f6c2c4"/><rect x="466.49" y="346.80" width="0.4" height="4.6" fill="#f6c2c4"/><rect x="468.26" y="346.80" width="0.4" height="4.6" fill="#f6c2c4"/><rect x="470.03" y="346.80" width="0.4" height="4.6" fill="#f6c2c4"/><text transform="translate(454.35,358.40) scale(1,2.7)" font-size="2.5" fill="#9a9aee" font-weight="bold">C</text><text transform="translate(456.12,358.40) scale(1,2.7)" font-size="2.5" fill="#ec9a9a" font-weight="bold">A</text><text transform="translate(457.89,358.40) scale(1,2.7)" font-size="2.5" fill="#94dc94" font-weight="bold">T</text><text transform="translate(459.66,358.40) scale(1,2.7)" font-size="2.5" fill="#9a9aee" font-weight="bold">C</text><text transform="translate(461.43,358.40) scale(1,2.7)" font-size="2.5" fill="#d8d890" font-weight="bold">G</text><text transform="translate(463.20,358.40) scale(1,2.7)" font-size="2.5" fill="#9a9aee" font-weight="bold">C</text><text transform="translate(464.97,358.40) scale(1,2.7)" font-size="2.5" fill="#9a9aee" font-weight="bold">C</text><text transform="translate(466.74,358.40) scale(1,2.7)" font-size="2.5" fill="#94dc94" font-weight="bold">T</text><text transform="translate(468.51,358.40) scale(1,2.7)" font-size="2.5" fill="#9a9aee" font-weight="bold">C</text><text transform="translate(470.28,358.40) scale(1,2.7)" font-size="2.5" fill="#9a9aee" font-weight="bold">C</text><rect x="473.90" y="338.00" width="1.82" height="5.2" fill="#28b028"/><rect x="475.67" y="338.00" width="1.82" height="5.2" fill="#e02828"/><rect x="477.44" y="338.00" width="1.82" height="5.2" fill="#e02828"/><rect x="479.21" y="338.00" width="1.82" height="5.2" fill="#c8c020"/><rect x="480.98" y="338.00" width="1.82" height="5.2" fill="#28b028"/><rect x="482.75" y="338.00" width="1.82" height="5.2" fill="#c8c020"/><rect x="484.52" y="338.00" width="1.82" height="5.2" fill="#e02828"/><rect x="486.29" y="338.00" width="1.82" height="5.2" fill="#c8c020"/><rect x="488.06" y="338.00" width="1.82" height="5.2" fill="#28b028"/><rect x="489.83" y="338.00" width="1.82" height="5.2" fill="#28b028"/><text x="474.10" y="345.80" font-size="2.4" fill="#666" textLength="17.2" lengthAdjust="spacingAndGlyphs">TAAGTGAGTT</text><rect x="473.90" y="346.80" width="17.7" height="4.6" fill="#f2a8ac"/><rect x="475.47" y="346.80" width="0.4" height="4.6" fill="#f6c2c4"/><rect x="477.24" y="346.80" width="0.4" height="4.6" fill="#f6c2c4"/><rect x="479.01" y="346.80" width="0.4" height="4.6" fill="#f6c2c4"/><rect x="480.78" y="346.80" width="0.4" height="4.6" fill="#f6c2c4"/><rect x="482.55" y="346.80" width="0.4" height="4.6" fill="#f6c2c4"/><rect x="484.32" y="346.80" width="0.4" height="4.6" fill="#f6c2c4"/><rect x="486.09" y="346.80" width="0.4" height="4.6" fill="#f6c2c4"/><rect x="487.86" y="346.80" width="0.4" height="4.6" fill="#f6c2c4"/><rect x="489.63" y="346.80" width="0.4" height="4.6" fill="#f6c2c4"/><text transform="translate(473.95,358.40) scale(1,2.7)" font-size="2.5" fill="#94dc94" font-weight="bold">T</text><text transform="translate(475.72,358.40) scale(1,2.7)" font-size="2.5" fill="#ec9a9a" font-weight="bold">A</text><text transform="translate(477.49,358.40) scale(1,2.7)" font-size="2.5" fill="#ec9a9a" font-weight="bold">A</text><text transform="translate(479.26,358.40) scale(1,2.7)" font-size="2.5" fill="#d8d890" font-weight="bold">G</text><text transform="translate(481.03,358.40) scale(1,2.7)" font-size="2.5" fill="#94dc94" font-weight="bold">T</text><text transform="translate(482.80,358.40) scale(1,2.7)" font-size="2.5" fill="#d8d890" font-weight="bold">G</text><text transform="translate(484.57,358.40) scale(1,2.7)" font-size="2.5" fill="#ec9a9a" font-weight="bold">A</text><text transform="translate(486.34,358.40) scale(1,2.7)" font-size="2.5" fill="#d8d890" font-weight="bold">G</text><text transform="translate(488.11,358.40) scale(1,2.7)" font-size="2.5" fill="#94dc94" font-weight="bold">T</text><text transform="translate(489.88,358.40) scale(1,2.7)" font-size="2.5" fill="#94dc94" font-weight="bold">T</text><text x="490.90" y="337.20" font-size="2.0" fill="#555">1440</text><rect x="493.50" y="338.00" width="1.82" height="5.2" fill="#28b028"/><rect x="495.27" y="338.00" width="1.82" height="5.2" fill="#2828d8"/><rect x="497.04" y="338.00" width="1.82" height="5.2" fill="#e02828"/><rect x="498.81" y="338.00" width="1.82" height="5.2" fill="#2828d8"/><rect x="500.58" y="338.00" width="1.82" height="5.2" fill="#e02828"/><rect x="502.35" y="338.00" width="1.82" height="5.2" fill="#c8c020"/><rect x="504.12" y="338.00" width="1.82" height="5.2" fill="#c8c020"/><rect x="505.89" y="338.00" width="1.82" height="5.2" fill="#2828d8"/><rect x="507.66" y="338.00" width="1.82" height="5.2" fill="#28b028"/><rect x="509.43" y="338.00" width="1.82" height="5.2" fill="#2828d8"/><text x="493.70" y="345.80" font-size="2.4" fill="#666" textLength="17.2" lengthAdjust="spacingAndGlyphs">TCACAGGCTC</text><rect x="493.50" y="346.80" width="17.7" height="4.6" fill="#f2a8ac"/><rect x="495.07" y="346.80" width="0.4" height="4.6" fill="#f6c2c4"/><rect x="496.84" y="346.80" width="0.4" height="4.6" fill="#f6c2c4"/><rect x="498.61" y="346.80" width="0.4" height="4.6" fill="#f6c2c4"/><rect x="500.38" y="346.80" width="0.4" height="4.6" fill="#f6c2c4"/><rect x="502.15" y="346.80" width="0.4" height="4.6" fill="#f6c2c4"/><rect x="503.92" y="346.80" width="0.4" height="4.6" fill="#f6c2c4"/><rect x="505.69" y="346.80" width="0.4" height="4.6" fill="#f6c2c4"/><rect x="507.46" y="346.80" width="0.4" height="4.6" fill="#f6c2c4"/><rect x="509.23" y="346.80" width="0.4" height="4.6" fill="#f6c2c4"/><text transform="translate(493.55,358.40) scale(1,2.7)" font-size="2.5" fill="#94dc94" font-weight="bold">T</text><text transform="translate(495.32,358.40) scale(1,2.7)" font-size="2.5" fill="#9a9aee" font-weight="bold">C</text><text transform="translate(497.09,358.40) scale(1,2.7)" font-size="2.5" fill="#ec9a9a" font-weight="bold">A</text><text transform="translate(498.86,358.40) scale(1,2.7)" font-size="2.5" fill="#9a9aee" font-weight="bold">C</text><text transform="translate(500.63,358.40) scale(1,2.7)" font-size="2.5" fill="#ec9a9a" font-weight="bold">A</text><text transform="translate(502.40,358.40) scale(1,2.7)" font-size="2.5" fill="#d8d890" font-weight="bold">G</text><text transform="translate(504.17,358.40) scale(1,2.7)" font-size="2.5" fill="#d8d890" font-weight="bold">G</text><text transform="translate(505.94,358.40) scale(1,2.7)" font-size="2.5" fill="#9a9aee" font-weight="bold">C</text><text transform="translate(507.71,358.40) scale(1,2.7)" font-size="2.5" fill="#94dc94" font-weight="bold">T</text><text transform="translate(509.48,358.40) scale(1,2.7)" font-size="2.5" fill="#9a9aee" font-weight="bold">C</text><rect x="513.10" y="338.00" width="1.82" height="5.2" fill="#e02828"/><rect x="514.87" y="338.00" width="1.82" height="5.2" fill="#c8c020"/><rect x="516.64" y="338.00" width="1.82" height="5.2" fill="#2828d8"/><rect x="518.41" y="338.00" width="1.82" height="5.2" fill="#2828d8"/><rect x="520.18" y="338.00" width="1.82" height="5.2" fill="#e02828"/><rect x="521.95" y="338.00" width="1.82" height="5.2" fill="#e02828"/><rect x="523.72" y="338.00" width="1.82" height="5.2" fill="#2828d8"/><rect x="525.49" y="338.00" width="1.82" height="5.2" fill="#c8c020"/><rect x="527.26" y="338.00" width="1.82" height="5.2" fill="#c8c020"/><rect x="529.03" y="338.00" width="1.82" height="5.2" fill="#2828d8"/><text x="513.30" y="345.80" font-size="2.4" fill="#666" textLength="17.2" lengthAdjust="spacingAndGlyphs">AGCCAACGGC</text><rect x="513.10" y="346.80" width="17.7" height="4.6" fill="#f2a8ac"/><rect x="514.67" y="346.80" width="0.4" height="4.6" fill="#f6c2c4"/><rect x="516.44" y="346.80" width="0.4" height="4.6" fill="#f6c2c4"/><rect x="518.21" y="346.80" width="0.4" height="4.6" fill="#f6c2c4"/><rect x="519.98" y="346.80" width="0.4" height="4.6" fill="#f6c2c4"/><rect x="521.75" y="346.80" width="0.4" height="4.6" fill="#f6c2c4"/><rect x="523.52" y="346.80" width="0.4" height="4.6" fill="#f6c2c4"/><rect x="525.29" y="346.80" width="0.4" height="4.6" fill="#f6c2c4"/><rect x="527.06" y="346.80" width="0.4" height="4.6" fill="#f6c2c4"/><rect x="528.83" y="346.80" width="0.4" height="4.6" fill="#f6c2c4"/><text transform="translate(513.15,358.40) scale(1,2.7)" font-size="2.5" fill="#ec9a9a" font-weight="bold">A</text><text transform="translate(514.92,358.40) scale(1,2.7)" font-size="2.5" fill="#d8d890" font-weight="bold">G</text><text transform="translate(516.69,358.40) scale(1,2.7)" font-size="2.5" fill="#9a9aee" font-weight="bold">C</text><text transform="translate(518.46,358.40) scale(1,2.7)" font-size="2.5" fill="#9a9aee" font-weight="bold">C</text><text transform="translate(520.23,358.40) scale(1,2.7)" font-size="2.5" fill="#ec9a9a" font-weight="bold">A</text><text transform="translate(522.00,358.40) scale(1,2.7)" font-size="2.5" fill="#ec9a9a" font-weight="bold">A</text><text transform="translate(523.77,358.40) scale(1,2.7)" font-size="2.5" fill="#9a9aee" font-weight="bold">C</text><text transform="translate(525.54,358.40) scale(1,2.7)" font-size="2.5" fill="#d8d890" font-weight="bold">G</text><text transform="translate(527.31,358.40) scale(1,2.7)" font-size="2.5" fill="#d8d890" font-weight="bold">G</text><text transform="translate(529.08,358.40) scale(1,2.7)" font-size="2.5" fill="#9a9aee" font-weight="bold">C</text><text x="530.10" y="337.20" font-size="2.0" fill="#555">1480</text>
<text x="373.70" y="364.70" font-size="2.3" fill="#222"   text-anchor="end" text-rendering="geometricPrecision" textLength="21.5" lengthAdjust="spacingAndGlyphs">AAV9_hEPO_Genome</text>
<text x="373.70" y="367.50" font-size="2.3" fill="#222"   text-anchor="end" text-rendering="geometricPrecision" textLength="40.2" lengthAdjust="spacingAndGlyphs">AAV9_hEPO_DBS_pooled_DNA_selection</text>
<text x="373.70" y="370.70" font-size="2.2" fill="#333"   text-anchor="end" text-rendering="geometricPrecision" >Consensus</text>
<text x="373.70" y="372.50" font-size="1.6" fill="#666"   text-anchor="end" text-rendering="geometricPrecision" >100%</text>
<text x="373.70" y="375.50" font-size="2.2" fill="#333"   text-anchor="end" text-rendering="geometricPrecision" >Conservation</text>
<text x="373.70" y="377.90" font-size="1.6" fill="#666"   text-anchor="end" text-rendering="geometricPrecision" >0%</text>
<text x="373.70" y="381.30" font-size="2.2" fill="#333"   text-anchor="end" text-rendering="geometricPrecision" >Sequence logo</text>
<text x="373.70" y="383.10" font-size="1.6" fill="#666"   text-anchor="end" text-rendering="geometricPrecision" >2.0bits</text>
<text x="537.40" y="364.70" font-size="2.4" fill="#333"   text-anchor="end" text-rendering="geometricPrecision" >1870</text>
<text x="537.40" y="367.40" font-size="2.4" fill="#333"   text-anchor="end" text-rendering="geometricPrecision" >1870</text>
<rect x="375.90" y="362.70" width="1.82" height="5.2" fill="#c8c020"/><rect x="377.67" y="362.70" width="1.82" height="5.2" fill="#c8c020"/><rect x="379.44" y="362.70" width="1.82" height="5.2" fill="#28b028"/><rect x="381.21" y="362.70" width="1.82" height="5.2" fill="#e02828"/><rect x="382.98" y="362.70" width="1.82" height="5.2" fill="#e02828"/><rect x="384.75" y="362.70" width="1.82" height="5.2" fill="#28b028"/><rect x="386.52" y="362.70" width="1.82" height="5.2" fill="#2828d8"/><rect x="388.29" y="362.70" width="1.82" height="5.2" fill="#28b028"/><rect x="390.06" y="362.70" width="1.82" height="5.2" fill="#28b028"/><rect x="391.83" y="362.70" width="1.82" height="5.2" fill="#e02828"/><text x="376.10" y="370.50" font-size="2.4" fill="#666" textLength="17.2" lengthAdjust="spacingAndGlyphs">GGTAATCTTA</text><rect x="375.90" y="371.50" width="17.7" height="4.6" fill="#f2a8ac"/><rect x="377.47" y="371.50" width="0.4" height="4.6" fill="#f6c2c4"/><rect x="379.24" y="371.50" width="0.4" height="4.6" fill="#f6c2c4"/><rect x="381.01" y="371.50" width="0.4" height="4.6" fill="#f6c2c4"/><rect x="382.78" y="371.50" width="0.4" height="4.6" fill="#f6c2c4"/><rect x="384.55" y="371.50" width="0.4" height="4.6" fill="#f6c2c4"/><rect x="386.32" y="371.50" width="0.4" height="4.6" fill="#f6c2c4"/><rect x="388.09" y="371.50" width="0.4" height="4.6" fill="#f6c2c4"/><rect x="389.86" y="371.50" width="0.4" height="4.6" fill="#f6c2c4"/><rect x="391.63" y="371.50" width="0.4" height="4.6" fill="#f6c2c4"/><text transform="translate(375.95,383.10) scale(1,2.7)" font-size="2.5" fill="#d8d890" font-weight="bold">G</text><text transform="translate(377.72,383.10) scale(1,2.7)" font-size="2.5" fill="#d8d890" font-weight="bold">G</text><text transform="translate(379.49,383.10) scale(1,2.7)" font-size="2.5" fill="#94dc94" font-weight="bold">T</text><text transform="translate(381.26,383.10) scale(1,2.7)" font-size="2.5" fill="#ec9a9a" font-weight="bold">A</text><text transform="translate(383.03,383.10) scale(1,2.7)" font-size="2.5" fill="#ec9a9a" font-weight="bold">A</text><text transform="translate(384.80,383.10) scale(1,2.7)" font-size="2.5" fill="#94dc94" font-weight="bold">T</text><text transform="translate(386.57,383.10) scale(1,2.7)" font-size="2.5" fill="#9a9aee" font-weight="bold">C</text><text transform="translate(388.34,383.10) scale(1,2.7)" font-size="2.5" fill="#94dc94" font-weight="bold">T</text><text transform="translate(390.11,383.10) scale(1,2.7)" font-size="2.5" fill="#94dc94" font-weight="bold">T</text><text transform="translate(391.88,383.10) scale(1,2.7)" font-size="2.5" fill="#ec9a9a" font-weight="bold">A</text><rect x="395.50" y="362.70" width="1.82" height="5.2" fill="#c8c020"/><rect x="397.27" y="362.70" width="1.82" height="5.2" fill="#2828d8"/><rect x="399.04" y="362.70" width="1.82" height="5.2" fill="#2828d8"/><rect x="400.81" y="362.70" width="1.82" height="5.2" fill="#2828d8"/><rect x="402.58" y="362.70" width="1.82" height="5.2" fill="#28b028"/><rect x="404.35" y="362.70" width="1.82" height="5.2" fill="#2828d8"/><rect x="406.12" y="362.70" width="1.82" height="5.2" fill="#28b028"/><rect x="407.89" y="362.70" width="1.82" height="5.2" fill="#e02828"/><rect x="409.66" y="362.70" width="1.82" height="5.2" fill="#28b028"/><rect x="411.43" y="362.70" width="1.82" height="5.2" fill="#2828d8"/><text x="395.70" y="370.50" font-size="2.4" fill="#666" textLength="17.2" lengthAdjust="spacingAndGlyphs">GCCCTCTATC</text><rect x="395.50" y="371.50" width="17.7" height="4.6" fill="#f2a8ac"/><rect x="397.07" y="371.50" width="0.4" height="4.6" fill="#f6c2c4"/><rect x="398.84" y="371.50" width="0.4" height="4.6" fill="#f6c2c4"/><rect x="400.61" y="371.50" width="0.4" height="4.6" fill="#f6c2c4"/><rect x="402.38" y="371.50" width="0.4" height="4.6" fill="#f6c2c4"/><rect x="404.15" y="371.50" width="0.4" height="4.6" fill="#f6c2c4"/><rect x="405.92" y="371.50" width="0.4" height="4.6" fill="#f6c2c4"/><rect x="407.69" y="371.50" width="0.4" height="4.6" fill="#f6c2c4"/><rect x="409.46" y="371.50" width="0.4" height="4.6" fill="#f6c2c4"/><rect x="411.23" y="371.50" width="0.4" height="4.6" fill="#f6c2c4"/><text transform="translate(395.55,383.10) scale(1,2.7)" font-size="2.5" fill="#d8d890" font-weight="bold">G</text><text transform="translate(397.32,383.10) scale(1,2.7)" font-size="2.5" fill="#9a9aee" font-weight="bold">C</text><text transform="translate(399.09,383.10) scale(1,2.7)" font-size="2.5" fill="#9a9aee" font-weight="bold">C</text><text transform="translate(400.86,383.10) scale(1,2.7)" font-size="2.5" fill="#9a9aee" font-weight="bold">C</text><text transform="translate(402.63,383.10) scale(1,2.7)" font-size="2.5" fill="#94dc94" font-weight="bold">T</text><text transform="translate(404.40,383.10) scale(1,2.7)" font-size="2.5" fill="#9a9aee" font-weight="bold">C</text><text transform="translate(406.17,383.10) scale(1,2.7)" font-size="2.5" fill="#94dc94" font-weight="bold">T</text><text transform="translate(407.94,383.10) scale(1,2.7)" font-size="2.5" fill="#ec9a9a" font-weight="bold">A</text><text transform="translate(409.71,383.10) scale(1,2.7)" font-size="2.5" fill="#94dc94" font-weight="bold">T</text><text transform="translate(411.48,383.10) scale(1,2.7)" font-size="2.5" fill="#9a9aee" font-weight="bold">C</text><text x="412.50" y="361.90" font-size="2.0" fill="#555">1520</text><rect x="415.10" y="362.70" width="1.82" height="5.2" fill="#c8c020"/><rect x="416.87" y="362.70" width="1.82" height="5.2" fill="#28b028"/><rect x="418.64" y="362.70" width="1.82" height="5.2" fill="#28b028"/><rect x="420.41" y="362.70" width="1.82" height="5.2" fill="#2828d8"/><rect x="422.18" y="362.70" width="1.82" height="5.2" fill="#e02828"/><rect x="423.95" y="362.70" width="1.82" height="5.2" fill="#28b028"/><rect x="425.72" y="362.70" width="1.82" height="5.2" fill="#c8c020"/><rect x="427.49" y="362.70" width="1.82" height="5.2" fill="#c8c020"/><rect x="429.26" y="362.70" width="1.82" height="5.2" fill="#c8c020"/><rect x="431.03" y="362.70" width="1.82" height="5.2" fill="#c8c020"/><text x="415.30" y="370.50" font-size="2.4" fill="#666" textLength="17.2" lengthAdjust="spacingAndGlyphs">GTTCATGGGG</text><rect x="415.10" y="371.50" width="17.7" height="4.6" fill="#f2a8ac"/><rect x="416.67" y="371.50" width="0.4" height="4.6" fill="#f6c2c4"/><rect x="418.44" y="371.50" width="0.4" height="4.6" fill="#f6c2c4"/><rect x="420.21" y="371.50" width="0.4" height="4.6" fill="#f6c2c4"/><rect x="421.98" y="371.50" width="0.4" height="4.6" fill="#f6c2c4"/><rect x="423.75" y="371.50" width="0.4" height="4.6" fill="#f6c2c4"/><rect x="425.52" y="371.50" width="0.4" height="4.6" fill="#f6c2c4"/><rect x="427.29" y="371.50" width="0.4" height="4.6" fill="#f6c2c4"/><rect x="429.06" y="371.50" width="0.4" height="4.6" fill="#f6c2c4"/><rect x="430.83" y="371.50" width="0.4" height="4.6" fill="#f6c2c4"/><text transform="translate(415.15,383.10) scale(1,2.7)" font-size="2.5" fill="#d8d890" font-weight="bold">G</text><text transform="translate(416.92,383.10) scale(1,2.7)" font-size="2.5" fill="#94dc94" font-weight="bold">T</text><text transform="translate(418.69,383.10) scale(1,2.7)" font-size="2.5" fill="#94dc94" font-weight="bold">T</text><text transform="translate(420.46,383.10) scale(1,2.7)" font-size="2.5" fill="#9a9aee" font-weight="bold">C</text><text transform="translate(422.23,383.10) scale(1,2.7)" font-size="2.5" fill="#ec9a9a" font-weight="bold">A</text><text transform="translate(424.00,383.10) scale(1,2.7)" font-size="2.5" fill="#94dc94" font-weight="bold">T</text><text transform="translate(425.77,383.10) scale(1,2.7)" font-size="2.5" fill="#d8d890" font-weight="bold">G</text><text transform="translate(427.54,383.10) scale(1,2.7)" font-size="2.5" fill="#d8d890" font-weight="bold">G</text><text transform="translate(429.31,383.10) scale(1,2.7)" font-size="2.5" fill="#d8d890" font-weight="bold">G</text><text transform="translate(431.08,383.10) scale(1,2.7)" font-size="2.5" fill="#d8d890" font-weight="bold">G</text><rect x="434.70" y="362.70" width="1.82" height="5.2" fill="#e02828"/><rect x="436.47" y="362.70" width="1.82" height="5.2" fill="#2828d8"/><rect x="438.24" y="362.70" width="1.82" height="5.2" fill="#e02828"/><rect x="440.01" y="362.70" width="1.82" height="5.2" fill="#28b028"/><rect x="441.78" y="362.70" width="1.82" height="5.2" fill="#c8c020"/><rect x="443.55" y="362.70" width="1.82" height="5.2" fill="#e02828"/><rect x="445.32" y="362.70" width="1.82" height="5.2" fill="#2828d8"/><rect x="447.09" y="362.70" width="1.82" height="5.2" fill="#e02828"/><rect x="448.86" y="362.70" width="1.82" height="5.2" fill="#2828d8"/><rect x="450.63" y="362.70" width="1.82" height="5.2" fill="#28b028"/><text x="434.90" y="370.50" font-size="2.4" fill="#666" textLength="17.2" lengthAdjust="spacingAndGlyphs">ACATGACACT</text><rect x="434.70" y="371.50" width="17.7" height="4.6" fill="#f2a8ac"/><rect x="436.27" y="371.50" width="0.4" height="4.6" fill="#f6c2c4"/><rect x="438.04" y="371.50" width="0.4" height="4.6" fill="#f6c2c4"/><rect x="439.81" y="371.50" width="0.4" height="4.6" fill="#f6c2c4"/><rect x="441.58" y="371.50" width="0.4" height="4.6" fill="#f6c2c4"/><rect x="443.35" y="371.50" width="0.4" height="4.6" fill="#f6c2c4"/><rect x="445.12" y="371.50" width="0.4" height="4.6" fill="#f6c2c4"/><rect x="446.89" y="371.50" width="0.4" height="4.6" fill="#f6c2c4"/><rect x="448.66" y="371.50" width="0.4" height="4.6" fill="#f6c2c4"/><rect x="450.43" y="371.50" width="0.4" height="4.6" fill="#f6c2c4"/><text transform="translate(434.75,383.10) scale(1,2.7)" font-size="2.5" fill="#ec9a9a" font-weight="bold">A</text><text transform="translate(436.52,383.10) scale(1,2.7)" font-size="2.5" fill="#9a9aee" font-weight="bold">C</text><text transform="translate(438.29,383.10) scale(1,2.7)" font-size="2.5" fill="#ec9a9a" font-weight="bold">A</text><text transform="translate(440.06,383.10) scale(1,2.7)" font-size="2.5" fill="#94dc94" font-weight="bold">T</text><text transform="translate(441.83,383.10) scale(1,2.7)" font-size="2.5" fill="#d8d890" font-weight="bold">G</text><text transform="translate(443.60,383.10) scale(1,2.7)" font-size="2.5" fill="#ec9a9a" font-weight="bold">A</text><text transform="translate(445.37,383.10) scale(1,2.7)" font-size="2.5" fill="#9a9aee" font-weight="bold">C</text><text transform="translate(447.14,383.10) scale(1,2.7)" font-size="2.5" fill="#ec9a9a" font-weight="bold">A</text><text transform="translate(448.91,383.10) scale(1,2.7)" font-size="2.5" fill="#9a9aee" font-weight="bold">C</text><text transform="translate(450.68,383.10) scale(1,2.7)" font-size="2.5" fill="#94dc94" font-weight="bold">T</text><text x="451.70" y="361.90" font-size="2.0" fill="#555">1560</text><rect x="454.30" y="362.70" width="1.82" height="5.2" fill="#e02828"/><rect x="456.07" y="362.70" width="1.82" height="5.2" fill="#c8c020"/><rect x="457.84" y="362.70" width="1.82" height="5.2" fill="#c8c020"/><rect x="459.61" y="362.70" width="1.82" height="5.2" fill="#c8c020"/><rect x="461.38" y="362.70" width="1.82" height="5.2" fill="#2828d8"/><rect x="463.15" y="362.70" width="1.82" height="5.2" fill="#e02828"/><rect x="464.92" y="362.70" width="1.82" height="5.2" fill="#2828d8"/><rect x="466.69" y="362.70" width="1.82" height="5.2" fill="#28b028"/><rect x="468.46" y="362.70" width="1.82" height="5.2" fill="#c8c020"/><rect x="470.23" y="362.70" width="1.82" height="5.2" fill="#c8c020"/><text x="454.50" y="370.50" font-size="2.4" fill="#666" textLength="17.2" lengthAdjust="spacingAndGlyphs">AGGGCACTGG</text><rect x="454.30" y="371.50" width="17.7" height="4.6" fill="#f2a8ac"/><rect x="455.87" y="371.50" width="0.4" height="4.6" fill="#f6c2c4"/><rect x="457.64" y="371.50" width="0.4" height="4.6" fill="#f6c2c4"/><rect x="459.41" y="371.50" width="0.4" height="4.6" fill="#f6c2c4"/><rect x="461.18" y="371.50" width="0.4" height="4.6" fill="#f6c2c4"/><rect x="462.95" y="371.50" width="0.4" height="4.6" fill="#f6c2c4"/><rect x="464.72" y="371.50" width="0.4" height="4.6" fill="#f6c2c4"/><rect x="466.49" y="371.50" width="0.4" height="4.6" fill="#f6c2c4"/><rect x="468.26" y="371.50" width="0.4" height="4.6" fill="#f6c2c4"/><rect x="470.03" y="371.50" width="0.4" height="4.6" fill="#f6c2c4"/><text transform="translate(454.35,383.10) scale(1,2.7)" font-size="2.5" fill="#ec9a9a" font-weight="bold">A</text><text transform="translate(456.12,383.10) scale(1,2.7)" font-size="2.5" fill="#d8d890" font-weight="bold">G</text><text transform="translate(457.89,383.10) scale(1,2.7)" font-size="2.5" fill="#d8d890" font-weight="bold">G</text><text transform="translate(459.66,383.10) scale(1,2.7)" font-size="2.5" fill="#d8d890" font-weight="bold">G</text><text transform="translate(461.43,383.10) scale(1,2.7)" font-size="2.5" fill="#9a9aee" font-weight="bold">C</text><text transform="translate(463.20,383.10) scale(1,2.7)" font-size="2.5" fill="#ec9a9a" font-weight="bold">A</text><text transform="translate(464.97,383.10) scale(1,2.7)" font-size="2.5" fill="#9a9aee" font-weight="bold">C</text><text transform="translate(466.74,383.10) scale(1,2.7)" font-size="2.5" fill="#94dc94" font-weight="bold">T</text><text transform="translate(468.51,383.10) scale(1,2.7)" font-size="2.5" fill="#d8d890" font-weight="bold">G</text><text transform="translate(470.28,383.10) scale(1,2.7)" font-size="2.5" fill="#d8d890" font-weight="bold">G</text><rect x="473.90" y="362.70" width="1.82" height="5.2" fill="#c8c020"/><rect x="475.67" y="362.70" width="1.82" height="5.2" fill="#c8c020"/><rect x="477.44" y="362.70" width="1.82" height="5.2" fill="#2828d8"/><rect x="479.21" y="362.70" width="1.82" height="5.2" fill="#e02828"/><rect x="480.98" y="362.70" width="1.82" height="5.2" fill="#2828d8"/><rect x="482.75" y="362.70" width="1.82" height="5.2" fill="#2828d8"/><rect x="484.52" y="362.70" width="1.82" height="5.2" fill="#e02828"/><rect x="486.29" y="362.70" width="1.82" height="5.2" fill="#e02828"/><rect x="488.06" y="362.70" width="1.82" height="5.2" fill="#2828d8"/><rect x="489.83" y="362.70" width="1.82" height="5.2" fill="#e02828"/><text x="474.10" y="370.50" font-size="2.4" fill="#666" textLength="17.2" lengthAdjust="spacingAndGlyphs">GGCACCAACA</text><rect x="473.90" y="371.50" width="17.7" height="4.6" fill="#f2a8ac"/><rect x="475.47" y="371.50" width="0.4" height="4.6" fill="#f6c2c4"/><rect x="477.24" y="371.50" width="0.4" height="4.6" fill="#f6c2c4"/><rect x="479.01" y="371.50" width="0.4" height="4.6" fill="#f6c2c4"/><rect x="480.78" y="371.50" width="0.4" height="4.6" fill="#f6c2c4"/><rect x="482.55" y="371.50" width="0.4" height="4.6" fill="#f6c2c4"/><rect x="484.32" y="371.50" width="0.4" height="4.6" fill="#f6c2c4"/><rect x="486.09" y="371.50" width="0.4" height="4.6" fill="#f6c2c4"/><rect x="487.86" y="371.50" width="0.4" height="4.6" fill="#f6c2c4"/><rect x="489.63" y="371.50" width="0.4" height="4.6" fill="#f6c2c4"/><text transform="translate(473.95,383.10) scale(1,2.7)" font-size="2.5" fill="#d8d890" font-weight="bold">G</text><text transform="translate(475.72,383.10) scale(1,2.7)" font-size="2.5" fill="#d8d890" font-weight="bold">G</text><text transform="translate(477.49,383.10) scale(1,2.7)" font-size="2.5" fill="#9a9aee" font-weight="bold">C</text><text transform="translate(479.26,383.10) scale(1,2.7)" font-size="2.5" fill="#ec9a9a" font-weight="bold">A</text><text transform="translate(481.03,383.10) scale(1,2.7)" font-size="2.5" fill="#9a9aee" font-weight="bold">C</text><text transform="translate(482.80,383.10) scale(1,2.7)" font-size="2.5" fill="#9a9aee" font-weight="bold">C</text><text transform="translate(484.57,383.10) scale(1,2.7)" font-size="2.5" fill="#ec9a9a" font-weight="bold">A</text><text transform="translate(486.34,383.10) scale(1,2.7)" font-size="2.5" fill="#ec9a9a" font-weight="bold">A</text><text transform="translate(488.11,383.10) scale(1,2.7)" font-size="2.5" fill="#9a9aee" font-weight="bold">C</text><text transform="translate(489.88,383.10) scale(1,2.7)" font-size="2.5" fill="#ec9a9a" font-weight="bold">A</text><text x="490.90" y="361.90" font-size="2.0" fill="#555">1600</text><rect x="493.50" y="362.70" width="1.82" height="5.2" fill="#c8c020"/><rect x="495.27" y="362.70" width="1.82" height="5.2" fill="#28b028"/><rect x="497.04" y="362.70" width="1.82" height="5.2" fill="#c8c020"/><rect x="498.81" y="362.70" width="1.82" height="5.2" fill="#c8c020"/><rect x="500.58" y="362.70" width="1.82" height="5.2" fill="#e02828"/><rect x="502.35" y="362.70" width="1.82" height="5.2" fill="#e02828"/><rect x="504.12" y="362.70" width="1.82" height="5.2" fill="#28b028"/><rect x="505.89" y="362.70" width="1.82" height="5.2" fill="#28b028"/><rect x="507.66" y="362.70" width="1.82" height="5.2" fill="#2828d8"/><rect x="509.43" y="362.70" width="1.82" height="5.2" fill="#e02828"/><text x="493.70" y="370.50" font-size="2.4" fill="#666" textLength="17.2" lengthAdjust="spacingAndGlyphs">GTGGAATTCA</text><rect x="493.50" y="371.50" width="17.7" height="4.6" fill="#f2a8ac"/><rect x="495.07" y="371.50" width="0.4" height="4.6" fill="#f6c2c4"/><rect x="496.84" y="371.50" width="0.4" height="4.6" fill="#f6c2c4"/><rect x="498.61" y="371.50" width="0.4" height="4.6" fill="#f6c2c4"/><rect x="500.38" y="371.50" width="0.4" height="4.6" fill="#f6c2c4"/><rect x="502.15" y="371.50" width="0.4" height="4.6" fill="#f6c2c4"/><rect x="503.92" y="371.50" width="0.4" height="4.6" fill="#f6c2c4"/><rect x="505.69" y="371.50" width="0.4" height="4.6" fill="#f6c2c4"/><rect x="507.46" y="371.50" width="0.4" height="4.6" fill="#f6c2c4"/><rect x="509.23" y="371.50" width="0.4" height="4.6" fill="#f6c2c4"/><text transform="translate(493.55,383.10) scale(1,2.7)" font-size="2.5" fill="#d8d890" font-weight="bold">G</text><text transform="translate(495.32,383.10) scale(1,2.7)" font-size="2.5" fill="#94dc94" font-weight="bold">T</text><text transform="translate(497.09,383.10) scale(1,2.7)" font-size="2.5" fill="#d8d890" font-weight="bold">G</text><text transform="translate(498.86,383.10) scale(1,2.7)" font-size="2.5" fill="#d8d890" font-weight="bold">G</text><text transform="translate(500.63,383.10) scale(1,2.7)" font-size="2.5" fill="#ec9a9a" font-weight="bold">A</text><text transform="translate(502.40,383.10) scale(1,2.7)" font-size="2.5" fill="#ec9a9a" font-weight="bold">A</text><text transform="translate(504.17,383.10) scale(1,2.7)" font-size="2.5" fill="#94dc94" font-weight="bold">T</text><text transform="translate(505.94,383.10) scale(1,2.7)" font-size="2.5" fill="#94dc94" font-weight="bold">T</text><text transform="translate(507.71,383.10) scale(1,2.7)" font-size="2.5" fill="#9a9aee" font-weight="bold">C</text><text transform="translate(509.48,383.10) scale(1,2.7)" font-size="2.5" fill="#ec9a9a" font-weight="bold">A</text><rect x="513.10" y="362.70" width="1.82" height="5.2" fill="#2828d8"/><rect x="514.87" y="362.70" width="1.82" height="5.2" fill="#2828d8"/><rect x="516.64" y="362.70" width="1.82" height="5.2" fill="#28b028"/><rect x="518.41" y="362.70" width="1.82" height="5.2" fill="#c8c020"/><rect x="520.18" y="362.70" width="1.82" height="5.2" fill="#2828d8"/><rect x="521.95" y="362.70" width="1.82" height="5.2" fill="#c8c020"/><rect x="523.72" y="362.70" width="1.82" height="5.2" fill="#28b028"/><rect x="525.49" y="362.70" width="1.82" height="5.2" fill="#e02828"/><rect x="527.26" y="362.70" width="1.82" height="5.2" fill="#2828d8"/><rect x="529.03" y="362.70" width="1.82" height="5.2" fill="#c8c020"/><text x="513.30" y="370.50" font-size="2.4" fill="#666" textLength="17.2" lengthAdjust="spacingAndGlyphs">CCTGCGTACG</text><rect x="513.10" y="371.50" width="17.7" height="4.6" fill="#f2a8ac"/><rect x="514.67" y="371.50" width="0.4" height="4.6" fill="#f6c2c4"/><rect x="516.44" y="371.50" width="0.4" height="4.6" fill="#f6c2c4"/><rect x="518.21" y="371.50" width="0.4" height="4.6" fill="#f6c2c4"/><rect x="519.98" y="371.50" width="0.4" height="4.6" fill="#f6c2c4"/><rect x="521.75" y="371.50" width="0.4" height="4.6" fill="#f6c2c4"/><rect x="523.52" y="371.50" width="0.4" height="4.6" fill="#f6c2c4"/><rect x="525.29" y="371.50" width="0.4" height="4.6" fill="#f6c2c4"/><rect x="527.06" y="371.50" width="0.4" height="4.6" fill="#f6c2c4"/><rect x="528.83" y="371.50" width="0.4" height="4.6" fill="#f6c2c4"/><text transform="translate(513.15,383.10) scale(1,2.7)" font-size="2.5" fill="#9a9aee" font-weight="bold">C</text><text transform="translate(514.92,383.10) scale(1,2.7)" font-size="2.5" fill="#9a9aee" font-weight="bold">C</text><text transform="translate(516.69,383.10) scale(1,2.7)" font-size="2.5" fill="#94dc94" font-weight="bold">T</text><text transform="translate(518.46,383.10) scale(1,2.7)" font-size="2.5" fill="#d8d890" font-weight="bold">G</text><text transform="translate(520.23,383.10) scale(1,2.7)" font-size="2.5" fill="#9a9aee" font-weight="bold">C</text><text transform="translate(522.00,383.10) scale(1,2.7)" font-size="2.5" fill="#d8d890" font-weight="bold">G</text><text transform="translate(523.77,383.10) scale(1,2.7)" font-size="2.5" fill="#94dc94" font-weight="bold">T</text><text transform="translate(525.54,383.10) scale(1,2.7)" font-size="2.5" fill="#ec9a9a" font-weight="bold">A</text><text transform="translate(527.31,383.10) scale(1,2.7)" font-size="2.5" fill="#9a9aee" font-weight="bold">C</text><text transform="translate(529.08,383.10) scale(1,2.7)" font-size="2.5" fill="#d8d890" font-weight="bold">G</text><text x="530.10" y="361.90" font-size="2.0" fill="#555">1640</text>
</g>
<rect x="20.6" y="391.5" width="353.0" height="166.5" fill="#fff" stroke="#b0b0b0" stroke-width="0.9"/>
<line x1="74.60" y1="396.50" x2="343.50" y2="396.50" stroke="#e4e4e4" stroke-width="0.7" />
<text x="70.40" y="398.30" font-size="5.0" fill="#111" font-weight="bold"  text-anchor="end"  >1.E+05</text>
<line x1="74.60" y1="414.80" x2="343.50" y2="414.80" stroke="#e4e4e4" stroke-width="0.7" />
<text x="70.40" y="416.60" font-size="5.0" fill="#111" font-weight="bold"  text-anchor="end"  >1.E+04</text>
<line x1="74.60" y1="433.10" x2="343.50" y2="433.10" stroke="#e4e4e4" stroke-width="0.7" />
<text x="70.40" y="434.90" font-size="5.0" fill="#111" font-weight="bold"  text-anchor="end"  >1.E+03</text>
<line x1="74.60" y1="451.40" x2="343.50" y2="451.40" stroke="#e4e4e4" stroke-width="0.7" />
<text x="70.40" y="453.20" font-size="5.0" fill="#111" font-weight="bold"  text-anchor="end"  >1.E+02</text>
<line x1="74.60" y1="469.70" x2="343.50" y2="469.70" stroke="#e4e4e4" stroke-width="0.7" />
<text x="70.40" y="471.50" font-size="5.0" fill="#111" font-weight="bold"  text-anchor="end"  >1.E+01</text>
<text x="70.40" y="489.80" font-size="5.0" fill="#111" font-weight="bold"  text-anchor="end"  >1.E+00</text>
<line x1="74.60" y1="396.50" x2="74.60" y2="488.00" stroke="#555" stroke-width="0.9" />
<line x1="74.60" y1="488.00" x2="343.50" y2="488.00" stroke="#808080" stroke-width="0.9" />
<text transform="translate(49.2,438.5) rotate(-90)" font-size="8.4" font-weight="bold" text-anchor="middle" fill="#111">TPM</text>
<rect x="80.10" y="412.40" width="1.80" height="75.60" fill="#f89a6c" />
<rect x="77.4" y="410.0" width="6.8" height="78" fill="none" stroke="#f07878" stroke-width="0.7"/>
<line x1="87.70" y1="484.30" x2="120.90" y2="484.30" stroke="#222" stroke-width="0.9" />
<text x="87.80" y="469.80" font-size="6.6" fill="#111" font-weight="bold"  text-anchor="start"  >N.D.</text>
<line x1="86.4" y1="468.0" x2="77.0" y2="482.8" stroke="#1f70aa" stroke-width="0.95"/>
<path d="M75.6,485.2 l0.5,-3.4 l2.2,1.3 z" fill="#1f70aa"/>
<line x1="98.1" y1="471.4" x2="104.9" y2="480.6" stroke="#1f70aa" stroke-width="0.95"/>
<path d="M106.4,482.6 l-3.1,-1.2 l1.9,-1.5 z" fill="#1f70aa"/>
<text x="103.30" y="401.30" font-size="5.2" fill="#111" font-weight="bold"  text-anchor="middle"  >Positively</text>
<text x="103.50" y="407.60" font-size="5.2" fill="#111" font-weight="bold"  text-anchor="middle"  >detected</text>
<line x1="102.7" y1="409" x2="86.5" y2="420" stroke="#f04040" stroke-width="0.6"/>
<path d="M84.7,421.2 l2.4,-2.6 l0.8,1.3 z" fill="#f04040"/>
<text transform="translate(80.8,493.6) rotate(-45)" font-size="5.1" font-weight="bold" text-anchor="end" fill="#000">AAV9_CMV_hEPO</text>
<text transform="translate(90.5,493.6) rotate(-45)" font-size="5.1" font-weight="bold" text-anchor="end" fill="#000">hFST_CDS_NM_013409.3_1035b</text>
<text transform="translate(100.2,493.6) rotate(-45)" font-size="5.1" font-weight="bold" text-anchor="end" fill="#000">hMSTN_CDS_NM_005259.3_1128b</text>
<text transform="translate(109.9,493.6) rotate(-45)" font-size="5.1" font-weight="bold" text-anchor="end" fill="#000">hIGF1_CDS_NM_001111283.3_477b</text>
<text transform="translate(119.6,493.6) rotate(-45)" font-size="5.1" font-weight="bold" text-anchor="end" fill="#000">hGH1_CDS_NM_000515.5_654b</text>
<rect x="127.00" y="401.60" width="2.10" height="86.40" fill="#717171" />
<rect x="129.80" y="402.00" width="2.10" height="86.00" fill="#f8a47c" />
<text transform="translate(131.6,494.2) rotate(-45)" font-size="5.0" font-weight="bold" text-anchor="end" fill="#111">1</text>
<rect x="136.97" y="401.80" width="2.10" height="86.20" fill="#717171" />
<rect x="139.77" y="402.00" width="2.10" height="86.00" fill="#f8a47c" />
<text transform="translate(141.6,494.2) rotate(-45)" font-size="5.0" font-weight="bold" text-anchor="end" fill="#111">2</text>
<rect x="146.93" y="402.40" width="2.10" height="85.60" fill="#717171" />
<rect x="149.73" y="402.60" width="2.10" height="85.40" fill="#f8a47c" />
<text transform="translate(151.5,494.2) rotate(-45)" font-size="5.0" font-weight="bold" text-anchor="end" fill="#111">3</text>
<rect x="156.90" y="401.90" width="2.10" height="86.10" fill="#717171" />
<rect x="159.70" y="402.00" width="2.10" height="86.00" fill="#f8a47c" />
<text transform="translate(161.5,494.2) rotate(-45)" font-size="5.0" font-weight="bold" text-anchor="end" fill="#111">4</text>
<rect x="166.86" y="401.20" width="2.10" height="86.80" fill="#717171" />
<rect x="169.66" y="401.40" width="2.10" height="86.60" fill="#f8a47c" />
<text transform="translate(171.5,494.2) rotate(-45)" font-size="5.0" font-weight="bold" text-anchor="end" fill="#111">5</text>
<rect x="176.82" y="402.10" width="2.10" height="85.90" fill="#717171" />
<rect x="179.62" y="402.30" width="2.10" height="85.70" fill="#f8a47c" />
<text transform="translate(181.4,494.2) rotate(-45)" font-size="5.0" font-weight="bold" text-anchor="end" fill="#111">6</text>
<rect x="186.79" y="401.50" width="2.10" height="86.50" fill="#717171" />
<rect x="189.59" y="401.70" width="2.10" height="86.30" fill="#f8a47c" />
<text transform="translate(191.4,494.2) rotate(-45)" font-size="5.0" font-weight="bold" text-anchor="end" fill="#111">7</text>
<rect x="196.75" y="402.00" width="2.10" height="86.00" fill="#717171" />
<rect x="199.56" y="402.20" width="2.10" height="85.80" fill="#f8a47c" />
<text transform="translate(201.4,494.2) rotate(-45)" font-size="5.0" font-weight="bold" text-anchor="end" fill="#111">8</text>
<rect x="206.72" y="401.90" width="2.10" height="86.10" fill="#717171" />
<rect x="209.52" y="402.00" width="2.10" height="86.00" fill="#f8a47c" />
<text transform="translate(211.3,494.2) rotate(-45)" font-size="5.0" font-weight="bold" text-anchor="end" fill="#111">9</text>
<rect x="216.69" y="401.30" width="2.10" height="86.70" fill="#717171" />
<rect x="219.49" y="401.50" width="2.10" height="86.50" fill="#f8a47c" />
<text transform="translate(221.3,494.2) rotate(-45)" font-size="5.0" font-weight="bold" text-anchor="end" fill="#111">10</text>
<rect x="226.65" y="401.50" width="2.10" height="86.50" fill="#717171" />
<rect x="229.45" y="401.90" width="2.10" height="86.10" fill="#f8a47c" />
<text transform="translate(231.2,494.2) rotate(-45)" font-size="5.0" font-weight="bold" text-anchor="end" fill="#111">11</text>
<rect x="236.62" y="402.40" width="2.10" height="85.60" fill="#717171" />
<rect x="239.42" y="402.60" width="2.10" height="85.40" fill="#f8a47c" />
<text transform="translate(241.2,494.2) rotate(-45)" font-size="5.0" font-weight="bold" text-anchor="end" fill="#111">12</text>
<rect x="246.58" y="402.30" width="2.10" height="85.70" fill="#717171" />
<rect x="249.38" y="402.50" width="2.10" height="85.50" fill="#f8a47c" />
<text transform="translate(251.2,494.2) rotate(-45)" font-size="5.0" font-weight="bold" text-anchor="end" fill="#111">13</text>
<rect x="256.54" y="402.60" width="2.10" height="85.40" fill="#717171" />
<rect x="259.34" y="402.80" width="2.10" height="85.20" fill="#f8a47c" />
<text transform="translate(261.1,494.2) rotate(-45)" font-size="5.0" font-weight="bold" text-anchor="end" fill="#111">14</text>
<rect x="266.51" y="401.20" width="2.10" height="86.80" fill="#717171" />
<rect x="269.31" y="401.40" width="2.10" height="86.60" fill="#f8a47c" />
<text transform="translate(271.1,494.2) rotate(-45)" font-size="5.0" font-weight="bold" text-anchor="end" fill="#111">15</text>
<rect x="276.48" y="401.40" width="2.10" height="86.60" fill="#717171" />
<rect x="279.28" y="401.60" width="2.10" height="86.40" fill="#f8a47c" />
<text transform="translate(281.1,494.2) rotate(-45)" font-size="5.0" font-weight="bold" text-anchor="end" fill="#111">16</text>
<rect x="286.44" y="401.50" width="2.10" height="86.50" fill="#717171" />
<rect x="289.24" y="401.80" width="2.10" height="86.20" fill="#f8a47c" />
<text transform="translate(291.0,494.2) rotate(-45)" font-size="5.0" font-weight="bold" text-anchor="end" fill="#111">17</text>
<rect x="296.40" y="401.60" width="2.10" height="86.40" fill="#717171" />
<rect x="299.20" y="401.80" width="2.10" height="86.20" fill="#f8a47c" />
<text transform="translate(301.0,494.2) rotate(-45)" font-size="5.0" font-weight="bold" text-anchor="end" fill="#111">18</text>
<rect x="306.37" y="401.40" width="2.10" height="86.60" fill="#717171" />
<rect x="309.17" y="401.70" width="2.10" height="86.30" fill="#f8a47c" />
<text transform="translate(311.0,494.2) rotate(-45)" font-size="5.0" font-weight="bold" text-anchor="end" fill="#111">19</text>
<rect x="316.34" y="407.20" width="2.10" height="80.80" fill="#717171" />
<rect x="319.14" y="407.40" width="2.10" height="80.60" fill="#f8a47c" />
<text transform="translate(320.9,494.2) rotate(-45)" font-size="5.0" font-weight="bold" text-anchor="end" fill="#111">X</text>
<rect x="326.30" y="434.80" width="2.10" height="53.20" fill="#717171" />
<rect x="329.10" y="434.90" width="2.10" height="53.10" fill="#f8a47c" />
<text transform="translate(330.9,494.2) rotate(-45)" font-size="5.0" font-weight="bold" text-anchor="end" fill="#111">Y</text>
<line x1="126.50" y1="501.00" x2="334.20" y2="501.00" stroke="#555" stroke-width="1.3" />
<text x="217.90" y="511.90" font-size="8.2" fill="#111" font-weight="bold"  text-anchor="middle"  >Ch. numbers</text>
<rect x="329.60" y="401.90" width="5.30" height="5.90" fill="#6d6d6d" />
<text x="337.60" y="407.00" font-size="5.6" fill="#111" font-weight="bold"  text-anchor="start"  >Cont.</text>
<rect x="329.60" y="413.10" width="5.30" height="5.70" fill="#f6a47e" />
<text x="337.2" y="418.3" font-size="5.75" font-weight="bold" fill="#111">AAV9_h<tspan font-style="italic">EPO</tspan></text>
<text x="430.30" y="535.00" font-size="7.6" fill="#111" font-weight="bold"  text-anchor="end"  >0.00</text>
<line x1="437.00" y1="516.95" x2="545.50" y2="516.95" stroke="#e8e8e8" stroke-width="0.6" />
<text x="430.30" y="519.65" font-size="7.6" fill="#111" font-weight="bold"  text-anchor="end"  >0.05</text>
<line x1="437.00" y1="501.60" x2="545.50" y2="501.60" stroke="#e8e8e8" stroke-width="0.6" />
<text x="430.30" y="504.30" font-size="7.6" fill="#111" font-weight="bold"  text-anchor="end"  >0.10</text>
<line x1="437.00" y1="486.25" x2="545.50" y2="486.25" stroke="#e8e8e8" stroke-width="0.6" />
<text x="430.30" y="488.95" font-size="7.6" fill="#111" font-weight="bold"  text-anchor="end"  >0.15</text>
<line x1="437.00" y1="470.90" x2="545.50" y2="470.90" stroke="#e8e8e8" stroke-width="0.6" />
<text x="430.30" y="473.60" font-size="7.6" fill="#111" font-weight="bold"  text-anchor="end"  >0.20</text>
<line x1="437.00" y1="455.55" x2="545.50" y2="455.55" stroke="#e8e8e8" stroke-width="0.6" />
<text x="430.30" y="458.25" font-size="7.6" fill="#111" font-weight="bold"  text-anchor="end"  >0.25</text>
<line x1="437.00" y1="440.20" x2="545.50" y2="440.20" stroke="#e8e8e8" stroke-width="0.6" />
<text x="430.30" y="442.90" font-size="7.6" fill="#111" font-weight="bold"  text-anchor="end"  >0.30</text>
<line x1="437.00" y1="424.85" x2="545.50" y2="424.85" stroke="#e8e8e8" stroke-width="0.6" />
<text x="430.30" y="427.55" font-size="7.6" fill="#111" font-weight="bold"  text-anchor="end"  >0.35</text>
<line x1="437.00" y1="409.50" x2="545.50" y2="409.50" stroke="#e8e8e8" stroke-width="0.6" />
<text x="430.30" y="412.20" font-size="7.6" fill="#111" font-weight="bold"  text-anchor="end"  >0.40</text>
<line x1="437.00" y1="409.50" x2="437.00" y2="532.30" stroke="#bdbdbd" stroke-width="0.9" />
<line x1="437.00" y1="532.30" x2="548.60" y2="532.30" stroke="#bdbdbd" stroke-width="0.9" />
<rect x="509.90" y="445.50" width="17.20" height="86.80" fill="#f9a67f" />
<text x="518.30" y="441.40" font-size="7.6" fill="#111" font-weight="bold"  text-anchor="middle"  >0.28</text>
<text x="462.70" y="529.10" font-size="6.2" fill="#111" font-weight="bold"  text-anchor="middle"  >N.D.</text>
<text x="464.00" y="546.60" font-size="9.0" fill="#111" font-weight="bold"  text-anchor="middle"  >Con.</text>
<text x="518.0" y="546.6" font-size="9.0" font-weight="bold" text-anchor="middle" fill="#111">AAV9_h<tspan font-style="italic">EPO</tspan></text>
<text transform="translate(401.4,471) rotate(-90)" font-size="7.6" font-weight="bold" text-anchor="middle" fill="#111">Number of fragments of</text>
<text transform="translate(410.4,471) rotate(-90)" font-size="7.6" font-weight="bold" text-anchor="middle" fill="#111">the proof / nucleus</text>
<text x="4.40" y="16.80" font-size="19.6" fill="#000" font-weight="bold"  text-anchor="start"  >A</text>
<text x="19.00" y="249.60" font-size="20.0" fill="#000" font-weight="bold"  text-anchor="start"  >B</text>
<text x="314.40" y="245.60" font-size="20.0" fill="#000" font-weight="bold"  text-anchor="start"  >C</text>
<text x="1.90" y="398.70" font-size="18.6" fill="#000" font-weight="bold"  text-anchor="start"  >D</text>
<text x="393.40" y="410.60" font-size="19.8" fill="#000" font-weight="bold"  text-anchor="start"  >E</text>
</svg>
</body></html>
